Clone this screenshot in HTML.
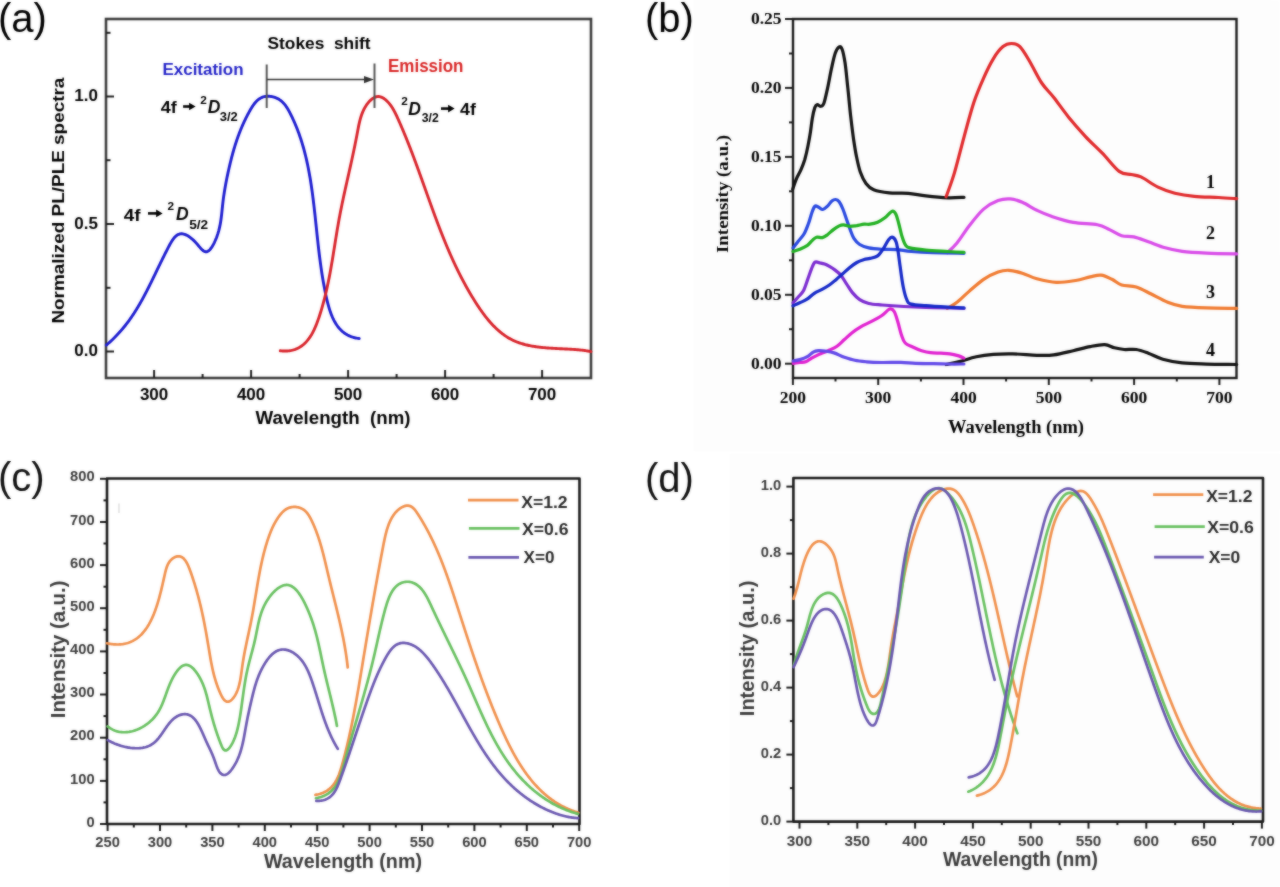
<!DOCTYPE html>
<html><head><meta charset="utf-8"><title>Spectra figure</title>
<style>
html,body{margin:0;padding:0;background:#fff;}
body{width:1280px;height:887px;overflow:hidden;position:relative;font-family:"Liberation Sans",sans-serif;}
svg{display:block;position:absolute;left:0;top:0;will-change:transform;}
#soft{filter:blur(1px);}
#sharp{opacity:0.5;}
</style></head>
<body>
<svg id="soft" width="1280" height="887" viewBox="0 0 1280 887">
<g id="fig">
<rect x="0" y="0" width="1280" height="887" fill="#ffffff"/>
<rect x="694" y="0" width="586" height="451" fill="#fdfdfd"/>
<rect x="730" y="454" width="550" height="433" fill="#fdfdfd"/>
<rect x="106.0" y="19.0" width="485" height="359" fill="none" stroke="#3c3c3c" stroke-width="2.6"/>
<line x1="106.0" y1="351.5" x2="114.0" y2="351.5" stroke="#1e1e1e" stroke-width="2.00"/>
<line x1="106.0" y1="224.0" x2="114.0" y2="224.0" stroke="#1e1e1e" stroke-width="2.00"/>
<line x1="106.0" y1="96.5" x2="114.0" y2="96.5" stroke="#1e1e1e" stroke-width="2.00"/>
<line x1="106.0" y1="287.8" x2="110.5" y2="287.8" stroke="#1e1e1e" stroke-width="2.00"/>
<line x1="106.0" y1="160.2" x2="110.5" y2="160.2" stroke="#1e1e1e" stroke-width="2.00"/>
<line x1="106.0" y1="32.8" x2="110.5" y2="32.8" stroke="#1e1e1e" stroke-width="2.00"/>
<line x1="154.1" y1="378.0" x2="154.1" y2="370.0" stroke="#1e1e1e" stroke-width="2.00"/>
<line x1="251.1" y1="378.0" x2="251.1" y2="370.0" stroke="#1e1e1e" stroke-width="2.00"/>
<line x1="348.1" y1="378.0" x2="348.1" y2="370.0" stroke="#1e1e1e" stroke-width="2.00"/>
<line x1="445.1" y1="378.0" x2="445.1" y2="370.0" stroke="#1e1e1e" stroke-width="2.00"/>
<line x1="542.1" y1="378.0" x2="542.1" y2="370.0" stroke="#1e1e1e" stroke-width="2.00"/>
<line x1="202.6" y1="378.0" x2="202.6" y2="374.0" stroke="#1e1e1e" stroke-width="2.00"/>
<line x1="299.6" y1="378.0" x2="299.6" y2="374.0" stroke="#1e1e1e" stroke-width="2.00"/>
<line x1="396.6" y1="378.0" x2="396.6" y2="374.0" stroke="#1e1e1e" stroke-width="2.00"/>
<line x1="493.6" y1="378.0" x2="493.6" y2="374.0" stroke="#1e1e1e" stroke-width="2.00"/>
<text x="98.0" y="356.1" font-family="'Liberation Sans', sans-serif" font-size="17.00" font-weight="bold" fill="#000" text-anchor="end">0.0</text>
<text x="98.0" y="228.6" font-family="'Liberation Sans', sans-serif" font-size="17.00" font-weight="bold" fill="#000" text-anchor="end">0.5</text>
<text x="98.0" y="101.1" font-family="'Liberation Sans', sans-serif" font-size="17.00" font-weight="bold" fill="#000" text-anchor="end">1.0</text>
<text x="154.1" y="399.8" font-family="'Liberation Sans', sans-serif" font-size="17.00" font-weight="bold" fill="#000" text-anchor="middle">300</text>
<text x="251.1" y="399.8" font-family="'Liberation Sans', sans-serif" font-size="17.00" font-weight="bold" fill="#000" text-anchor="middle">400</text>
<text x="348.1" y="399.8" font-family="'Liberation Sans', sans-serif" font-size="17.00" font-weight="bold" fill="#000" text-anchor="middle">500</text>
<text x="445.1" y="399.8" font-family="'Liberation Sans', sans-serif" font-size="17.00" font-weight="bold" fill="#000" text-anchor="middle">600</text>
<text x="542.1" y="399.8" font-family="'Liberation Sans', sans-serif" font-size="17.00" font-weight="bold" fill="#000" text-anchor="middle">700</text>
<text x="333.0" y="423.5" font-family="'Liberation Sans', sans-serif" font-size="17.50" font-weight="bold" fill="#000" text-anchor="middle" textLength="155" lengthAdjust="spacingAndGlyphs">Wavelength&#160;&#160;(nm)</text>
<text transform="translate(63.5,200.6) rotate(-90)" font-family="'Liberation Sans', sans-serif" font-size="17" font-weight="bold" fill="#000" text-anchor="middle" textLength="246" lengthAdjust="spacingAndGlyphs">Normalized PL/PLE spectra</text>
<path d="M106.34,345.14 L107.16,344.44 L107.96,343.74 L108.76,343.03 L109.55,342.32 L110.33,341.61 L111.10,340.90 L111.86,340.18 L112.62,339.46 L113.36,338.73 L114.10,338.01 L114.83,337.28 L115.55,336.54 L116.26,335.81 L116.97,335.07 L117.66,334.33 L118.35,333.59 L119.04,332.84 L119.71,332.09 L120.38,331.34 L121.04,330.58 L121.70,329.82 L122.34,329.06 L122.98,328.30 L123.62,327.53 L124.24,326.76 L124.86,325.99 L125.48,325.22 L126.09,324.44 L126.69,323.66 L127.28,322.88 L127.87,322.09 L128.46,321.31 L129.04,320.52 L129.61,319.72 L130.18,318.93 L130.74,318.13 L131.29,317.33 L131.85,316.52 L132.39,315.72 L132.94,314.91 L133.47,314.10 L134.01,313.29 L134.53,312.47 L135.06,311.65 L135.58,310.83 L136.09,310.01 L136.60,309.18 L137.11,308.35 L137.61,307.52 L138.11,306.69 L138.61,305.85 L139.10,305.02 L139.59,304.18 L140.08,303.33 L140.56,302.49 L141.04,301.64 L141.52,300.79 L141.99,299.94 L142.46,299.08 L142.93,298.23 L143.40,297.37 L143.86,296.51 L144.32,295.64 L144.78,294.78 L145.24,293.91 L145.70,293.04 L146.15,292.17 L146.60,291.29 L147.05,290.41 L147.50,289.54 L147.95,288.65 L148.40,287.77 L148.84,286.89 L149.29,286.00 L149.73,285.11 L150.17,284.22 L150.62,283.32 L151.06,282.43 L151.50,281.53 L151.94,280.63 L152.38,279.73 L152.82,278.82 L153.26,277.91 L153.70,277.01 L154.14,276.10 L154.59,275.18 L155.03,274.27 L155.47,273.35 L155.91,272.43 L156.36,271.51 L156.80,270.59 L157.25,269.67 L157.70,268.74 L158.14,267.82 L158.59,266.89 L159.05,265.95 L159.50,265.02 L159.95,264.09 L160.41,263.15 L160.87,262.21 L161.33,261.27 L161.79,260.33 L162.26,259.38 L162.73,258.44 L163.20,257.49 L163.67,256.54 L164.14,255.59 L164.62,254.64 L165.10,253.68 L165.59,252.72 L166.08,251.77 L166.57,250.81 L167.06,249.85 L167.56,248.88 L168.06,247.92 L168.57,246.95 L169.08,245.99 L169.59,245.02 L170.11,244.07 L170.64,243.13 L171.18,242.20 L171.73,241.30 L172.29,240.43 L172.86,239.59 L173.44,238.78 L174.04,238.02 L174.65,237.30 L175.28,236.64 L175.93,236.03 L176.60,235.49 L177.29,235.01 L178.00,234.60 L178.74,234.27 L179.50,234.01 L180.28,233.85 L181.09,233.77 L181.92,233.78 L182.78,233.88 L183.66,234.07 L184.55,234.33 L185.46,234.67 L186.37,235.08 L187.30,235.55 L188.22,236.09 L189.15,236.68 L190.07,237.33 L190.98,238.03 L191.89,238.77 L192.78,239.55 L193.66,240.37 L194.51,241.22 L195.35,242.10 L196.16,243.00 L196.95,243.91 L197.73,244.81 L198.48,245.70 L199.22,246.57 L199.94,247.41 L200.65,248.21 L201.35,248.95 L202.04,249.62 L202.71,250.23 L203.38,250.75 L204.04,251.18 L204.70,251.50 L205.35,251.71 L206.00,251.79 L206.65,251.74 L207.29,251.56 L207.93,251.25 L208.57,250.83 L209.20,250.31 L209.82,249.69 L210.44,248.99 L211.04,248.22 L211.63,247.38 L212.21,246.48 L212.77,245.54 L213.31,244.56 L213.84,243.56 L214.35,242.54 L214.83,241.51 L215.29,240.48 L215.74,239.46 L216.16,238.44 L216.56,237.42 L216.93,236.41 L217.29,235.39 L217.63,234.38 L217.96,233.38 L218.26,232.37 L218.55,231.37 L218.83,230.37 L219.08,229.38 L219.33,228.38 L219.56,227.39 L219.77,226.39 L219.98,225.40 L220.17,224.42 L220.35,223.43 L220.52,222.44 L220.69,221.46 L220.84,220.47 L220.98,219.49 L221.12,218.51 L221.25,217.53 L221.37,216.55 L221.49,215.57 L221.61,214.59 L221.72,213.61 L221.82,212.63 L221.93,211.65 L222.03,210.67 L222.13,209.69 L222.23,208.71 L222.33,207.73 L222.43,206.75 L222.53,205.77 L222.63,204.79 L222.74,203.81 L222.85,202.82 L222.97,201.84 L223.09,200.85 L223.21,199.86 L223.34,198.87 L223.47,197.89 L223.61,196.90 L223.75,195.91 L223.90,194.91 L224.05,193.92 L224.20,192.93 L224.35,191.94 L224.51,190.95 L224.68,189.95 L224.85,188.96 L225.02,187.97 L225.19,186.97 L225.37,185.98 L225.55,184.99 L225.73,184.00 L225.92,183.01 L226.11,182.02 L226.30,181.03 L226.49,180.04 L226.69,179.05 L226.89,178.06 L227.09,177.08 L227.30,176.09 L227.51,175.11 L227.72,174.13 L227.93,173.15 L228.14,172.17 L228.36,171.19 L228.58,170.21 L228.79,169.24 L229.02,168.27 L229.24,167.29 L229.46,166.33 L229.69,165.36 L229.92,164.39 L230.15,163.43 L230.38,162.47 L230.62,161.51 L230.86,160.55 L231.10,159.60 L231.34,158.64 L231.58,157.69 L231.83,156.74 L232.08,155.79 L232.34,154.84 L232.60,153.89 L232.86,152.95 L233.12,152.00 L233.39,151.06 L233.66,150.11 L233.93,149.17 L234.21,148.23 L234.49,147.29 L234.78,146.35 L235.07,145.42 L235.37,144.48 L235.67,143.54 L235.97,142.61 L236.28,141.68 L236.59,140.74 L236.91,139.81 L237.23,138.88 L237.56,137.94 L237.89,137.01 L238.23,136.08 L238.57,135.15 L238.92,134.22 L239.27,133.29 L239.63,132.36 L240.00,131.43 L240.37,130.50 L240.75,129.57 L241.13,128.64 L241.52,127.72 L241.92,126.79 L242.32,125.86 L242.73,124.93 L243.14,124.00 L243.56,123.07 L243.99,122.14 L244.43,121.21 L244.87,120.28 L245.32,119.35 L245.78,118.42 L246.24,117.48 L246.72,116.55 L247.19,115.62 L247.68,114.68 L248.18,113.75 L248.68,112.81 L249.19,111.88 L249.71,110.94 L250.24,110.01 L250.78,109.08 L251.33,108.15 L251.89,107.24 L252.46,106.35 L253.05,105.47 L253.66,104.61 L254.28,103.78 L254.92,102.98 L255.58,102.21 L256.26,101.47 L256.95,100.77 L257.68,100.11 L258.42,99.50 L259.19,98.93 L259.98,98.42 L260.81,97.96 L261.65,97.56 L262.53,97.21 L263.42,96.92 L264.33,96.69 L265.26,96.51 L266.21,96.38 L267.16,96.30 L268.13,96.28 L269.10,96.30 L270.07,96.38 L271.04,96.50 L272.01,96.67 L272.97,96.88 L273.92,97.14 L274.87,97.45 L275.80,97.79 L276.71,98.18 L277.60,98.62 L278.48,99.09 L279.32,99.60 L280.14,100.15 L280.93,100.73 L281.69,101.35 L282.41,102.01 L283.11,102.70 L283.78,103.41 L284.42,104.16 L285.04,104.93 L285.64,105.72 L286.22,106.54 L286.78,107.37 L287.32,108.22 L287.84,109.09 L288.35,109.97 L288.85,110.86 L289.34,111.75 L289.81,112.66 L290.28,113.57 L290.75,114.48 L291.20,115.39 L291.65,116.31 L292.09,117.22 L292.53,118.14 L292.96,119.06 L293.39,119.99 L293.81,120.91 L294.22,121.84 L294.63,122.77 L295.03,123.70 L295.43,124.63 L295.82,125.57 L296.21,126.50 L296.59,127.44 L296.96,128.38 L297.33,129.32 L297.69,130.26 L298.05,131.21 L298.40,132.16 L298.75,133.10 L299.09,134.05 L299.43,135.00 L299.76,135.96 L300.09,136.91 L300.41,137.86 L300.73,138.82 L301.04,139.78 L301.35,140.74 L301.65,141.70 L301.95,142.66 L302.24,143.62 L302.53,144.59 L302.82,145.55 L303.10,146.52 L303.37,147.49 L303.65,148.46 L303.91,149.42 L304.18,150.40 L304.44,151.37 L304.69,152.34 L304.94,153.31 L305.19,154.29 L305.43,155.26 L305.67,156.24 L305.91,157.22 L306.14,158.19 L306.37,159.17 L306.59,160.15 L306.81,161.13 L307.03,162.11 L307.24,163.09 L307.45,164.07 L307.66,165.05 L307.86,166.04 L308.06,167.02 L308.26,168.00 L308.45,168.99 L308.64,169.97 L308.83,170.96 L309.01,171.94 L309.20,172.93 L309.37,173.91 L309.55,174.90 L309.72,175.88 L309.89,176.87 L310.06,177.86 L310.23,178.84 L310.39,179.83 L310.55,180.82 L310.71,181.80 L310.86,182.79 L311.01,183.78 L311.17,184.76 L311.31,185.75 L311.46,186.74 L311.60,187.72 L311.75,188.71 L311.89,189.69 L312.03,190.68 L312.16,191.66 L312.30,192.65 L312.43,193.63 L312.56,194.62 L312.69,195.60 L312.82,196.59 L312.94,197.57 L313.07,198.55 L313.19,199.53 L313.31,200.51 L313.43,201.50 L313.55,202.48 L313.67,203.46 L313.79,204.44 L313.90,205.42 L314.02,206.40 L314.13,207.38 L314.24,208.36 L314.35,209.34 L314.46,210.32 L314.57,211.30 L314.68,212.28 L314.79,213.25 L314.90,214.23 L315.01,215.21 L315.11,216.19 L315.22,217.17 L315.32,218.15 L315.43,219.13 L315.53,220.10 L315.63,221.08 L315.74,222.06 L315.84,223.04 L315.94,224.02 L316.05,225.00 L316.15,225.98 L316.25,226.95 L316.35,227.93 L316.46,228.91 L316.56,229.89 L316.66,230.87 L316.77,231.85 L316.87,232.83 L316.97,233.81 L317.08,234.79 L317.18,235.77 L317.29,236.75 L317.39,237.73 L317.50,238.72 L317.60,239.70 L317.71,240.68 L317.82,241.66 L317.93,242.64 L318.03,243.63 L318.14,244.61 L318.26,245.60 L318.37,246.58 L318.48,247.57 L318.59,248.55 L318.71,249.54 L318.82,250.53 L318.94,251.51 L319.06,252.50 L319.18,253.49 L319.30,254.48 L319.42,255.47 L319.55,256.46 L319.67,257.45 L319.80,258.44 L319.93,259.43 L320.06,260.43 L320.19,261.42 L320.32,262.42 L320.46,263.41 L320.59,264.41 L320.73,265.40 L320.87,266.40 L321.01,267.40 L321.16,268.40 L321.31,269.40 L321.45,270.40 L321.60,271.40 L321.76,272.41 L321.91,273.41 L322.07,274.41 L322.23,275.42 L322.39,276.43 L322.56,277.44 L322.73,278.44 L322.90,279.45 L323.07,280.46 L323.24,281.48 L323.42,282.49 L323.60,283.50 L323.79,284.52 L323.97,285.54 L324.16,286.55 L324.36,287.57 L324.55,288.59 L324.75,289.61 L324.95,290.64 L325.16,291.66 L325.36,292.68 L325.57,293.71 L325.79,294.74 L326.01,295.77 L326.23,296.79 L326.46,297.82 L326.69,298.85 L326.93,299.87 L327.17,300.89 L327.42,301.91 L327.68,302.93 L327.94,303.94 L328.21,304.95 L328.49,305.95 L328.77,306.95 L329.07,307.94 L329.37,308.93 L329.68,309.91 L330.00,310.88 L330.34,311.84 L330.68,312.80 L331.03,313.75 L331.39,314.68 L331.77,315.61 L332.15,316.53 L332.55,317.43 L332.96,318.33 L333.39,319.21 L333.82,320.08 L334.27,320.94 L334.74,321.78 L335.21,322.61 L335.71,323.42 L336.22,324.22 L336.74,325.01 L337.28,325.77 L337.83,326.52 L338.41,327.26 L339.00,327.97 L339.60,328.67 L340.23,329.35 L340.87,330.01 L341.53,330.65 L342.21,331.27 L342.91,331.86 L343.62,332.44 L344.36,333.00 L345.12,333.53 L345.90,334.04 L346.70,334.52 L347.52,334.99 L348.36,335.42 L349.23,335.83 L350.11,336.22 L351.02,336.58 L351.96,336.92 L352.91,337.22 L353.89,337.50 L354.90,337.75 L355.93,337.98 L356.99,338.17 L358.07,338.33 L359.17,338.47" fill="none" stroke="#1c1cd0" stroke-width="2.90" stroke-linejoin="round" stroke-linecap="round"/>
<path d="M280.26,350.80 L281.50,350.92 L282.71,351.01 L283.90,351.05 L285.06,351.06 L286.20,351.03 L287.31,350.97 L288.39,350.87 L289.45,350.74 L290.48,350.58 L291.49,350.38 L292.48,350.15 L293.44,349.89 L294.38,349.60 L295.30,349.28 L296.20,348.94 L297.07,348.56 L297.93,348.15 L298.76,347.72 L299.57,347.26 L300.36,346.78 L301.14,346.27 L301.89,345.74 L302.62,345.18 L303.34,344.60 L304.04,343.99 L304.72,343.37 L305.38,342.72 L306.03,342.05 L306.66,341.37 L307.27,340.66 L307.87,339.94 L308.45,339.19 L309.02,338.43 L309.57,337.65 L310.11,336.86 L310.63,336.05 L311.15,335.23 L311.65,334.39 L312.13,333.54 L312.61,332.68 L313.07,331.80 L313.52,330.91 L313.96,330.02 L314.39,329.11 L314.81,328.19 L315.22,327.26 L315.62,326.33 L316.01,325.39 L316.39,324.44 L316.77,323.49 L317.14,322.52 L317.50,321.56 L317.85,320.59 L318.19,319.62 L318.53,318.64 L318.87,317.66 L319.20,316.68 L319.52,315.70 L319.84,314.72 L320.15,313.74 L320.46,312.76 L320.77,311.78 L321.07,310.80 L321.37,309.81 L321.66,308.83 L321.95,307.85 L322.23,306.87 L322.51,305.88 L322.79,304.90 L323.06,303.92 L323.33,302.94 L323.60,301.95 L323.86,300.97 L324.12,299.99 L324.37,299.00 L324.63,298.02 L324.87,297.04 L325.12,296.06 L325.36,295.07 L325.60,294.09 L325.83,293.11 L326.06,292.12 L326.29,291.14 L326.52,290.15 L326.74,289.17 L326.96,288.19 L327.18,287.20 L327.39,286.22 L327.60,285.24 L327.81,284.25 L328.02,283.27 L328.22,282.29 L328.42,281.30 L328.62,280.32 L328.82,279.33 L329.02,278.35 L329.21,277.37 L329.40,276.38 L329.59,275.40 L329.77,274.42 L329.96,273.43 L330.14,272.45 L330.32,271.47 L330.50,270.48 L330.68,269.50 L330.86,268.52 L331.03,267.53 L331.20,266.55 L331.37,265.57 L331.54,264.59 L331.71,263.60 L331.88,262.62 L332.05,261.64 L332.21,260.66 L332.38,259.67 L332.54,258.69 L332.70,257.71 L332.87,256.73 L333.03,255.75 L333.19,254.76 L333.35,253.78 L333.51,252.80 L333.67,251.82 L333.82,250.84 L333.98,249.86 L334.14,248.88 L334.30,247.90 L334.45,246.92 L334.61,245.94 L334.77,244.96 L334.92,243.98 L335.08,243.00 L335.24,242.02 L335.39,241.04 L335.55,240.06 L335.71,239.09 L335.87,238.11 L336.02,237.13 L336.18,236.15 L336.34,235.18 L336.50,234.20 L336.66,233.22 L336.82,232.24 L336.99,231.27 L337.15,230.29 L337.31,229.32 L337.48,228.34 L337.64,227.37 L337.81,226.39 L337.98,225.42 L338.15,224.44 L338.32,223.47 L338.49,222.49 L338.66,221.52 L338.84,220.55 L339.02,219.58 L339.19,218.60 L339.37,217.63 L339.56,216.66 L339.74,215.69 L339.92,214.72 L340.11,213.75 L340.30,212.78 L340.49,211.81 L340.68,210.84 L340.87,209.87 L341.07,208.90 L341.26,207.93 L341.46,206.96 L341.66,205.99 L341.86,205.02 L342.06,204.05 L342.26,203.08 L342.46,202.11 L342.67,201.15 L342.87,200.18 L343.08,199.21 L343.28,198.24 L343.49,197.27 L343.70,196.30 L343.91,195.33 L344.12,194.36 L344.33,193.39 L344.55,192.43 L344.76,191.46 L344.97,190.49 L345.19,189.52 L345.40,188.55 L345.62,187.58 L345.83,186.60 L346.05,185.63 L346.27,184.66 L346.48,183.69 L346.70,182.72 L346.92,181.75 L347.14,180.77 L347.36,179.80 L347.58,178.83 L347.80,177.85 L348.02,176.88 L348.24,175.90 L348.46,174.93 L348.68,173.95 L348.89,172.98 L349.11,172.00 L349.33,171.02 L349.55,170.04 L349.77,169.06 L349.99,168.08 L350.21,167.10 L350.43,166.12 L350.65,165.14 L350.87,164.16 L351.08,163.18 L351.30,162.19 L351.52,161.21 L351.74,160.22 L351.95,159.23 L352.17,158.25 L352.38,157.26 L352.60,156.27 L352.81,155.28 L353.02,154.29 L353.23,153.30 L353.45,152.31 L353.66,151.31 L353.87,150.32 L354.07,149.32 L354.28,148.32 L354.49,147.33 L354.69,146.33 L354.90,145.33 L355.10,144.33 L355.30,143.32 L355.51,142.32 L355.71,141.32 L355.90,140.31 L356.10,139.30 L356.30,138.30 L356.49,137.29 L356.69,136.27 L356.88,135.26 L357.07,134.25 L357.26,133.23 L357.45,132.22 L357.64,131.20 L357.83,130.19 L358.02,129.17 L358.21,128.15 L358.41,127.14 L358.61,126.13 L358.82,125.12 L359.04,124.11 L359.27,123.11 L359.50,122.11 L359.74,121.11 L360.00,120.12 L360.26,119.14 L360.54,118.16 L360.83,117.18 L361.14,116.22 L361.46,115.26 L361.80,114.30 L362.16,113.36 L362.53,112.42 L362.92,111.50 L363.34,110.58 L363.77,109.67 L364.23,108.77 L364.71,107.88 L365.22,107.01 L365.75,106.15 L366.30,105.29 L366.89,104.45 L367.50,103.63 L368.14,102.82 L368.80,102.04 L369.48,101.29 L370.19,100.57 L370.91,99.90 L371.65,99.27 L372.41,98.69 L373.18,98.16 L373.96,97.70 L374.75,97.31 L375.55,96.99 L376.35,96.75 L377.16,96.59 L377.97,96.52 L378.79,96.54 L379.60,96.65 L380.40,96.84 L381.21,97.11 L382.00,97.45 L382.79,97.85 L383.56,98.31 L384.32,98.82 L385.07,99.38 L385.79,99.97 L386.50,100.59 L387.18,101.24 L387.84,101.92 L388.49,102.62 L389.11,103.34 L389.72,104.09 L390.31,104.85 L390.88,105.64 L391.44,106.44 L391.98,107.26 L392.51,108.10 L393.02,108.96 L393.52,109.82 L394.02,110.70 L394.50,111.59 L394.97,112.50 L395.43,113.41 L395.88,114.33 L396.33,115.25 L396.77,116.18 L397.20,117.12 L397.63,118.06 L398.06,119.01 L398.48,119.95 L398.90,120.89 L399.32,121.84 L399.74,122.78 L400.15,123.73 L400.57,124.67 L400.98,125.62 L401.38,126.57 L401.79,127.51 L402.19,128.46 L402.60,129.40 L403.00,130.35 L403.39,131.30 L403.79,132.24 L404.18,133.19 L404.58,134.14 L404.97,135.08 L405.36,136.03 L405.74,136.98 L406.13,137.92 L406.51,138.87 L406.89,139.82 L407.28,140.76 L407.65,141.71 L408.03,142.66 L408.41,143.61 L408.78,144.55 L409.15,145.50 L409.53,146.45 L409.90,147.39 L410.26,148.34 L410.63,149.29 L411.00,150.24 L411.36,151.18 L411.73,152.13 L412.09,153.08 L412.45,154.02 L412.81,154.97 L413.17,155.92 L413.52,156.87 L413.88,157.81 L414.24,158.76 L414.59,159.71 L414.94,160.65 L415.29,161.60 L415.65,162.55 L416.00,163.49 L416.34,164.44 L416.69,165.38 L417.04,166.33 L417.39,167.28 L417.73,168.22 L418.08,169.17 L418.42,170.11 L418.77,171.06 L419.11,172.00 L419.45,172.95 L419.79,173.89 L420.14,174.84 L420.48,175.78 L420.82,176.73 L421.16,177.67 L421.50,178.61 L421.83,179.56 L422.17,180.50 L422.51,181.44 L422.85,182.39 L423.19,183.33 L423.52,184.27 L423.86,185.22 L424.20,186.16 L424.53,187.10 L424.87,188.04 L425.20,188.98 L425.54,189.92 L425.88,190.86 L426.21,191.80 L426.55,192.74 L426.88,193.68 L427.22,194.62 L427.55,195.56 L427.89,196.50 L428.23,197.44 L428.56,198.38 L428.90,199.32 L429.23,200.25 L429.57,201.19 L429.91,202.13 L430.25,203.06 L430.58,204.00 L430.92,204.94 L431.26,205.87 L431.60,206.81 L431.94,207.74 L432.28,208.67 L432.62,209.61 L432.96,210.54 L433.30,211.47 L433.64,212.41 L433.98,213.34 L434.32,214.27 L434.67,215.20 L435.01,216.13 L435.36,217.06 L435.70,217.99 L436.05,218.92 L436.40,219.85 L436.74,220.78 L437.09,221.71 L437.44,222.63 L437.79,223.56 L438.14,224.49 L438.50,225.41 L438.85,226.34 L439.20,227.26 L439.56,228.19 L439.92,229.11 L440.28,230.03 L440.63,230.96 L440.99,231.88 L441.36,232.80 L441.72,233.72 L442.08,234.64 L442.45,235.56 L442.81,236.48 L443.18,237.40 L443.55,238.32 L443.92,239.23 L444.29,240.15 L444.67,241.07 L445.04,241.98 L445.42,242.90 L445.80,243.81 L446.18,244.72 L446.56,245.64 L446.94,246.55 L447.33,247.46 L447.71,248.37 L448.10,249.28 L448.49,250.19 L448.88,251.10 L449.28,252.01 L449.67,252.92 L450.07,253.82 L450.47,254.73 L450.87,255.63 L451.27,256.54 L451.68,257.44 L452.08,258.34 L452.49,259.25 L452.90,260.15 L453.32,261.05 L453.73,261.95 L454.15,262.85 L454.57,263.75 L454.99,264.64 L455.41,265.54 L455.84,266.44 L456.27,267.33 L456.70,268.23 L457.13,269.12 L457.57,270.01 L458.01,270.91 L458.45,271.80 L458.89,272.69 L459.34,273.58 L459.78,274.47 L460.23,275.35 L460.69,276.24 L461.14,277.13 L461.60,278.01 L462.06,278.90 L462.53,279.78 L462.99,280.66 L463.46,281.54 L463.94,282.42 L464.41,283.30 L464.89,284.18 L465.37,285.06 L465.85,285.94 L466.34,286.81 L466.83,287.69 L467.32,288.56 L467.82,289.43 L468.32,290.31 L468.82,291.18 L469.32,292.05 L469.83,292.92 L470.34,293.79 L470.86,294.65 L471.37,295.52 L471.89,296.38 L472.42,297.25 L472.95,298.11 L473.48,298.97 L474.01,299.83 L474.55,300.69 L475.09,301.55 L475.63,302.41 L476.18,303.27 L476.73,304.12 L477.29,304.98 L477.85,305.83 L478.41,306.67 L478.98,307.52 L479.55,308.36 L480.13,309.20 L480.71,310.04 L481.29,310.87 L481.88,311.70 L482.47,312.52 L483.07,313.34 L483.68,314.16 L484.28,314.97 L484.90,315.77 L485.52,316.57 L486.14,317.37 L486.77,318.16 L487.40,318.94 L488.04,319.72 L488.69,320.49 L489.34,321.25 L489.99,322.01 L490.66,322.75 L491.32,323.49 L492.00,324.23 L492.68,324.95 L493.37,325.67 L494.06,326.38 L494.76,327.08 L495.46,327.77 L496.18,328.45 L496.90,329.12 L497.62,329.78 L498.35,330.44 L499.09,331.08 L499.84,331.71 L500.59,332.33 L501.36,332.94 L502.12,333.54 L502.90,334.13 L503.68,334.70 L504.47,335.27 L505.27,335.82 L506.08,336.36 L506.89,336.88 L507.72,337.40 L508.55,337.90 L509.38,338.38 L510.23,338.86 L511.09,339.32 L511.95,339.76 L512.82,340.19 L513.70,340.61 L514.59,341.01 L515.49,341.40 L516.40,341.77 L517.31,342.13 L518.23,342.47 L519.16,342.80 L520.10,343.12 L521.04,343.43 L522.00,343.72 L522.95,344.00 L523.92,344.27 L524.89,344.53 L525.86,344.78 L526.85,345.02 L527.83,345.24 L528.83,345.46 L529.82,345.66 L530.83,345.86 L531.83,346.05 L532.84,346.22 L533.86,346.39 L534.88,346.55 L535.90,346.71 L536.93,346.85 L537.96,346.99 L538.99,347.12 L540.02,347.24 L541.06,347.36 L542.10,347.47 L543.14,347.57 L544.19,347.67 L545.23,347.76 L546.28,347.85 L547.32,347.94 L548.37,348.02 L549.42,348.09 L550.47,348.16 L551.52,348.23 L552.57,348.30 L553.62,348.36 L554.67,348.42 L555.71,348.47 L556.76,348.53 L557.81,348.58 L558.85,348.63 L559.89,348.69 L560.93,348.74 L561.97,348.79 L563.00,348.84 L564.04,348.89 L565.07,348.94 L566.09,348.99 L567.12,349.04 L568.14,349.10 L569.15,349.15 L570.17,349.21 L571.17,349.27 L572.18,349.33 L573.18,349.40 L574.17,349.47 L575.16,349.54 L576.14,349.62 L577.12,349.70 L578.09,349.78 L579.05,349.87 L580.01,349.97 L580.97,350.07 L581.91,350.18 L582.85,350.29 L583.78,350.41 L584.70,350.53 L585.62,350.67 L586.53,350.81 L587.43,350.95 L588.32,351.11 L589.20,351.27 L590.07,351.44 L590.94,351.63" fill="none" stroke="#d8232a" stroke-width="2.90" stroke-linejoin="round" stroke-linecap="round"/>
<line x1="266.7" y1="64.5" x2="266.7" y2="108.0" stroke="#555" stroke-width="2.00"/>
<line x1="374.5" y1="63.5" x2="374.5" y2="108.0" stroke="#555" stroke-width="2.00"/>
<line x1="266.7" y1="79.6" x2="370.0" y2="79.6" stroke="#333" stroke-width="1.50"/>
<path d="M374,79.6 L364,76 L364,83.2 Z" fill="#333"/>
<text x="267.5" y="48.8" font-family="'Liberation Sans', sans-serif" font-size="16.20" font-weight="bold" fill="#000" text-anchor="start" textLength="103" lengthAdjust="spacingAndGlyphs">Stokes&#160;&#160;shift</text>
<text x="162.5" y="75.2" font-family="'Liberation Sans', sans-serif" font-size="16.50" font-weight="bold" fill="#2424c8" text-anchor="start" textLength="81" lengthAdjust="spacingAndGlyphs">Excitation</text>
<text x="388.0" y="72.2" font-family="'Liberation Sans', sans-serif" font-size="17.50" font-weight="bold" fill="#d92626" text-anchor="start" textLength="75.5" lengthAdjust="spacingAndGlyphs">Emission</text>
<text x="160.8" y="112.5" font-family="'Liberation Sans', sans-serif" font-size="16.50" font-weight="bold" fill="#000" text-anchor="start" textLength="16.0" lengthAdjust="spacingAndGlyphs">4f</text>
<path d="M183.1,106.5 L190.6,106.5" stroke="#000" stroke-width="2.6" fill="none"/>
<path d="M195.6,106.5 L189.1,102.7 L189.1,110.3 Z" fill="#000"/>
<text x="200.3" y="103.8" font-family="'Liberation Sans', sans-serif" font-size="11.80" font-weight="bold" fill="#000" text-anchor="start">2</text>
<text x="207.8" y="113.2" font-family="'Liberation Sans', sans-serif" font-size="17.50" font-weight="bold" fill="#000" text-anchor="start" font-style="italic">D</text>
<text x="219.8" y="120.6" font-family="'Liberation Sans', sans-serif" font-size="13.00" font-weight="bold" fill="#000" text-anchor="start" textLength="18.0" lengthAdjust="spacingAndGlyphs">3/2</text>
<text x="123.8" y="220.5" font-family="'Liberation Sans', sans-serif" font-size="16.50" font-weight="bold" fill="#000" text-anchor="start" textLength="16.8" lengthAdjust="spacingAndGlyphs">4f</text>
<path d="M148.0,213.4 L157.6,213.4" stroke="#000" stroke-width="2.6" fill="none"/>
<path d="M162.6,213.4 L156.1,209.6 L156.1,217.2 Z" fill="#000"/>
<text x="167.6" y="209.8" font-family="'Liberation Sans', sans-serif" font-size="11.80" font-weight="bold" fill="#000" text-anchor="start">2</text>
<text x="176.0" y="220.4" font-family="'Liberation Sans', sans-serif" font-size="17.50" font-weight="bold" fill="#000" text-anchor="start" font-style="italic">D</text>
<text x="189.2" y="228.6" font-family="'Liberation Sans', sans-serif" font-size="13.00" font-weight="bold" fill="#000" text-anchor="start" textLength="19.0" lengthAdjust="spacingAndGlyphs">5/2</text>
<text x="401.3" y="105.1" font-family="'Liberation Sans', sans-serif" font-size="11.80" font-weight="bold" fill="#000" text-anchor="start">2</text>
<text x="408.2" y="115.0" font-family="'Liberation Sans', sans-serif" font-size="17.50" font-weight="bold" fill="#000" text-anchor="start" font-style="italic">D</text>
<text x="421.8" y="122.3" font-family="'Liberation Sans', sans-serif" font-size="13.00" font-weight="bold" fill="#000" text-anchor="start" textLength="17.0" lengthAdjust="spacingAndGlyphs">3/2</text>
<path d="M441.0,108.6 L449.6,108.6" stroke="#000" stroke-width="2.6" fill="none"/>
<path d="M454.6,108.6 L448.1,104.8 L448.1,112.4 Z" fill="#000"/>
<text x="460.0" y="115.0" font-family="'Liberation Sans', sans-serif" font-size="16.50" font-weight="bold" fill="#000" text-anchor="start" textLength="15.8" lengthAdjust="spacingAndGlyphs">4f</text>
<text x="-2.0" y="31.5" font-family="'Liberation Sans', sans-serif" font-size="40.00" font-weight="normal" fill="#000" text-anchor="start">(a)</text>
<rect x="793.0" y="19.0" width="443.5" height="359.0" fill="none" stroke="#1a1a1a" stroke-width="2.4"/>
<line x1="793.0" y1="363.7" x2="785.0" y2="363.7" stroke="#1a1a1a" stroke-width="2.00"/>
<line x1="793.0" y1="294.8" x2="785.0" y2="294.8" stroke="#1a1a1a" stroke-width="2.00"/>
<line x1="793.0" y1="225.8" x2="785.0" y2="225.8" stroke="#1a1a1a" stroke-width="2.00"/>
<line x1="793.0" y1="156.9" x2="785.0" y2="156.9" stroke="#1a1a1a" stroke-width="2.00"/>
<line x1="793.0" y1="87.9" x2="785.0" y2="87.9" stroke="#1a1a1a" stroke-width="2.00"/>
<line x1="793.0" y1="19.0" x2="785.0" y2="19.0" stroke="#1a1a1a" stroke-width="2.00"/>
<line x1="793.0" y1="329.2" x2="789.0" y2="329.2" stroke="#1a1a1a" stroke-width="2.00"/>
<line x1="793.0" y1="260.3" x2="789.0" y2="260.3" stroke="#1a1a1a" stroke-width="2.00"/>
<line x1="793.0" y1="191.3" x2="789.0" y2="191.3" stroke="#1a1a1a" stroke-width="2.00"/>
<line x1="793.0" y1="122.4" x2="789.0" y2="122.4" stroke="#1a1a1a" stroke-width="2.00"/>
<line x1="793.0" y1="53.5" x2="789.0" y2="53.5" stroke="#1a1a1a" stroke-width="2.00"/>
<line x1="792.9" y1="378.0" x2="792.9" y2="385.0" stroke="#1a1a1a" stroke-width="2.00"/>
<line x1="878.2" y1="378.0" x2="878.2" y2="385.0" stroke="#1a1a1a" stroke-width="2.00"/>
<line x1="963.5" y1="378.0" x2="963.5" y2="385.0" stroke="#1a1a1a" stroke-width="2.00"/>
<line x1="1048.8" y1="378.0" x2="1048.8" y2="385.0" stroke="#1a1a1a" stroke-width="2.00"/>
<line x1="1134.1" y1="378.0" x2="1134.1" y2="385.0" stroke="#1a1a1a" stroke-width="2.00"/>
<line x1="1219.4" y1="378.0" x2="1219.4" y2="385.0" stroke="#1a1a1a" stroke-width="2.00"/>
<line x1="835.5" y1="378.0" x2="835.5" y2="381.5" stroke="#1a1a1a" stroke-width="2.00"/>
<line x1="920.9" y1="378.0" x2="920.9" y2="381.5" stroke="#1a1a1a" stroke-width="2.00"/>
<line x1="1006.1" y1="378.0" x2="1006.1" y2="381.5" stroke="#1a1a1a" stroke-width="2.00"/>
<line x1="1091.5" y1="378.0" x2="1091.5" y2="381.5" stroke="#1a1a1a" stroke-width="2.00"/>
<line x1="1176.8" y1="378.0" x2="1176.8" y2="381.5" stroke="#1a1a1a" stroke-width="2.00"/>
<text x="781.5" y="368.5" font-family="'Liberation Serif', serif" font-size="17.50" font-weight="bold" fill="#000" text-anchor="end">0.00</text>
<text x="781.5" y="299.6" font-family="'Liberation Serif', serif" font-size="17.50" font-weight="bold" fill="#000" text-anchor="end">0.05</text>
<text x="781.5" y="230.6" font-family="'Liberation Serif', serif" font-size="17.50" font-weight="bold" fill="#000" text-anchor="end">0.10</text>
<text x="781.5" y="161.7" font-family="'Liberation Serif', serif" font-size="17.50" font-weight="bold" fill="#000" text-anchor="end">0.15</text>
<text x="781.5" y="92.7" font-family="'Liberation Serif', serif" font-size="17.50" font-weight="bold" fill="#000" text-anchor="end">0.20</text>
<text x="781.5" y="23.8" font-family="'Liberation Serif', serif" font-size="17.50" font-weight="bold" fill="#000" text-anchor="end">0.25</text>
<text x="792.9" y="403.2" font-family="'Liberation Serif', serif" font-size="17.50" font-weight="bold" fill="#000" text-anchor="middle">200</text>
<text x="878.2" y="403.2" font-family="'Liberation Serif', serif" font-size="17.50" font-weight="bold" fill="#000" text-anchor="middle">300</text>
<text x="963.5" y="403.2" font-family="'Liberation Serif', serif" font-size="17.50" font-weight="bold" fill="#000" text-anchor="middle">400</text>
<text x="1048.8" y="403.2" font-family="'Liberation Serif', serif" font-size="17.50" font-weight="bold" fill="#000" text-anchor="middle">500</text>
<text x="1134.1" y="403.2" font-family="'Liberation Serif', serif" font-size="17.50" font-weight="bold" fill="#000" text-anchor="middle">600</text>
<text x="1219.4" y="403.2" font-family="'Liberation Serif', serif" font-size="17.50" font-weight="bold" fill="#000" text-anchor="middle">700</text>
<text x="1016.0" y="433.2" font-family="'Liberation Serif', serif" font-size="18.00" font-weight="bold" fill="#000" text-anchor="middle" textLength="136" lengthAdjust="spacingAndGlyphs">Wavelength (nm)</text>
<text transform="translate(727.5,194) rotate(-90)" font-family="'Liberation Serif', serif" font-size="17" font-weight="bold" fill="#000" text-anchor="middle" textLength="118" lengthAdjust="spacingAndGlyphs">Intensity (a.u.)</text>
<text x="1210.5" y="188.3" font-family="'Liberation Serif', serif" font-size="18.00" font-weight="bold" fill="#000" text-anchor="middle">1</text>
<text x="1210.5" y="239.3" font-family="'Liberation Serif', serif" font-size="18.00" font-weight="bold" fill="#000" text-anchor="middle">2</text>
<text x="1210.5" y="297.5" font-family="'Liberation Serif', serif" font-size="18.00" font-weight="bold" fill="#000" text-anchor="middle">3</text>
<text x="1210.5" y="355.6" font-family="'Liberation Serif', serif" font-size="18.00" font-weight="bold" fill="#000" text-anchor="middle">4</text>
<path d="M792.7,189.2 C793.3,187.5 794.8,182.6 796.2,179.3 C797.6,176.0 799.7,172.7 801.1,169.4 C802.5,166.1 803.6,163.4 804.8,159.5 C805.9,155.6 807.1,150.4 808.0,145.8 C808.9,141.2 809.7,136.8 810.4,132.2 C811.1,127.6 811.6,122.6 812.3,118.5 C813.0,114.4 814.0,109.9 814.8,107.6 C815.6,105.3 816.3,104.8 817.3,104.6 C818.2,104.4 819.4,106.5 820.5,106.3 C821.6,106.1 822.6,106.6 823.8,103.5 C825.0,100.4 826.4,93.4 827.7,87.6 C829.0,81.8 830.2,74.2 831.5,68.4 C832.8,62.6 834.0,56.6 835.3,53.0 C836.6,49.4 838.1,47.5 839.2,46.9 C840.3,46.3 841.1,46.6 842.1,49.2 C843.1,51.8 844.0,56.2 845.0,62.6 C846.0,69.0 846.8,78.6 847.8,87.6 C848.8,96.6 849.7,107.8 850.7,116.4 C851.7,125.0 852.6,132.7 853.6,139.4 C854.6,146.1 855.4,151.2 856.5,156.6 C857.6,162.0 858.7,167.5 860.3,172.0 C861.9,176.5 863.8,180.5 866.0,183.5 C868.2,186.5 869.8,188.2 873.7,189.8 C877.6,191.4 883.5,192.3 889.3,192.9 C895.1,193.5 902.2,192.8 908.3,193.3 C914.4,193.8 919.3,195.2 925.9,195.9 C932.5,196.7 941.5,197.6 947.9,197.8 C954.2,198.0 961.3,197.4 964.0,197.3" fill="none" stroke="#111111" stroke-width="3.20" stroke-linejoin="round" stroke-linecap="round"/>
<path d="M946.1,196.8 C947.5,192.8 951.5,182.7 954.5,172.6 C957.5,162.5 961.0,148.0 964.2,136.3 C967.4,124.6 970.7,112.0 973.9,102.3 C977.1,92.6 980.4,85.3 983.6,78.1 C986.8,70.8 990.1,64.0 993.3,58.8 C996.5,53.5 1000.0,49.1 1003.0,46.6 C1006.0,44.1 1008.6,43.5 1011.4,43.5 C1014.2,43.5 1016.9,43.6 1019.9,46.6 C1022.9,49.6 1026.0,55.1 1029.6,61.2 C1033.2,67.3 1037.7,77.0 1041.7,83.0 C1045.7,89.0 1049.3,91.8 1053.8,97.5 C1058.2,103.2 1063.2,110.4 1068.4,116.9 C1073.7,123.4 1079.7,130.2 1085.3,136.3 C1090.9,142.4 1096.6,147.3 1102.3,153.2 C1108.0,159.0 1114.4,167.8 1119.2,171.4 C1124.0,175.0 1127.7,173.6 1131.3,174.5 C1134.9,175.4 1136.5,174.8 1141.0,176.9 C1145.5,179.0 1152.3,184.4 1158.0,187.1 C1163.7,189.8 1168.9,191.7 1174.9,193.2 C1181.0,194.7 1187.0,195.6 1194.3,196.3 C1201.6,197.0 1211.4,197.1 1218.5,197.5 C1225.6,197.9 1233.7,198.5 1236.7,198.7" fill="none" stroke="#e0282a" stroke-width="3.20" stroke-linejoin="round" stroke-linecap="round"/>
<path d="M947.3,252.7 C948.9,251.1 953.4,247.4 957.0,243.0 C960.6,238.6 964.7,231.7 969.1,226.0 C973.5,220.3 978.8,213.3 983.6,209.1 C988.4,204.9 993.7,202.3 998.1,200.6 C1002.5,198.9 1006.2,198.6 1010.2,198.9 C1014.2,199.2 1017.8,200.4 1022.3,202.3 C1026.8,204.2 1032.1,208.0 1036.9,210.3 C1041.8,212.6 1045.4,214.3 1051.4,216.3 C1057.5,218.3 1065.5,221.0 1073.2,222.4 C1080.9,223.8 1091.4,223.6 1097.4,224.8 C1103.5,226.0 1105.5,227.8 1109.5,229.6 C1113.5,231.4 1117.5,234.5 1121.6,235.7 C1125.6,236.9 1129.3,235.9 1133.8,236.9 C1138.2,237.9 1143.1,240.0 1148.3,241.8 C1153.5,243.6 1159.5,246.2 1165.2,247.8 C1170.9,249.4 1175.3,250.5 1182.2,251.4 C1189.1,252.3 1197.3,252.7 1206.4,253.1 C1215.5,253.5 1231.7,253.8 1236.7,253.9" fill="none" stroke="#d84ae8" stroke-width="3.20" stroke-linejoin="round" stroke-linecap="round"/>
<path d="M947.3,308.4 C948.9,307.4 953.4,305.1 957.0,302.3 C960.6,299.5 964.7,295.2 969.1,291.4 C973.5,287.6 978.8,282.5 983.6,279.3 C988.4,276.1 993.9,273.5 998.1,272.0 C1002.3,270.5 1005.0,270.1 1009.0,270.3 C1013.0,270.5 1017.6,271.8 1022.3,273.2 C1027.0,274.6 1031.2,277.3 1036.9,278.8 C1042.6,280.3 1049.8,282.1 1056.3,282.4 C1062.8,282.7 1069.9,281.4 1075.6,280.5 C1081.2,279.6 1086.0,277.8 1090.2,276.9 C1094.5,276.0 1097.5,274.8 1101.1,275.2 C1104.7,275.6 1108.6,277.7 1112.0,279.3 C1115.4,280.9 1117.6,283.6 1121.6,284.9 C1125.6,286.2 1131.3,285.5 1136.2,287.0 C1141.1,288.5 1145.5,291.2 1150.7,293.8 C1156.0,296.4 1162.5,300.2 1167.7,302.3 C1173.0,304.4 1175.8,305.5 1182.2,306.4 C1188.7,307.3 1197.3,307.6 1206.4,307.9 C1215.5,308.2 1231.7,308.3 1236.7,308.4" fill="none" stroke="#f07a30" stroke-width="3.20" stroke-linejoin="round" stroke-linecap="round"/>
<path d="M946.1,364.5 C948.3,364.0 954.4,362.9 959.4,361.6 C964.4,360.3 970.6,358.0 976.3,356.8 C981.9,355.6 987.2,354.9 993.3,354.4 C999.4,353.9 1005.4,353.8 1012.7,353.9 C1020.0,354.0 1030.1,355.1 1036.9,355.3 C1043.8,355.5 1047.8,355.7 1053.8,354.9 C1059.8,354.1 1067.1,352.1 1073.2,350.7 C1079.3,349.3 1085.0,347.6 1090.2,346.6 C1095.5,345.6 1100.7,344.5 1104.7,344.7 C1108.7,344.9 1111.2,347.0 1114.4,347.8 C1117.6,348.6 1120.5,349.2 1124.1,349.5 C1127.7,349.8 1132.2,348.9 1136.2,349.5 C1140.2,350.1 1143.9,351.6 1148.3,353.2 C1152.7,354.8 1157.1,357.6 1162.8,359.2 C1168.5,360.8 1174.9,362.1 1182.2,362.9 C1189.5,363.7 1197.3,363.8 1206.4,364.1 C1215.5,364.4 1231.7,364.4 1236.7,364.5" fill="none" stroke="#111111" stroke-width="3.20" stroke-linejoin="round" stroke-linecap="round"/>
<path d="M793.0,247.9 C793.9,246.8 796.4,243.6 798.2,241.3 C800.0,239.0 802.3,236.9 804.0,234.0 C805.7,231.1 807.0,227.4 808.4,223.7 C809.8,220.0 811.0,214.9 812.1,212.0 C813.2,209.1 813.9,206.9 815.0,206.1 C816.1,205.3 817.4,206.7 818.7,207.3 C820.0,207.9 821.3,209.7 822.8,209.5 C824.3,209.3 826.0,207.5 827.5,206.1 C829.0,204.7 830.5,202.1 831.9,201.0 C833.2,199.9 834.4,199.4 835.6,199.5 C836.8,199.6 838.0,200.1 839.2,201.7 C840.4,203.3 841.7,206.1 842.9,209.0 C844.1,211.9 845.3,215.9 846.5,219.3 C847.7,222.7 849.0,226.4 850.2,229.6 C851.4,232.8 852.3,235.9 853.9,238.4 C855.5,240.9 857.2,242.9 859.7,244.5 C862.2,246.1 865.1,247.1 868.8,247.9 C872.5,248.7 877.4,249.0 882.0,249.3 C886.6,249.6 891.7,249.2 896.6,249.6 C901.5,250.0 905.2,251.0 911.3,251.5 C917.4,252.0 924.4,252.4 933.2,252.7 C942.0,253.0 958.9,253.2 964.0,253.3" fill="none" stroke="#2848e0" stroke-width="3.20" stroke-linejoin="round" stroke-linecap="round"/>
<path d="M793.0,251.5 C794.1,251.1 797.4,250.3 799.7,249.3 C802.0,248.3 804.9,247.1 807.0,245.7 C809.1,244.2 810.5,242.0 812.1,240.6 C813.7,239.2 814.8,237.7 816.5,237.2 C818.2,236.7 820.6,238.0 822.4,237.6 C824.2,237.2 825.7,236.0 827.5,234.7 C829.3,233.4 831.4,231.1 833.4,229.6 C835.4,228.1 837.5,226.7 839.2,225.9 C840.9,225.1 841.9,224.8 843.6,224.9 C845.3,225.0 847.3,226.2 849.5,226.3 C851.7,226.4 854.4,225.9 856.8,225.6 C859.2,225.2 861.9,224.4 864.1,224.2 C866.3,224.0 867.8,224.5 870.0,224.2 C872.2,223.9 875.1,223.3 877.6,222.2 C880.1,221.1 882.5,219.6 884.9,217.8 C887.3,216.0 890.4,211.8 892.2,211.2 C894.0,210.6 894.8,212.1 895.9,214.2 C897.0,216.3 897.8,220.2 898.8,223.7 C899.8,227.2 900.6,231.9 901.7,235.4 C902.8,238.9 904.0,242.8 905.4,244.9 C906.8,247.0 906.4,247.0 909.8,247.9 C913.2,248.8 919.5,249.5 925.9,250.1 C932.2,250.7 941.5,251.1 947.9,251.5 C954.2,251.9 961.3,252.2 964.0,252.3" fill="none" stroke="#20b020" stroke-width="3.20" stroke-linejoin="round" stroke-linecap="round"/>
<path d="M793.0,302.8 C793.9,301.8 796.5,298.9 798.2,297.0 C799.9,295.1 801.7,294.0 803.3,291.1 C804.9,288.2 806.4,283.1 807.7,279.4 C809.1,275.7 810.2,272.0 811.4,269.1 C812.6,266.2 813.5,263.1 815.0,262.1 C816.5,261.1 818.6,262.7 820.2,263.0 C821.8,263.3 823.1,263.5 824.6,264.0 C826.1,264.5 827.3,265.2 829.0,266.2 C830.7,267.2 832.8,268.4 834.8,269.9 C836.8,271.4 838.8,272.7 840.7,275.0 C842.7,277.3 844.5,280.9 846.5,283.8 C848.5,286.7 850.2,290.0 852.4,292.6 C854.6,295.2 857.0,297.8 859.7,299.6 C862.4,301.4 865.1,302.6 868.8,303.5 C872.5,304.4 876.1,304.5 882.0,305.0 C887.9,305.5 896.6,306.1 903.9,306.5 C911.2,306.9 918.6,307.2 925.9,307.4 C933.2,307.6 941.5,307.7 947.9,307.9 C954.2,308.1 961.3,308.3 964.0,308.4" fill="none" stroke="#7a2ad0" stroke-width="3.20" stroke-linejoin="round" stroke-linecap="round"/>
<path d="M793.0,305.8 C794.1,305.3 797.4,303.9 799.7,302.8 C802.0,301.7 804.6,300.8 807.0,299.2 C809.4,297.6 811.9,294.9 814.3,293.3 C816.7,291.7 819.1,290.9 821.6,289.6 C824.1,288.3 826.5,287.0 829.0,285.3 C831.5,283.6 834.1,281.2 836.3,279.4 C838.5,277.6 840.0,276.2 842.2,274.3 C844.4,272.4 847.1,269.7 849.5,267.7 C851.9,265.7 854.4,263.9 856.8,262.5 C859.2,261.1 861.9,260.3 864.1,259.6 C866.3,258.9 867.8,259.0 870.0,258.4 C872.2,257.8 875.4,257.5 877.6,255.9 C879.8,254.3 881.6,251.3 883.4,248.6 C885.2,245.9 887.1,241.7 888.6,239.8 C890.1,237.9 891.0,236.9 892.2,237.2 C893.4,237.4 894.9,238.9 895.9,241.3 C896.9,243.7 897.4,247.1 898.1,251.5 C898.8,255.9 899.4,261.7 900.3,267.6 C901.1,273.5 902.1,281.3 903.2,286.7 C904.3,292.1 905.5,297.0 906.9,299.9 C908.2,302.8 908.1,303.1 911.3,304.1 C914.5,305.1 919.8,305.2 925.9,305.7 C932.0,306.2 941.5,306.8 947.9,307.2 C954.2,307.6 961.3,307.8 964.0,307.9" fill="none" stroke="#1428c8" stroke-width="3.20" stroke-linejoin="round" stroke-linecap="round"/>
<path d="M793.2,363.3 C794.3,363.2 797.7,362.8 799.8,362.5 C801.9,362.2 803.8,362.5 805.8,361.8 C807.8,361.1 809.5,359.3 811.7,358.1 C813.9,356.9 816.4,355.6 819.1,354.4 C821.8,353.2 825.0,352.1 828.0,350.7 C831.0,349.3 834.3,348.1 837.0,346.2 C839.7,344.3 841.9,341.7 844.4,339.5 C846.9,337.3 849.1,335.0 851.8,332.9 C854.5,330.8 857.5,328.8 860.7,326.9 C863.9,325.0 867.6,323.5 871.1,321.7 C874.6,319.9 878.4,317.9 881.5,315.8 C884.6,313.7 887.5,309.9 889.6,309.1 C891.7,308.4 892.7,309.2 894.1,311.3 C895.5,313.4 896.6,317.7 897.8,321.7 C899.0,325.7 900.3,331.6 901.5,335.1 C902.7,338.7 903.3,341.0 905.2,343.0 C907.1,345.0 910.0,345.7 912.7,347.0 C915.4,348.3 918.6,349.8 921.6,350.7 C924.6,351.6 927.3,352.3 930.5,352.7 C933.7,353.1 937.7,353.0 940.9,353.2 C944.1,353.4 946.8,353.4 949.8,353.8 C952.8,354.2 956.4,355.2 958.7,355.9 C961.1,356.6 963.0,357.7 963.9,358.1" fill="none" stroke="#e020d0" stroke-width="3.20" stroke-linejoin="round" stroke-linecap="round"/>
<path d="M793.2,361.0 C794.3,360.8 797.4,360.3 799.8,359.6 C802.1,358.9 805.1,357.9 807.3,356.6 C809.5,355.4 811.4,353.1 813.2,352.1 C815.1,351.1 816.4,350.9 818.4,350.7 C820.4,350.5 822.5,350.7 825.1,351.1 C827.7,351.5 830.8,351.9 834.0,352.9 C837.2,353.9 840.9,356.1 844.4,357.3 C847.9,358.5 851.1,359.6 854.8,360.3 C858.5,361.1 862.1,361.4 866.6,361.8 C871.1,362.2 875.8,362.4 881.5,362.5 C887.2,362.6 895.1,362.2 900.8,362.3 C906.5,362.4 910.2,363.2 915.6,363.4 C921.0,363.6 928.0,363.5 933.4,363.6 C938.8,363.7 943.2,363.9 948.3,364.0 C953.4,364.1 961.3,364.0 963.9,364.0" fill="none" stroke="#6048e8" stroke-width="3.20" stroke-linejoin="round" stroke-linecap="round"/>
<text x="645.0" y="31.5" font-family="'Liberation Sans', sans-serif" font-size="40.00" font-weight="normal" fill="#000" text-anchor="start">(b)</text>
<rect x="107.0" y="478.5" width="472.5" height="345.5" fill="none" stroke="#1a1a1a" stroke-width="2.6" stroke-linejoin="round"/>
<line x1="107.0" y1="824.0" x2="100.0" y2="824.0" stroke="#1a1a1a" stroke-width="2.00"/>
<line x1="107.0" y1="780.9" x2="100.0" y2="780.9" stroke="#1a1a1a" stroke-width="2.00"/>
<line x1="107.0" y1="737.7" x2="100.0" y2="737.7" stroke="#1a1a1a" stroke-width="2.00"/>
<line x1="107.0" y1="694.5" x2="100.0" y2="694.5" stroke="#1a1a1a" stroke-width="2.00"/>
<line x1="107.0" y1="651.4" x2="100.0" y2="651.4" stroke="#1a1a1a" stroke-width="2.00"/>
<line x1="107.0" y1="608.2" x2="100.0" y2="608.2" stroke="#1a1a1a" stroke-width="2.00"/>
<line x1="107.0" y1="565.1" x2="100.0" y2="565.1" stroke="#1a1a1a" stroke-width="2.00"/>
<line x1="107.0" y1="522.0" x2="100.0" y2="522.0" stroke="#1a1a1a" stroke-width="2.00"/>
<line x1="107.0" y1="478.8" x2="100.0" y2="478.8" stroke="#1a1a1a" stroke-width="2.00"/>
<line x1="107.0" y1="802.4" x2="103.5" y2="802.4" stroke="#1a1a1a" stroke-width="2.00"/>
<line x1="107.0" y1="759.3" x2="103.5" y2="759.3" stroke="#1a1a1a" stroke-width="2.00"/>
<line x1="107.0" y1="716.1" x2="103.5" y2="716.1" stroke="#1a1a1a" stroke-width="2.00"/>
<line x1="107.0" y1="673.0" x2="103.5" y2="673.0" stroke="#1a1a1a" stroke-width="2.00"/>
<line x1="107.0" y1="629.8" x2="103.5" y2="629.8" stroke="#1a1a1a" stroke-width="2.00"/>
<line x1="107.0" y1="586.7" x2="103.5" y2="586.7" stroke="#1a1a1a" stroke-width="2.00"/>
<line x1="107.0" y1="543.5" x2="103.5" y2="543.5" stroke="#1a1a1a" stroke-width="2.00"/>
<line x1="107.0" y1="500.4" x2="103.5" y2="500.4" stroke="#1a1a1a" stroke-width="2.00"/>
<line x1="107.6" y1="824.0" x2="107.6" y2="831.0" stroke="#1a1a1a" stroke-width="2.00"/>
<line x1="160.0" y1="824.0" x2="160.0" y2="831.0" stroke="#1a1a1a" stroke-width="2.00"/>
<line x1="212.4" y1="824.0" x2="212.4" y2="831.0" stroke="#1a1a1a" stroke-width="2.00"/>
<line x1="264.8" y1="824.0" x2="264.8" y2="831.0" stroke="#1a1a1a" stroke-width="2.00"/>
<line x1="317.2" y1="824.0" x2="317.2" y2="831.0" stroke="#1a1a1a" stroke-width="2.00"/>
<line x1="369.6" y1="824.0" x2="369.6" y2="831.0" stroke="#1a1a1a" stroke-width="2.00"/>
<line x1="422.0" y1="824.0" x2="422.0" y2="831.0" stroke="#1a1a1a" stroke-width="2.00"/>
<line x1="474.4" y1="824.0" x2="474.4" y2="831.0" stroke="#1a1a1a" stroke-width="2.00"/>
<line x1="526.8" y1="824.0" x2="526.8" y2="831.0" stroke="#1a1a1a" stroke-width="2.00"/>
<line x1="579.2" y1="824.0" x2="579.2" y2="831.0" stroke="#1a1a1a" stroke-width="2.00"/>
<line x1="133.8" y1="824.0" x2="133.8" y2="827.5" stroke="#1a1a1a" stroke-width="2.00"/>
<line x1="186.2" y1="824.0" x2="186.2" y2="827.5" stroke="#1a1a1a" stroke-width="2.00"/>
<line x1="238.6" y1="824.0" x2="238.6" y2="827.5" stroke="#1a1a1a" stroke-width="2.00"/>
<line x1="291.0" y1="824.0" x2="291.0" y2="827.5" stroke="#1a1a1a" stroke-width="2.00"/>
<line x1="343.4" y1="824.0" x2="343.4" y2="827.5" stroke="#1a1a1a" stroke-width="2.00"/>
<line x1="395.8" y1="824.0" x2="395.8" y2="827.5" stroke="#1a1a1a" stroke-width="2.00"/>
<line x1="448.2" y1="824.0" x2="448.2" y2="827.5" stroke="#1a1a1a" stroke-width="2.00"/>
<line x1="500.6" y1="824.0" x2="500.6" y2="827.5" stroke="#1a1a1a" stroke-width="2.00"/>
<line x1="553.0" y1="824.0" x2="553.0" y2="827.5" stroke="#1a1a1a" stroke-width="2.00"/>
<text x="94.6" y="826.6" font-family="'Liberation Sans', sans-serif" font-size="14.70" font-weight="bold" fill="#3a3a3a" text-anchor="end">0</text>
<text x="94.6" y="783.5" font-family="'Liberation Sans', sans-serif" font-size="14.70" font-weight="bold" fill="#3a3a3a" text-anchor="end">100</text>
<text x="94.6" y="740.3" font-family="'Liberation Sans', sans-serif" font-size="14.70" font-weight="bold" fill="#3a3a3a" text-anchor="end">200</text>
<text x="94.6" y="697.1" font-family="'Liberation Sans', sans-serif" font-size="14.70" font-weight="bold" fill="#3a3a3a" text-anchor="end">300</text>
<text x="94.6" y="654.0" font-family="'Liberation Sans', sans-serif" font-size="14.70" font-weight="bold" fill="#3a3a3a" text-anchor="end">400</text>
<text x="94.6" y="610.9" font-family="'Liberation Sans', sans-serif" font-size="14.70" font-weight="bold" fill="#3a3a3a" text-anchor="end">500</text>
<text x="94.6" y="567.7" font-family="'Liberation Sans', sans-serif" font-size="14.70" font-weight="bold" fill="#3a3a3a" text-anchor="end">600</text>
<text x="94.6" y="524.6" font-family="'Liberation Sans', sans-serif" font-size="14.70" font-weight="bold" fill="#3a3a3a" text-anchor="end">700</text>
<text x="94.6" y="481.4" font-family="'Liberation Sans', sans-serif" font-size="14.70" font-weight="bold" fill="#3a3a3a" text-anchor="end">800</text>
<text x="107.6" y="846.9" font-family="'Liberation Sans', sans-serif" font-size="14.70" font-weight="bold" fill="#3a3a3a" text-anchor="middle">250</text>
<text x="160.0" y="846.9" font-family="'Liberation Sans', sans-serif" font-size="14.70" font-weight="bold" fill="#3a3a3a" text-anchor="middle">300</text>
<text x="212.4" y="846.9" font-family="'Liberation Sans', sans-serif" font-size="14.70" font-weight="bold" fill="#3a3a3a" text-anchor="middle">350</text>
<text x="264.8" y="846.9" font-family="'Liberation Sans', sans-serif" font-size="14.70" font-weight="bold" fill="#3a3a3a" text-anchor="middle">400</text>
<text x="317.2" y="846.9" font-family="'Liberation Sans', sans-serif" font-size="14.70" font-weight="bold" fill="#3a3a3a" text-anchor="middle">450</text>
<text x="369.6" y="846.9" font-family="'Liberation Sans', sans-serif" font-size="14.70" font-weight="bold" fill="#3a3a3a" text-anchor="middle">500</text>
<text x="422.0" y="846.9" font-family="'Liberation Sans', sans-serif" font-size="14.70" font-weight="bold" fill="#3a3a3a" text-anchor="middle">550</text>
<text x="474.4" y="846.9" font-family="'Liberation Sans', sans-serif" font-size="14.70" font-weight="bold" fill="#3a3a3a" text-anchor="middle">600</text>
<text x="526.8" y="846.9" font-family="'Liberation Sans', sans-serif" font-size="14.70" font-weight="bold" fill="#3a3a3a" text-anchor="middle">650</text>
<text x="579.2" y="846.9" font-family="'Liberation Sans', sans-serif" font-size="14.70" font-weight="bold" fill="#3a3a3a" text-anchor="middle">700</text>
<text x="343.0" y="868.0" font-family="'Liberation Sans', sans-serif" font-size="19.50" font-weight="bold" fill="#3a3a3a" text-anchor="middle" textLength="158" lengthAdjust="spacingAndGlyphs">Wavelength (nm)</text>
<text transform="translate(65,649.4) rotate(-90)" font-family="'Liberation Sans', sans-serif" font-size="20" font-weight="bold" fill="#3a3a3a" text-anchor="middle" textLength="137.6" lengthAdjust="spacingAndGlyphs">Intensity (a.u.)</text>
<path d="M106.94,643.28 L107.92,643.47 L108.90,643.65 L109.89,643.82 L110.88,643.98 L111.86,644.11 L112.86,644.23 L113.85,644.33 L114.85,644.40 L115.85,644.45 L116.84,644.48 L117.84,644.48 L118.84,644.46 L119.84,644.41 L120.83,644.33 L121.83,644.23 L122.82,644.10 L123.80,643.94 L124.78,643.75 L125.75,643.52 L126.72,643.27 L127.68,642.99 L128.63,642.68 L129.56,642.34 L130.49,641.97 L131.40,641.57 L132.30,641.14 L133.19,640.68 L134.06,640.19 L134.91,639.67 L135.75,639.13 L136.57,638.57 L137.38,637.97 L138.16,637.36 L138.93,636.72 L139.68,636.06 L140.42,635.38 L141.13,634.69 L141.83,633.97 L142.50,633.24 L143.17,632.49 L143.81,631.72 L144.44,630.95 L145.05,630.16 L145.64,629.35 L146.22,628.54 L146.78,627.71 L147.33,626.88 L147.86,626.03 L148.38,625.18 L148.89,624.32 L149.38,623.45 L149.86,622.57 L150.33,621.69 L150.78,620.80 L151.23,619.90 L151.66,619.00 L152.08,618.09 L152.50,617.18 L152.90,616.27 L153.29,615.35 L153.67,614.42 L154.05,613.50 L154.41,612.57 L154.77,611.63 L155.12,610.69 L155.46,609.75 L155.79,608.81 L156.12,607.87 L156.44,606.92 L156.76,605.97 L157.06,605.02 L157.36,604.07 L157.66,603.11 L157.95,602.15 L158.24,601.20 L158.51,600.24 L158.79,599.27 L159.06,598.31 L159.33,597.35 L159.59,596.38 L159.84,595.42 L160.10,594.45 L160.35,593.48 L160.59,592.51 L160.84,591.54 L161.08,590.57 L161.32,589.60 L161.55,588.63 L161.78,587.65 L162.01,586.68 L162.24,585.71 L162.47,584.73 L162.69,583.76 L162.91,582.78 L163.14,581.81 L163.36,580.83 L163.58,579.86 L163.80,578.88 L164.01,577.91 L164.23,576.93 L164.45,575.95 L164.67,574.98 L164.89,574.00 L165.12,573.03 L165.35,572.06 L165.59,571.09 L165.85,570.12 L166.12,569.16 L166.41,568.20 L166.73,567.26 L167.07,566.32 L167.44,565.40 L167.85,564.49 L168.31,563.60 L168.80,562.74 L169.34,561.91 L169.93,561.11 L170.57,560.36 L171.26,559.64 L172.00,558.98 L172.78,558.37 L173.60,557.82 L174.46,557.33 L175.35,556.92 L176.27,556.59 L177.22,556.37 L178.18,556.26 L179.14,556.28 L180.08,556.44 L180.99,556.74 L181.86,557.16 L182.67,557.69 L183.42,558.31 L184.12,559.01 L184.76,559.76 L185.36,560.55 L185.91,561.38 L186.43,562.23 L186.91,563.10 L187.37,563.99 L187.81,564.89 L188.22,565.80 L188.62,566.71 L189.00,567.64 L189.37,568.57 L189.73,569.50 L190.08,570.44 L190.42,571.38 L190.76,572.32 L191.09,573.26 L191.42,574.21 L191.74,575.15 L192.06,576.10 L192.38,577.05 L192.69,578.00 L193.01,578.95 L193.32,579.90 L193.62,580.85 L193.93,581.80 L194.23,582.76 L194.52,583.71 L194.82,584.67 L195.11,585.62 L195.40,586.58 L195.69,587.54 L195.97,588.50 L196.25,589.46 L196.53,590.42 L196.80,591.38 L197.07,592.34 L197.34,593.30 L197.61,594.27 L197.87,595.23 L198.13,596.20 L198.39,597.16 L198.64,598.13 L198.90,599.10 L199.15,600.07 L199.39,601.04 L199.64,602.01 L199.88,602.98 L200.12,603.95 L200.35,604.92 L200.58,605.89 L200.82,606.87 L201.04,607.84 L201.27,608.81 L201.49,609.79 L201.71,610.76 L201.93,611.74 L202.15,612.72 L202.36,613.69 L202.57,614.67 L202.78,615.65 L202.99,616.63 L203.19,617.61 L203.39,618.59 L203.59,619.56 L203.79,620.55 L203.99,621.53 L204.18,622.51 L204.37,623.49 L204.56,624.47 L204.75,625.45 L204.94,626.43 L205.12,627.42 L205.31,628.40 L205.49,629.38 L205.67,630.37 L205.85,631.35 L206.03,632.33 L206.20,633.32 L206.38,634.30 L206.55,635.29 L206.72,636.27 L206.90,637.26 L207.07,638.24 L207.24,639.23 L207.41,640.21 L207.57,641.20 L207.74,642.19 L207.91,643.17 L208.07,644.16 L208.24,645.15 L208.40,646.13 L208.57,647.12 L208.73,648.10 L208.89,649.09 L209.06,650.08 L209.22,651.06 L209.38,652.05 L209.55,653.04 L209.71,654.02 L209.88,655.01 L210.05,656.00 L210.21,656.98 L210.39,657.97 L210.56,658.95 L210.74,659.94 L210.92,660.92 L211.10,661.90 L211.28,662.88 L211.47,663.87 L211.67,664.85 L211.87,665.83 L212.07,666.81 L212.27,667.79 L212.49,668.76 L212.70,669.74 L212.93,670.71 L213.15,671.69 L213.39,672.66 L213.63,673.63 L213.88,674.60 L214.13,675.57 L214.39,676.53 L214.66,677.50 L214.93,678.46 L215.21,679.42 L215.50,680.37 L215.80,681.33 L216.10,682.28 L216.41,683.23 L216.73,684.18 L217.06,685.12 L217.40,686.06 L217.74,687.00 L218.10,687.94 L218.46,688.87 L218.83,689.80 L219.21,690.72 L219.60,691.64 L220.00,692.56 L220.41,693.47 L220.83,694.38 L221.27,695.28 L221.72,696.16 L222.20,697.04 L222.71,697.89 L223.26,698.72 L223.86,699.51 L224.51,700.23 L225.23,700.85 L226.02,701.34 L226.87,701.65 L227.75,701.75 L228.64,701.64 L229.50,701.33 L230.32,700.87 L231.10,700.29 L231.82,699.62 L232.50,698.90 L233.14,698.14 L233.75,697.35 L234.32,696.54 L234.86,695.70 L235.37,694.84 L235.85,693.97 L236.30,693.08 L236.72,692.17 L237.12,691.26 L237.49,690.33 L237.84,689.39 L238.16,688.45 L238.47,687.50 L238.75,686.54 L239.02,685.58 L239.27,684.61 L239.50,683.64 L239.72,682.66 L239.93,681.68 L240.13,680.70 L240.31,679.72 L240.49,678.74 L240.65,677.75 L240.81,676.76 L240.97,675.78 L241.11,674.79 L241.26,673.80 L241.40,672.81 L241.53,671.82 L241.67,670.83 L241.80,669.83 L241.94,668.84 L242.07,667.85 L242.21,666.86 L242.35,665.87 L242.49,664.88 L242.64,663.89 L242.79,662.90 L242.94,661.92 L243.10,660.93 L243.26,659.94 L243.42,658.95 L243.59,657.97 L243.76,656.98 L243.94,656.00 L244.12,655.02 L244.30,654.03 L244.48,653.05 L244.67,652.07 L244.86,651.09 L245.05,650.10 L245.25,649.12 L245.44,648.14 L245.64,647.16 L245.84,646.18 L246.05,645.20 L246.25,644.22 L246.46,643.25 L246.66,642.27 L246.87,641.29 L247.08,640.31 L247.29,639.33 L247.50,638.36 L247.71,637.38 L247.92,636.40 L248.14,635.42 L248.35,634.45 L248.56,633.47 L248.77,632.49 L248.98,631.52 L249.19,630.54 L249.40,629.56 L249.61,628.58 L249.82,627.60 L250.02,626.63 L250.23,625.65 L250.43,624.67 L250.63,623.69 L250.83,622.71 L251.03,621.73 L251.23,620.75 L251.42,619.77 L251.61,618.78 L251.80,617.80 L251.98,616.82 L252.17,615.84 L252.35,614.85 L252.53,613.87 L252.71,612.89 L252.88,611.90 L253.06,610.92 L253.23,609.93 L253.40,608.95 L253.57,607.96 L253.74,606.98 L253.91,605.99 L254.07,605.00 L254.24,604.02 L254.40,603.03 L254.57,602.04 L254.73,601.06 L254.89,600.07 L255.06,599.08 L255.22,598.10 L255.38,597.11 L255.54,596.12 L255.70,595.14 L255.87,594.15 L256.03,593.16 L256.19,592.18 L256.35,591.19 L256.51,590.20 L256.68,589.22 L256.84,588.23 L257.00,587.24 L257.17,586.26 L257.33,585.27 L257.50,584.28 L257.67,583.30 L257.84,582.31 L258.01,581.33 L258.18,580.34 L258.35,579.36 L258.53,578.37 L258.70,577.39 L258.88,576.40 L259.06,575.42 L259.24,574.44 L259.43,573.45 L259.61,572.47 L259.80,571.49 L259.99,570.51 L260.18,569.53 L260.38,568.55 L260.57,567.57 L260.77,566.59 L260.98,565.61 L261.18,564.63 L261.39,563.65 L261.60,562.67 L261.82,561.70 L262.04,560.72 L262.26,559.75 L262.48,558.77 L262.71,557.80 L262.94,556.82 L263.18,555.85 L263.42,554.88 L263.66,553.91 L263.91,552.94 L264.16,551.98 L264.42,551.01 L264.68,550.04 L264.94,549.08 L265.21,548.12 L265.48,547.15 L265.76,546.19 L266.05,545.23 L266.33,544.28 L266.63,543.32 L266.92,542.37 L267.23,541.41 L267.53,540.46 L267.85,539.51 L268.17,538.56 L268.49,537.62 L268.82,536.68 L269.16,535.73 L269.51,534.80 L269.86,533.86 L270.22,532.93 L270.59,532.00 L270.97,531.07 L271.36,530.15 L271.75,529.23 L272.16,528.32 L272.58,527.41 L273.00,526.51 L273.44,525.61 L273.89,524.72 L274.36,523.83 L274.83,522.95 L275.32,522.08 L275.82,521.21 L276.33,520.36 L276.86,519.51 L277.40,518.67 L277.95,517.83 L278.52,517.01 L279.10,516.20 L279.70,515.40 L280.31,514.61 L280.95,513.84 L281.60,513.09 L282.28,512.36 L282.99,511.66 L283.72,510.98 L284.49,510.35 L285.29,509.75 L286.11,509.21 L286.97,508.71 L287.86,508.28 L288.78,507.90 L289.72,507.59 L290.68,507.33 L291.65,507.14 L292.64,507.01 L293.63,506.94 L294.62,506.92 L295.61,506.96 L296.60,507.06 L297.58,507.21 L298.55,507.42 L299.51,507.69 L300.45,508.01 L301.36,508.40 L302.25,508.84 L303.10,509.34 L303.92,509.90 L304.70,510.51 L305.44,511.17 L306.14,511.88 L306.80,512.62 L307.42,513.39 L308.01,514.19 L308.57,515.02 L309.11,515.86 L309.61,516.72 L310.10,517.60 L310.57,518.48 L311.03,519.37 L311.47,520.26 L311.91,521.16 L312.34,522.07 L312.75,522.97 L313.17,523.88 L313.57,524.80 L313.97,525.72 L314.36,526.64 L314.74,527.56 L315.12,528.49 L315.49,529.42 L315.85,530.35 L316.21,531.28 L316.56,532.22 L316.91,533.15 L317.25,534.09 L317.58,535.04 L317.91,535.98 L318.24,536.93 L318.55,537.88 L318.87,538.83 L319.17,539.78 L319.48,540.73 L319.77,541.69 L320.07,542.64 L320.36,543.60 L320.64,544.56 L320.92,545.52 L321.20,546.48 L321.47,547.44 L321.74,548.40 L322.00,549.37 L322.26,550.33 L322.52,551.30 L322.78,552.27 L323.03,553.23 L323.28,554.20 L323.53,555.17 L323.77,556.14 L324.02,557.11 L324.26,558.08 L324.50,559.05 L324.73,560.02 L324.97,560.99 L325.20,561.97 L325.44,562.94 L325.67,563.91 L325.90,564.88 L326.13,565.86 L326.36,566.83 L326.59,567.80 L326.82,568.78 L327.05,569.75 L327.27,570.73 L327.50,571.70 L327.73,572.67 L327.96,573.65 L328.19,574.62 L328.42,575.59 L328.65,576.56 L328.89,577.54 L329.12,578.51 L329.35,579.48 L329.59,580.45 L329.83,581.42 L330.06,582.40 L330.30,583.37 L330.54,584.34 L330.78,585.31 L331.02,586.28 L331.26,587.25 L331.50,588.22 L331.74,589.19 L331.98,590.16 L332.22,591.13 L332.46,592.10 L332.71,593.07 L332.95,594.04 L333.19,595.01 L333.43,595.98 L333.68,596.96 L333.92,597.93 L334.16,598.90 L334.40,599.87 L334.64,600.84 L334.88,601.81 L335.13,602.78 L335.37,603.75 L335.61,604.72 L335.85,605.69 L336.09,606.66 L336.33,607.63 L336.56,608.60 L336.80,609.57 L337.04,610.55 L337.27,611.52 L337.51,612.49 L337.74,613.46 L337.98,614.43 L338.21,615.41 L338.44,616.38 L338.67,617.35 L338.90,618.33 L339.13,619.30 L339.35,620.27 L339.58,621.25 L339.80,622.22 L340.03,623.20 L340.25,624.17 L340.47,625.15 L340.69,626.12 L340.90,627.10 L341.12,628.08 L341.33,629.05 L341.54,630.03 L341.75,631.01 L341.96,631.99 L342.16,632.97 L342.37,633.94 L342.57,634.92 L342.77,635.90 L342.97,636.88 L343.16,637.87 L343.35,638.85 L343.54,639.83 L343.73,640.81 L343.92,641.79 L344.10,642.78 L344.28,643.76 L344.46,644.74 L344.64,645.73 L344.81,646.71 L344.98,647.70 L345.15,648.68 L345.31,649.67 L345.47,650.66 L345.63,651.64 L345.79,652.63 L345.94,653.62 L346.09,654.61 L346.24,655.60 L346.38,656.59 L346.52,657.58 L346.66,658.57 L346.79,659.56 L346.92,660.55 L347.05,661.54 L347.17,662.54 L347.29,663.53 L347.40,664.52 L347.52,665.51 L347.63,666.51 L347.74,667.50" fill="none" stroke="#f0904c" stroke-width="2.70" stroke-linejoin="round" stroke-linecap="round"/>
<path d="M107.66,726.35 L108.45,726.96 L109.26,727.54 L110.08,728.11 L110.92,728.64 L111.78,729.15 L112.66,729.61 L113.56,730.04 L114.48,730.44 L115.41,730.79 L116.36,731.10 L117.31,731.38 L118.28,731.62 L119.26,731.81 L120.24,731.97 L121.23,732.10 L122.23,732.18 L123.22,732.23 L124.22,732.25 L125.22,732.23 L126.21,732.17 L127.21,732.09 L128.20,731.97 L129.19,731.83 L130.17,731.65 L131.14,731.45 L132.12,731.22 L133.08,730.96 L134.04,730.67 L134.99,730.37 L135.93,730.03 L136.86,729.68 L137.79,729.30 L138.70,728.90 L139.61,728.48 L140.51,728.04 L141.39,727.58 L142.27,727.10 L143.13,726.60 L143.99,726.08 L144.83,725.54 L145.66,724.99 L146.48,724.41 L147.28,723.82 L148.08,723.21 L148.85,722.59 L149.62,721.95 L150.37,721.29 L151.11,720.62 L151.83,719.92 L152.54,719.22 L153.23,718.49 L153.90,717.76 L154.55,717.00 L155.19,716.23 L155.81,715.45 L156.41,714.65 L156.98,713.83 L157.54,713.01 L158.08,712.17 L158.61,711.31 L159.11,710.45 L159.59,709.58 L160.06,708.70 L160.52,707.80 L160.96,706.91 L161.38,706.00 L161.79,705.09 L162.19,704.17 L162.58,703.25 L162.96,702.33 L163.33,701.40 L163.69,700.47 L164.04,699.53 L164.39,698.59 L164.74,697.66 L165.08,696.72 L165.42,695.78 L165.76,694.83 L166.09,693.89 L166.43,692.95 L166.77,692.01 L167.11,691.07 L167.46,690.13 L167.81,689.20 L168.16,688.26 L168.52,687.33 L168.89,686.40 L169.26,685.47 L169.65,684.55 L170.04,683.63 L170.44,682.71 L170.85,681.80 L171.28,680.90 L171.71,680.00 L172.16,679.10 L172.62,678.21 L173.09,677.33 L173.58,676.46 L174.08,675.60 L174.59,674.74 L175.12,673.89 L175.67,673.06 L176.23,672.23 L176.82,671.42 L177.42,670.63 L178.05,669.85 L178.70,669.10 L179.38,668.37 L180.10,667.68 L180.85,667.03 L181.64,666.44 L182.47,665.92 L183.34,665.48 L184.25,665.16 L185.19,664.95 L186.14,664.89 L187.10,664.96 L188.04,665.17 L188.95,665.50 L189.83,665.93 L190.67,666.44 L191.47,667.02 L192.24,667.65 L192.97,668.32 L193.67,669.03 L194.34,669.77 L194.99,670.53 L195.61,671.31 L196.21,672.10 L196.80,672.92 L197.36,673.74 L197.91,674.58 L198.44,675.42 L198.96,676.28 L199.46,677.14 L199.94,678.02 L200.42,678.90 L200.88,679.78 L201.32,680.68 L201.75,681.58 L202.17,682.49 L202.57,683.40 L202.96,684.32 L203.34,685.25 L203.70,686.18 L204.05,687.12 L204.39,688.06 L204.72,689.00 L205.03,689.95 L205.34,690.90 L205.63,691.86 L205.92,692.82 L206.19,693.78 L206.46,694.74 L206.72,695.71 L206.97,696.67 L207.22,697.64 L207.46,698.61 L207.70,699.58 L207.94,700.56 L208.17,701.53 L208.40,702.50 L208.63,703.48 L208.86,704.45 L209.09,705.42 L209.32,706.40 L209.55,707.37 L209.78,708.34 L210.02,709.31 L210.26,710.28 L210.50,711.25 L210.74,712.22 L210.98,713.19 L211.23,714.16 L211.48,715.13 L211.74,716.10 L211.99,717.07 L212.25,718.03 L212.52,719.00 L212.78,719.96 L213.05,720.92 L213.33,721.88 L213.60,722.84 L213.88,723.80 L214.17,724.76 L214.46,725.72 L214.75,726.68 L215.05,727.63 L215.35,728.59 L215.65,729.54 L215.96,730.49 L216.27,731.44 L216.59,732.39 L216.91,733.33 L217.24,734.28 L217.56,735.22 L217.90,736.17 L218.23,737.11 L218.58,738.05 L218.92,738.99 L219.27,739.92 L219.62,740.86 L219.98,741.79 L220.34,742.73 L220.71,743.66 L221.08,744.59 L221.46,745.51 L221.86,746.42 L222.28,747.32 L222.74,748.19 L223.25,749.00 L223.84,749.69 L224.52,750.20 L225.26,750.47 L226.04,750.47 L226.83,750.20 L227.58,749.72 L228.29,749.09 L228.95,748.37 L229.58,747.60 L230.17,746.80 L230.73,745.97 L231.26,745.13 L231.77,744.27 L232.25,743.40 L232.72,742.51 L233.16,741.62 L233.58,740.71 L233.98,739.80 L234.37,738.87 L234.73,737.95 L235.09,737.01 L235.42,736.07 L235.74,735.12 L236.05,734.17 L236.35,733.22 L236.63,732.26 L236.90,731.30 L237.17,730.33 L237.42,729.36 L237.66,728.39 L237.89,727.42 L238.12,726.45 L238.33,725.47 L238.54,724.49 L238.75,723.51 L238.94,722.53 L239.13,721.55 L239.31,720.57 L239.49,719.58 L239.67,718.60 L239.83,717.61 L240.00,716.63 L240.16,715.64 L240.31,714.65 L240.47,713.67 L240.62,712.68 L240.77,711.69 L240.91,710.70 L241.06,709.71 L241.20,708.72 L241.34,707.73 L241.48,706.74 L241.62,705.75 L241.76,704.76 L241.89,703.77 L242.03,702.78 L242.16,701.79 L242.30,700.79 L242.43,699.80 L242.57,698.81 L242.70,697.82 L242.84,696.83 L242.98,695.84 L243.11,694.85 L243.25,693.86 L243.39,692.87 L243.53,691.88 L243.67,690.89 L243.81,689.90 L243.96,688.91 L244.11,687.92 L244.25,686.93 L244.41,685.94 L244.56,684.96 L244.72,683.97 L244.88,682.98 L245.04,681.99 L245.21,681.01 L245.37,680.02 L245.55,679.04 L245.72,678.05 L245.90,677.07 L246.09,676.09 L246.28,675.11 L246.47,674.12 L246.67,673.14 L246.87,672.17 L247.08,671.19 L247.29,670.21 L247.51,669.23 L247.73,668.26 L247.96,667.29 L248.19,666.31 L248.43,665.34 L248.67,664.37 L248.91,663.40 L249.16,662.43 L249.41,661.46 L249.67,660.50 L249.92,659.53 L250.18,658.56 L250.44,657.60 L250.70,656.63 L250.96,655.67 L251.22,654.70 L251.48,653.74 L251.74,652.77 L252.00,651.80 L252.26,650.84 L252.52,649.87 L252.77,648.91 L253.02,647.94 L253.27,646.97 L253.52,646.00 L253.77,645.03 L254.01,644.06 L254.24,643.09 L254.47,642.12 L254.70,641.14 L254.92,640.17 L255.14,639.19 L255.35,638.21 L255.56,637.24 L255.76,636.26 L255.96,635.28 L256.16,634.30 L256.36,633.32 L256.55,632.34 L256.74,631.35 L256.94,630.37 L257.13,629.39 L257.33,628.41 L257.53,627.43 L257.73,626.45 L257.93,625.47 L258.14,624.50 L258.36,623.52 L258.58,622.54 L258.81,621.57 L259.04,620.60 L259.28,619.63 L259.53,618.66 L259.79,617.70 L260.07,616.73 L260.35,615.77 L260.64,614.82 L260.95,613.87 L261.26,612.92 L261.59,611.97 L261.94,611.04 L262.29,610.10 L262.67,609.18 L263.05,608.25 L263.46,607.34 L263.87,606.43 L264.31,605.53 L264.76,604.64 L265.22,603.75 L265.70,602.88 L266.20,602.01 L266.71,601.15 L267.24,600.30 L267.78,599.46 L268.34,598.64 L268.91,597.82 L269.50,597.01 L270.11,596.21 L270.73,595.43 L271.36,594.66 L272.01,593.90 L272.68,593.15 L273.36,592.42 L274.06,591.71 L274.77,591.01 L275.51,590.34 L276.26,589.68 L277.03,589.05 L277.82,588.44 L278.63,587.86 L279.47,587.31 L280.32,586.81 L281.20,586.35 L282.10,585.93 L283.03,585.58 L283.98,585.30 L284.94,585.09 L285.91,584.97 L286.89,584.95 L287.87,585.02 L288.83,585.19 L289.78,585.46 L290.69,585.81 L291.58,586.25 L292.43,586.75 L293.25,587.31 L294.04,587.92 L294.79,588.57 L295.51,589.25 L296.20,589.97 L296.87,590.71 L297.51,591.47 L298.13,592.26 L298.73,593.05 L299.31,593.87 L299.88,594.69 L300.43,595.53 L300.96,596.37 L301.48,597.23 L301.99,598.09 L302.48,598.95 L302.97,599.83 L303.44,600.71 L303.91,601.59 L304.36,602.48 L304.81,603.38 L305.25,604.28 L305.68,605.18 L306.11,606.08 L306.53,606.99 L306.94,607.90 L307.35,608.81 L307.75,609.73 L308.15,610.65 L308.54,611.57 L308.92,612.49 L309.30,613.41 L309.68,614.34 L310.04,615.27 L310.40,616.21 L310.76,617.14 L311.11,618.08 L311.45,619.02 L311.78,619.96 L312.12,620.90 L312.44,621.85 L312.76,622.80 L313.07,623.74 L313.38,624.70 L313.69,625.65 L313.98,626.60 L314.28,627.56 L314.56,628.52 L314.84,629.48 L315.12,630.44 L315.39,631.40 L315.66,632.36 L315.92,633.33 L316.18,634.29 L316.43,635.26 L316.68,636.23 L316.93,637.20 L317.17,638.17 L317.41,639.14 L317.64,640.11 L317.87,641.09 L318.10,642.06 L318.33,643.03 L318.55,644.01 L318.77,644.99 L318.98,645.96 L319.20,646.94 L319.41,647.92 L319.62,648.89 L319.83,649.87 L320.04,650.85 L320.25,651.83 L320.45,652.81 L320.66,653.78 L320.86,654.76 L321.06,655.74 L321.27,656.72 L321.47,657.70 L321.67,658.68 L321.88,659.66 L322.08,660.64 L322.28,661.62 L322.49,662.60 L322.70,663.57 L322.91,664.55 L323.11,665.53 L323.33,666.51 L323.54,667.48 L323.75,668.46 L323.97,669.44 L324.19,670.41 L324.41,671.39 L324.63,672.36 L324.85,673.34 L325.08,674.31 L325.31,675.29 L325.53,676.26 L325.76,677.23 L325.99,678.21 L326.23,679.18 L326.46,680.15 L326.69,681.12 L326.93,682.10 L327.16,683.07 L327.40,684.04 L327.64,685.01 L327.87,685.98 L328.11,686.95 L328.35,687.93 L328.59,688.90 L328.83,689.87 L329.07,690.84 L329.30,691.81 L329.54,692.78 L329.78,693.75 L330.02,694.72 L330.26,695.69 L330.50,696.67 L330.73,697.64 L330.97,698.61 L331.21,699.58 L331.44,700.55 L331.67,701.52 L331.91,702.50 L332.14,703.47 L332.37,704.44 L332.60,705.42 L332.83,706.39 L333.06,707.36 L333.28,708.34 L333.51,709.31 L333.73,710.29 L333.95,711.26 L334.17,712.24 L334.39,713.21 L334.60,714.19 L334.81,715.17 L335.02,716.15 L335.23,717.12 L335.43,718.10 L335.64,719.08 L335.83,720.06 L336.03,721.04 L336.22,722.02 L336.41,723.01 L336.60,723.99 L336.78,724.97 L336.96,725.96" fill="none" stroke="#68c060" stroke-width="2.70" stroke-linejoin="round" stroke-linecap="round"/>
<path d="M107.78,740.12 L108.66,740.60 L109.53,741.08 L110.42,741.55 L111.31,742.00 L112.21,742.43 L113.12,742.85 L114.03,743.26 L114.95,743.65 L115.88,744.02 L116.81,744.38 L117.75,744.73 L118.69,745.06 L119.64,745.38 L120.59,745.68 L121.55,745.97 L122.51,746.24 L123.48,746.50 L124.45,746.74 L125.42,746.97 L126.40,747.18 L127.38,747.37 L128.36,747.55 L129.35,747.70 L130.34,747.85 L131.33,747.97 L132.32,748.07 L133.32,748.15 L134.31,748.21 L135.31,748.25 L136.31,748.27 L137.31,748.26 L138.31,748.23 L139.31,748.17 L140.30,748.08 L141.29,747.97 L142.28,747.83 L143.26,747.65 L144.24,747.44 L145.21,747.20 L146.16,746.93 L147.11,746.62 L148.04,746.27 L148.96,745.88 L149.86,745.45 L150.74,744.99 L151.60,744.48 L152.44,743.94 L153.25,743.36 L154.03,742.75 L154.79,742.10 L155.53,741.43 L156.24,740.73 L156.93,740.01 L157.60,739.27 L158.25,738.51 L158.89,737.74 L159.51,736.96 L160.11,736.16 L160.71,735.36 L161.29,734.55 L161.87,733.73 L162.44,732.91 L163.00,732.09 L163.57,731.26 L164.13,730.43 L164.69,729.60 L165.25,728.78 L165.82,727.95 L166.39,727.13 L166.97,726.32 L167.56,725.51 L168.16,724.71 L168.77,723.92 L169.39,723.14 L170.03,722.37 L170.69,721.62 L171.36,720.89 L172.06,720.17 L172.78,719.48 L173.53,718.82 L174.30,718.19 L175.10,717.59 L175.92,717.03 L176.77,716.51 L177.64,716.03 L178.53,715.60 L179.45,715.22 L180.39,714.89 L181.34,714.61 L182.31,714.40 L183.29,714.26 L184.28,714.18 L185.26,714.18 L186.24,714.26 L187.22,714.42 L188.17,714.67 L189.09,715.00 L189.99,715.41 L190.85,715.90 L191.67,716.45 L192.45,717.06 L193.19,717.72 L193.90,718.42 L194.57,719.15 L195.22,719.91 L195.83,720.70 L196.41,721.51 L196.98,722.33 L197.52,723.17 L198.04,724.02 L198.54,724.88 L199.03,725.76 L199.51,726.64 L199.97,727.52 L200.42,728.42 L200.86,729.31 L201.29,730.21 L201.71,731.12 L202.13,732.03 L202.54,732.94 L202.95,733.85 L203.35,734.77 L203.75,735.69 L204.15,736.60 L204.55,737.52 L204.95,738.44 L205.35,739.35 L205.75,740.27 L206.16,741.18 L206.58,742.09 L207.00,743.00 L207.42,743.90 L207.85,744.81 L208.28,745.71 L208.71,746.61 L209.15,747.51 L209.58,748.41 L210.01,749.32 L210.44,750.22 L210.86,751.13 L211.27,752.04 L211.68,752.95 L212.08,753.87 L212.47,754.79 L212.85,755.71 L213.22,756.64 L213.58,757.57 L213.93,758.51 L214.28,759.45 L214.61,760.39 L214.94,761.33 L215.27,762.28 L215.59,763.22 L215.92,764.17 L216.26,765.11 L216.60,766.05 L216.96,766.98 L217.34,767.91 L217.73,768.82 L218.16,769.72 L218.62,770.60 L219.13,771.46 L219.69,772.27 L220.31,773.02 L221.00,773.70 L221.77,774.26 L222.60,774.68 L223.49,774.92 L224.40,774.99 L225.31,774.86 L226.20,774.56 L227.05,774.12 L227.86,773.57 L228.61,772.95 L229.33,772.26 L230.01,771.54 L230.66,770.78 L231.28,770.00 L231.88,769.20 L232.47,768.39 L233.03,767.57 L233.58,766.73 L234.11,765.89 L234.63,765.03 L235.13,764.17 L235.62,763.29 L236.09,762.41 L236.54,761.52 L236.98,760.63 L237.40,759.72 L237.81,758.81 L238.21,757.89 L238.59,756.97 L238.96,756.04 L239.31,755.10 L239.65,754.16 L239.98,753.22 L240.30,752.27 L240.60,751.32 L240.89,750.36 L241.17,749.40 L241.44,748.44 L241.71,747.47 L241.96,746.51 L242.20,745.54 L242.43,744.56 L242.66,743.59 L242.88,742.62 L243.09,741.64 L243.30,740.66 L243.50,739.68 L243.70,738.70 L243.89,737.72 L244.08,736.74 L244.26,735.75 L244.44,734.77 L244.62,733.79 L244.80,732.80 L244.97,731.82 L245.15,730.83 L245.32,729.85 L245.49,728.86 L245.67,727.88 L245.84,726.89 L246.02,725.91 L246.20,724.93 L246.38,723.94 L246.57,722.96 L246.75,721.98 L246.94,721.00 L247.14,720.01 L247.33,719.03 L247.53,718.05 L247.72,717.07 L247.93,716.09 L248.13,715.11 L248.34,714.14 L248.54,713.16 L248.75,712.18 L248.96,711.20 L249.18,710.23 L249.39,709.25 L249.61,708.27 L249.83,707.30 L250.05,706.32 L250.27,705.35 L250.50,704.37 L250.72,703.40 L250.95,702.42 L251.18,701.45 L251.41,700.48 L251.64,699.50 L251.87,698.53 L252.10,697.56 L252.34,696.59 L252.57,695.62 L252.81,694.64 L253.05,693.67 L253.30,692.70 L253.55,691.74 L253.80,690.77 L254.05,689.80 L254.31,688.84 L254.58,687.87 L254.85,686.91 L255.13,685.95 L255.42,684.99 L255.71,684.04 L256.01,683.08 L256.32,682.13 L256.64,681.18 L256.96,680.24 L257.30,679.30 L257.64,678.36 L258.00,677.42 L258.36,676.49 L258.74,675.56 L259.12,674.64 L259.52,673.72 L259.92,672.81 L260.34,671.90 L260.76,671.00 L261.20,670.10 L261.65,669.20 L262.10,668.31 L262.57,667.43 L263.05,666.55 L263.54,665.68 L264.04,664.82 L264.56,663.96 L265.08,663.11 L265.62,662.27 L266.17,661.43 L266.74,660.61 L267.32,659.80 L267.92,659.00 L268.54,658.21 L269.17,657.44 L269.82,656.68 L270.49,655.95 L271.19,655.23 L271.90,654.53 L272.64,653.86 L273.40,653.22 L274.19,652.61 L275.01,652.04 L275.85,651.52 L276.72,651.04 L277.62,650.62 L278.54,650.26 L279.49,649.96 L280.45,649.74 L281.42,649.58 L282.41,649.50 L283.40,649.49 L284.39,649.55 L285.37,649.67 L286.35,649.85 L287.32,650.08 L288.27,650.37 L289.21,650.70 L290.13,651.08 L291.03,651.50 L291.92,651.95 L292.79,652.44 L293.64,652.96 L294.47,653.52 L295.28,654.09 L296.07,654.70 L296.85,655.33 L297.60,655.99 L298.33,656.67 L299.04,657.37 L299.73,658.09 L300.40,658.83 L301.05,659.59 L301.68,660.36 L302.29,661.16 L302.87,661.96 L303.44,662.78 L303.99,663.62 L304.53,664.46 L305.04,665.32 L305.54,666.19 L306.02,667.06 L306.49,667.94 L306.94,668.83 L307.38,669.73 L307.81,670.64 L308.22,671.55 L308.62,672.46 L309.01,673.38 L309.40,674.31 L309.77,675.23 L310.13,676.17 L310.49,677.10 L310.83,678.04 L311.18,678.98 L311.51,679.92 L311.84,680.86 L312.17,681.81 L312.49,682.75 L312.81,683.70 L313.13,684.65 L313.44,685.60 L313.75,686.55 L314.06,687.50 L314.37,688.45 L314.67,689.41 L314.98,690.36 L315.28,691.31 L315.58,692.27 L315.88,693.22 L316.18,694.17 L316.48,695.13 L316.77,696.08 L317.07,697.04 L317.36,697.99 L317.66,698.95 L317.95,699.91 L318.25,700.86 L318.54,701.82 L318.84,702.77 L319.13,703.73 L319.43,704.68 L319.73,705.64 L320.03,706.59 L320.33,707.55 L320.63,708.50 L320.93,709.45 L321.24,710.40 L321.54,711.36 L321.85,712.31 L322.16,713.26 L322.47,714.21 L322.79,715.16 L323.11,716.10 L323.43,717.05 L323.76,718.00 L324.08,718.94 L324.42,719.88 L324.75,720.83 L325.09,721.77 L325.43,722.71 L325.78,723.64 L326.13,724.58 L326.49,725.51 L326.85,726.45 L327.22,727.38 L327.59,728.31 L327.97,729.23 L328.35,730.16 L328.73,731.08 L329.13,732.00 L329.53,732.91 L329.93,733.83 L330.34,734.74 L330.76,735.65 L331.18,736.56 L331.61,737.46 L332.04,738.36 L332.49,739.26 L332.93,740.15 L333.39,741.04 L333.85,741.93 L334.32,742.81 L334.80,743.69 L335.28,744.56 L335.77,745.43 L336.27,746.30 L336.77,747.17 L337.28,748.03 L337.80,748.88" fill="none" stroke="#6a58b0" stroke-width="2.70" stroke-linejoin="round" stroke-linecap="round"/>
<path d="M315.44,794.88 L316.42,794.68 L317.39,794.46 L318.37,794.23 L319.33,793.98 L320.29,793.70 L321.24,793.38 L322.17,793.04 L323.10,792.66 L324.00,792.25 L324.90,791.81 L325.77,791.33 L326.63,790.82 L327.47,790.28 L328.28,789.70 L329.07,789.10 L329.84,788.46 L330.58,787.79 L331.29,787.09 L331.98,786.37 L332.64,785.62 L333.27,784.85 L333.88,784.06 L334.46,783.25 L335.01,782.42 L335.54,781.58 L336.05,780.71 L336.53,779.84 L336.99,778.96 L337.43,778.06 L337.86,777.15 L338.26,776.24 L338.65,775.32 L339.02,774.39 L339.37,773.45 L339.71,772.51 L340.04,771.57 L340.36,770.62 L340.67,769.67 L340.97,768.72 L341.26,767.76 L341.55,766.80 L341.82,765.84 L342.10,764.88 L342.37,763.92 L342.64,762.96 L342.90,761.99 L343.16,761.03 L343.42,760.06 L343.68,759.09 L343.94,758.13 L344.19,757.16 L344.45,756.19 L344.70,755.23 L344.94,754.26 L345.19,753.29 L345.44,752.32 L345.68,751.35 L345.92,750.38 L346.16,749.41 L346.40,748.44 L346.63,747.46 L346.87,746.49 L347.10,745.52 L347.33,744.55 L347.56,743.57 L347.79,742.60 L348.02,741.63 L348.24,740.65 L348.46,739.68 L348.69,738.70 L348.91,737.73 L349.12,736.75 L349.34,735.77 L349.56,734.80 L349.77,733.82 L349.98,732.84 L350.20,731.87 L350.41,730.89 L350.61,729.91 L350.82,728.93 L351.03,727.95 L351.23,726.97 L351.43,726.00 L351.64,725.02 L351.84,724.04 L352.04,723.06 L352.24,722.08 L352.43,721.10 L352.63,720.12 L352.82,719.13 L353.02,718.15 L353.21,717.17 L353.40,716.19 L353.59,715.21 L353.78,714.23 L353.97,713.24 L354.16,712.26 L354.34,711.28 L354.53,710.30 L354.71,709.31 L354.90,708.33 L355.08,707.35 L355.26,706.36 L355.44,705.38 L355.62,704.40 L355.80,703.41 L355.98,702.43 L356.16,701.45 L356.33,700.46 L356.51,699.48 L356.68,698.49 L356.86,697.51 L357.03,696.52 L357.21,695.54 L357.38,694.55 L357.55,693.57 L357.72,692.58 L357.89,691.60 L358.06,690.61 L358.23,689.63 L358.40,688.64 L358.57,687.66 L358.74,686.67 L358.91,685.68 L359.07,684.70 L359.24,683.71 L359.41,682.73 L359.57,681.74 L359.74,680.75 L359.90,679.77 L360.07,678.78 L360.23,677.79 L360.40,676.81 L360.56,675.82 L360.72,674.84 L360.89,673.85 L361.05,672.86 L361.22,671.88 L361.38,670.89 L361.54,669.90 L361.70,668.92 L361.87,667.93 L362.03,666.94 L362.19,665.96 L362.36,664.97 L362.52,663.98 L362.68,663.00 L362.84,662.01 L363.01,661.02 L363.17,660.04 L363.33,659.05 L363.49,658.06 L363.66,657.08 L363.82,656.09 L363.98,655.10 L364.15,654.12 L364.31,653.13 L364.47,652.14 L364.64,651.16 L364.80,650.17 L364.96,649.18 L365.13,648.20 L365.29,647.21 L365.46,646.22 L365.62,645.24 L365.78,644.25 L365.95,643.26 L366.11,642.28 L366.28,641.29 L366.44,640.31 L366.61,639.32 L366.77,638.33 L366.94,637.35 L367.10,636.36 L367.27,635.37 L367.43,634.39 L367.60,633.40 L367.76,632.42 L367.93,631.43 L368.10,630.44 L368.26,629.46 L368.43,628.47 L368.60,627.49 L368.76,626.50 L368.93,625.51 L369.10,624.53 L369.26,623.54 L369.43,622.56 L369.60,621.57 L369.77,620.58 L369.93,619.60 L370.10,618.61 L370.27,617.63 L370.44,616.64 L370.61,615.65 L370.78,614.67 L370.95,613.68 L371.12,612.70 L371.28,611.71 L371.45,610.73 L371.62,609.74 L371.79,608.76 L371.96,607.77 L372.14,606.79 L372.31,605.80 L372.48,604.82 L372.65,603.83 L372.82,602.84 L372.99,601.86 L373.16,600.87 L373.34,599.89 L373.51,598.90 L373.68,597.92 L373.85,596.93 L374.03,595.95 L374.20,594.96 L374.38,593.98 L374.55,593.00 L374.72,592.01 L374.90,591.03 L375.07,590.04 L375.25,589.06 L375.42,588.07 L375.60,587.09 L375.77,586.10 L375.95,585.12 L376.13,584.13 L376.30,583.15 L376.48,582.17 L376.66,581.18 L376.84,580.20 L377.01,579.21 L377.19,578.23 L377.37,577.25 L377.55,576.26 L377.73,575.28 L377.91,574.29 L378.09,573.31 L378.27,572.33 L378.45,571.34 L378.63,570.36 L378.81,569.38 L378.99,568.39 L379.17,567.41 L379.35,566.43 L379.54,565.44 L379.72,564.46 L379.90,563.48 L380.08,562.49 L380.27,561.51 L380.45,560.53 L380.63,559.54 L380.82,558.56 L381.00,557.58 L381.19,556.60 L381.37,555.61 L381.56,554.63 L381.74,553.65 L381.93,552.67 L382.12,551.68 L382.30,550.70 L382.49,549.72 L382.68,548.74 L382.87,547.75 L383.06,546.77 L383.24,545.79 L383.44,544.81 L383.63,543.83 L383.82,542.85 L384.02,541.87 L384.22,540.89 L384.42,539.91 L384.63,538.93 L384.84,537.95 L385.06,536.98 L385.28,536.00 L385.51,535.03 L385.75,534.06 L386.00,533.09 L386.25,532.12 L386.52,531.16 L386.79,530.19 L387.07,529.24 L387.37,528.28 L387.68,527.33 L388.00,526.38 L388.33,525.44 L388.68,524.51 L389.05,523.58 L389.43,522.65 L389.83,521.74 L390.25,520.83 L390.68,519.93 L391.14,519.04 L391.62,518.16 L392.12,517.30 L392.64,516.45 L393.18,515.61 L393.76,514.79 L394.35,513.99 L394.97,513.21 L395.62,512.45 L396.29,511.71 L396.98,511.00 L397.71,510.31 L398.46,509.65 L399.23,509.03 L400.03,508.43 L400.85,507.88 L401.71,507.36 L402.58,506.90 L403.48,506.49 L404.41,506.14 L405.36,505.88 L406.32,505.70 L407.29,505.62 L408.26,505.66 L409.22,505.81 L410.14,506.09 L411.03,506.48 L411.86,506.97 L412.65,507.56 L413.38,508.22 L414.08,508.93 L414.73,509.68 L415.35,510.46 L415.95,511.26 L416.52,512.07 L417.09,512.90 L417.64,513.73 L418.19,514.57 L418.73,515.41 L419.27,516.25 L419.80,517.10 L420.33,517.95 L420.85,518.80 L421.37,519.65 L421.88,520.51 L422.40,521.37 L422.90,522.23 L423.41,523.09 L423.91,523.96 L424.41,524.83 L424.90,525.70 L425.39,526.57 L425.87,527.44 L426.35,528.32 L426.83,529.20 L427.31,530.08 L427.78,530.96 L428.24,531.85 L428.71,532.73 L429.17,533.62 L429.62,534.51 L430.08,535.40 L430.52,536.30 L430.97,537.19 L431.41,538.09 L431.85,538.99 L432.29,539.89 L432.72,540.79 L433.15,541.69 L433.58,542.59 L434.00,543.50 L434.42,544.41 L434.84,545.32 L435.25,546.23 L435.66,547.14 L436.07,548.05 L436.47,548.97 L436.87,549.88 L437.27,550.80 L437.67,551.72 L438.06,552.64 L438.45,553.56 L438.84,554.48 L439.22,555.40 L439.61,556.33 L439.99,557.25 L440.36,558.18 L440.74,559.11 L441.11,560.03 L441.48,560.96 L441.85,561.89 L442.21,562.82 L442.58,563.76 L442.94,564.69 L443.30,565.62 L443.65,566.56 L444.01,567.49 L444.36,568.43 L444.71,569.36 L445.06,570.30 L445.40,571.24 L445.75,572.18 L446.09,573.12 L446.43,574.06 L446.77,575.00 L447.10,575.94 L447.44,576.88 L447.77,577.83 L448.10,578.77 L448.44,579.71 L448.76,580.66 L449.09,581.60 L449.42,582.55 L449.74,583.49 L450.07,584.44 L450.39,585.39 L450.71,586.33 L451.03,587.28 L451.35,588.23 L451.67,589.18 L451.98,590.13 L452.30,591.07 L452.61,592.02 L452.93,592.97 L453.24,593.92 L453.55,594.87 L453.86,595.82 L454.17,596.77 L454.48,597.72 L454.79,598.67 L455.10,599.63 L455.41,600.58 L455.72,601.53 L456.03,602.48 L456.33,603.43 L456.64,604.38 L456.95,605.34 L457.25,606.29 L457.56,607.24 L457.87,608.19 L458.17,609.14 L458.48,610.10 L458.78,611.05 L459.09,612.00 L459.40,612.95 L459.70,613.90 L460.01,614.86 L460.32,615.81 L460.62,616.76 L460.93,617.71 L461.24,618.66 L461.54,619.61 L461.85,620.57 L462.16,621.52 L462.46,622.47 L462.77,623.42 L463.08,624.37 L463.39,625.32 L463.70,626.27 L464.01,627.23 L464.31,628.18 L464.62,629.13 L464.93,630.08 L465.24,631.03 L465.55,631.98 L465.86,632.93 L466.17,633.88 L466.49,634.83 L466.80,635.78 L467.11,636.73 L467.42,637.68 L467.73,638.63 L468.05,639.58 L468.36,640.53 L468.67,641.48 L468.99,642.43 L469.30,643.38 L469.62,644.33 L469.94,645.28 L470.25,646.23 L470.57,647.17 L470.89,648.12 L471.20,649.07 L471.52,650.02 L471.84,650.97 L472.16,651.91 L472.48,652.86 L472.80,653.81 L473.12,654.75 L473.45,655.70 L473.77,656.65 L474.09,657.59 L474.42,658.54 L474.74,659.49 L475.07,660.43 L475.39,661.38 L475.72,662.32 L476.05,663.27 L476.37,664.21 L476.70,665.16 L477.03,666.10 L477.36,667.04 L477.69,667.99 L478.03,668.93 L478.36,669.87 L478.69,670.82 L479.03,671.76 L479.36,672.70 L479.70,673.64 L480.04,674.58 L480.37,675.52 L480.71,676.47 L481.05,677.41 L481.39,678.35 L481.73,679.29 L482.08,680.23 L482.42,681.17 L482.76,682.10 L483.11,683.04 L483.46,683.98 L483.80,684.92 L484.15,685.86 L484.50,686.79 L484.85,687.73 L485.20,688.67 L485.55,689.60 L485.91,690.54 L486.26,691.47 L486.62,692.41 L486.97,693.34 L487.33,694.28 L487.69,695.21 L488.05,696.14 L488.41,697.08 L488.77,698.01 L489.13,698.94 L489.50,699.87 L489.86,700.80 L490.23,701.73 L490.59,702.66 L490.96,703.59 L491.33,704.52 L491.70,705.45 L492.07,706.38 L492.45,707.31 L492.82,708.23 L493.20,709.16 L493.57,710.09 L493.95,711.01 L494.33,711.94 L494.71,712.86 L495.09,713.79 L495.48,714.71 L495.86,715.63 L496.25,716.56 L496.63,717.48 L497.02,718.40 L497.41,719.32 L497.80,720.24 L498.19,721.16 L498.58,722.08 L498.98,723.00 L499.38,723.92 L499.77,724.84 L500.17,725.75 L500.57,726.67 L500.97,727.59 L501.38,728.50 L501.78,729.41 L502.19,730.33 L502.60,731.24 L503.01,732.15 L503.43,733.06 L503.84,733.97 L504.26,734.88 L504.68,735.79 L505.11,736.69 L505.53,737.60 L505.96,738.50 L506.39,739.40 L506.82,740.31 L507.26,741.21 L507.70,742.10 L508.14,743.00 L508.58,743.90 L509.03,744.79 L509.48,745.69 L509.93,746.58 L510.39,747.47 L510.85,748.36 L511.31,749.24 L511.77,750.13 L512.24,751.01 L512.72,751.89 L513.19,752.77 L513.67,753.65 L514.16,754.52 L514.64,755.40 L515.14,756.27 L515.63,757.14 L516.13,758.00 L516.63,758.87 L517.14,759.73 L517.65,760.59 L518.17,761.44 L518.69,762.30 L519.21,763.15 L519.74,764.00 L520.27,764.84 L520.81,765.69 L521.35,766.53 L521.90,767.36 L522.45,768.20 L523.01,769.03 L523.57,769.85 L524.14,770.68 L524.71,771.50 L525.29,772.31 L525.87,773.13 L526.46,773.94 L527.05,774.74 L527.65,775.54 L528.26,776.34 L528.87,777.13 L529.48,777.92 L530.10,778.70 L530.73,779.48 L531.36,780.26 L532.00,781.03 L532.64,781.79 L533.29,782.55 L533.95,783.30 L534.61,784.05 L535.28,784.80 L535.96,785.53 L536.64,786.27 L537.32,786.99 L538.02,787.71 L538.72,788.43 L539.42,789.14 L540.13,789.84 L540.85,790.53 L541.58,791.22 L542.31,791.90 L543.05,792.58 L543.79,793.25 L544.54,793.91 L545.30,794.56 L546.06,795.20 L546.83,795.84 L547.61,796.47 L548.39,797.09 L549.18,797.71 L549.98,798.31 L550.78,798.91 L551.59,799.50 L552.40,800.08 L553.22,800.65 L554.05,801.21 L554.88,801.77 L555.72,802.31 L556.56,802.84 L557.41,803.37 L558.27,803.89 L559.13,804.39 L560.00,804.89 L560.87,805.38 L561.75,805.85 L562.64,806.32 L563.53,806.78 L564.42,807.22 L565.32,807.66 L566.22,808.09 L567.13,808.50 L568.05,808.91 L568.96,809.30 L569.89,809.69 L570.81,810.06 L571.75,810.43 L572.68,810.78 L573.62,811.12 L574.56,811.45 L575.51,811.78 L576.46,812.09 L577.41,812.40 L578.36,812.70" fill="none" stroke="#f0904c" stroke-width="2.70" stroke-linejoin="round" stroke-linecap="round"/>
<path d="M315.94,798.20 L316.92,797.99 L317.89,797.78 L318.86,797.54 L319.83,797.29 L320.78,797.01 L321.73,796.69 L322.67,796.35 L323.59,795.97 L324.50,795.57 L325.40,795.13 L326.28,794.66 L327.14,794.15 L327.98,793.61 L328.80,793.04 L329.59,792.44 L330.36,791.81 L331.11,791.15 L331.83,790.46 L332.53,789.75 L333.19,789.01 L333.84,788.25 L334.45,787.46 L335.04,786.66 L335.61,785.83 L336.15,784.99 L336.66,784.14 L337.15,783.27 L337.62,782.39 L338.07,781.50 L338.50,780.59 L338.92,779.68 L339.31,778.77 L339.69,777.84 L340.05,776.91 L340.40,775.97 L340.74,775.03 L341.06,774.09 L341.37,773.14 L341.68,772.18 L341.97,771.23 L342.26,770.27 L342.54,769.31 L342.82,768.35 L343.09,767.39 L343.36,766.43 L343.62,765.46 L343.89,764.50 L344.15,763.53 L344.41,762.57 L344.67,761.60 L344.93,760.64 L345.20,759.67 L345.46,758.71 L345.73,757.74 L345.99,756.78 L346.26,755.81 L346.52,754.85 L346.79,753.89 L347.06,752.92 L347.33,751.96 L347.60,751.00 L347.87,750.03 L348.14,749.07 L348.41,748.11 L348.69,747.15 L348.96,746.19 L349.23,745.22 L349.51,744.26 L349.78,743.30 L350.06,742.34 L350.34,741.38 L350.61,740.42 L350.89,739.46 L351.17,738.50 L351.45,737.54 L351.72,736.58 L352.00,735.62 L352.28,734.65 L352.56,733.69 L352.84,732.73 L353.12,731.77 L353.40,730.81 L353.68,729.85 L353.96,728.90 L354.24,727.94 L354.53,726.98 L354.81,726.02 L355.09,725.06 L355.37,724.10 L355.65,723.14 L355.93,722.18 L356.22,721.22 L356.50,720.26 L356.78,719.30 L357.06,718.34 L357.34,717.38 L357.62,716.42 L357.91,715.46 L358.19,714.50 L358.47,713.54 L358.75,712.58 L359.03,711.62 L359.31,710.66 L359.59,709.70 L359.87,708.74 L360.15,707.78 L360.43,706.82 L360.71,705.86 L360.99,704.90 L361.27,703.94 L361.55,702.98 L361.83,702.02 L362.10,701.06 L362.38,700.10 L362.66,699.14 L362.93,698.18 L363.21,697.22 L363.48,696.26 L363.76,695.29 L364.03,694.33 L364.30,693.37 L364.58,692.41 L364.85,691.45 L365.12,690.48 L365.39,689.52 L365.66,688.56 L365.93,687.59 L366.20,686.63 L366.46,685.67 L366.73,684.70 L366.99,683.74 L367.26,682.77 L367.52,681.81 L367.78,680.84 L368.04,679.88 L368.30,678.91 L368.56,677.95 L368.82,676.98 L369.08,676.01 L369.33,675.05 L369.59,674.08 L369.84,673.11 L370.09,672.15 L370.34,671.18 L370.59,670.21 L370.84,669.24 L371.09,668.27 L371.33,667.30 L371.58,666.33 L371.82,665.36 L372.06,664.39 L372.30,663.42 L372.54,662.45 L372.78,661.48 L373.01,660.51 L373.25,659.53 L373.48,658.56 L373.71,657.59 L373.94,656.62 L374.17,655.64 L374.39,654.67 L374.62,653.69 L374.84,652.72 L375.06,651.74 L375.29,650.77 L375.51,649.79 L375.73,648.82 L375.95,647.84 L376.17,646.87 L376.39,645.89 L376.60,644.92 L376.82,643.94 L377.04,642.96 L377.26,641.99 L377.48,641.01 L377.70,640.04 L377.91,639.06 L378.13,638.08 L378.35,637.11 L378.57,636.13 L378.79,635.16 L379.01,634.18 L379.24,633.21 L379.46,632.23 L379.68,631.26 L379.91,630.28 L380.13,629.31 L380.36,628.34 L380.59,627.36 L380.82,626.39 L381.05,625.42 L381.28,624.44 L381.52,623.47 L381.75,622.50 L381.99,621.53 L382.23,620.56 L382.47,619.59 L382.72,618.62 L382.96,617.65 L383.21,616.68 L383.46,615.71 L383.71,614.74 L383.96,613.77 L384.22,612.81 L384.47,611.84 L384.73,610.88 L385.00,609.91 L385.26,608.95 L385.54,607.99 L385.81,607.02 L386.10,606.07 L386.39,605.11 L386.68,604.15 L386.99,603.20 L387.30,602.25 L387.63,601.31 L387.96,600.37 L388.31,599.43 L388.67,598.50 L389.05,597.57 L389.44,596.65 L389.85,595.74 L390.27,594.83 L390.72,593.94 L391.18,593.06 L391.67,592.19 L392.18,591.33 L392.72,590.49 L393.29,589.67 L393.89,588.87 L394.51,588.10 L395.17,587.35 L395.87,586.64 L396.59,585.96 L397.36,585.32 L398.15,584.73 L398.98,584.18 L399.84,583.68 L400.73,583.24 L401.64,582.85 L402.58,582.51 L403.53,582.24 L404.50,582.02 L405.48,581.87 L406.46,581.77 L407.45,581.74 L408.44,581.77 L409.43,581.87 L410.41,582.03 L411.38,582.26 L412.33,582.54 L413.26,582.89 L414.17,583.28 L415.05,583.73 L415.92,584.23 L416.75,584.76 L417.56,585.34 L418.35,585.96 L419.10,586.61 L419.83,587.29 L420.53,587.99 L421.21,588.73 L421.86,589.48 L422.49,590.26 L423.09,591.05 L423.68,591.86 L424.24,592.69 L424.79,593.53 L425.31,594.37 L425.83,595.23 L426.33,596.10 L426.81,596.97 L427.29,597.85 L427.75,598.74 L428.21,599.63 L428.66,600.52 L429.10,601.42 L429.53,602.32 L429.96,603.22 L430.39,604.13 L430.81,605.03 L431.23,605.94 L431.65,606.84 L432.07,607.75 L432.50,608.66 L432.92,609.56 L433.34,610.47 L433.76,611.38 L434.19,612.28 L434.61,613.19 L435.04,614.09 L435.47,615.00 L435.89,615.90 L436.32,616.80 L436.75,617.71 L437.18,618.61 L437.61,619.51 L438.04,620.42 L438.47,621.32 L438.91,622.22 L439.34,623.12 L439.77,624.02 L440.20,624.92 L440.64,625.83 L441.07,626.73 L441.51,627.63 L441.94,628.53 L442.38,629.43 L442.81,630.33 L443.25,631.23 L443.69,632.13 L444.13,633.03 L444.56,633.92 L445.00,634.82 L445.44,635.72 L445.88,636.62 L446.31,637.52 L446.75,638.42 L447.19,639.32 L447.63,640.22 L448.07,641.12 L448.51,642.01 L448.94,642.91 L449.38,643.81 L449.82,644.71 L450.26,645.61 L450.70,646.51 L451.14,647.41 L451.58,648.31 L452.01,649.21 L452.45,650.10 L452.89,651.00 L453.33,651.90 L453.76,652.80 L454.20,653.70 L454.63,654.60 L455.07,655.50 L455.51,656.40 L455.94,657.30 L456.37,658.20 L456.81,659.10 L457.24,660.01 L457.67,660.91 L458.11,661.81 L458.54,662.71 L458.97,663.61 L459.40,664.52 L459.83,665.42 L460.26,666.32 L460.68,667.23 L461.11,668.13 L461.54,669.04 L461.96,669.94 L462.39,670.85 L462.81,671.75 L463.23,672.66 L463.66,673.57 L464.08,674.47 L464.50,675.38 L464.92,676.29 L465.33,677.20 L465.75,678.11 L466.16,679.02 L466.58,679.93 L466.99,680.84 L467.40,681.75 L467.81,682.66 L468.22,683.57 L468.63,684.48 L469.04,685.40 L469.45,686.31 L469.85,687.23 L470.26,688.14 L470.66,689.05 L471.06,689.97 L471.47,690.89 L471.87,691.80 L472.27,692.72 L472.67,693.63 L473.07,694.55 L473.47,695.46 L473.87,696.38 L474.27,697.30 L474.68,698.21 L475.08,699.13 L475.48,700.05 L475.88,700.96 L476.28,701.88 L476.68,702.79 L477.08,703.71 L477.48,704.63 L477.89,705.54 L478.29,706.46 L478.69,707.37 L479.10,708.29 L479.50,709.20 L479.91,710.11 L480.32,711.03 L480.73,711.94 L481.13,712.85 L481.55,713.76 L481.96,714.67 L482.37,715.59 L482.78,716.50 L483.20,717.40 L483.62,718.31 L484.04,719.22 L484.46,720.13 L484.88,721.04 L485.30,721.94 L485.73,722.85 L486.16,723.75 L486.59,724.65 L487.02,725.56 L487.45,726.46 L487.89,727.36 L488.32,728.26 L488.76,729.15 L489.21,730.05 L489.65,730.95 L490.10,731.84 L490.55,732.73 L491.00,733.62 L491.46,734.51 L491.92,735.40 L492.38,736.29 L492.84,737.18 L493.31,738.06 L493.78,738.94 L494.25,739.82 L494.73,740.70 L495.21,741.58 L495.69,742.46 L496.18,743.33 L496.67,744.20 L497.16,745.07 L497.66,745.94 L498.16,746.80 L498.66,747.67 L499.17,748.53 L499.68,749.39 L500.20,750.25 L500.72,751.10 L501.24,751.95 L501.77,752.80 L502.30,753.65 L502.84,754.49 L503.38,755.33 L503.92,756.17 L504.47,757.01 L505.02,757.84 L505.58,758.67 L506.14,759.50 L506.71,760.32 L507.28,761.14 L507.86,761.96 L508.44,762.78 L509.02,763.59 L509.61,764.39 L510.21,765.20 L510.81,766.00 L511.41,766.79 L512.02,767.59 L512.63,768.38 L513.25,769.16 L513.88,769.94 L514.51,770.72 L515.14,771.49 L515.78,772.26 L516.42,773.03 L517.07,773.79 L517.72,774.55 L518.38,775.30 L519.04,776.05 L519.71,776.79 L520.38,777.53 L521.06,778.27 L521.74,779.00 L522.43,779.73 L523.12,780.45 L523.82,781.16 L524.52,781.88 L525.23,782.58 L525.94,783.29 L526.66,783.98 L527.38,784.67 L528.10,785.36 L528.84,786.04 L529.57,786.72 L530.31,787.39 L531.06,788.06 L531.81,788.72 L532.57,789.37 L533.33,790.02 L534.09,790.66 L534.86,791.30 L535.64,791.93 L536.42,792.56 L537.20,793.18 L537.99,793.79 L538.79,794.40 L539.58,795.00 L540.39,795.60 L541.20,796.19 L542.01,796.77 L542.83,797.34 L543.65,797.91 L544.48,798.47 L545.31,799.03 L546.14,799.58 L546.98,800.12 L547.83,800.65 L548.68,801.18 L549.53,801.70 L550.39,802.21 L551.25,802.72 L552.12,803.22 L552.99,803.71 L553.87,804.19 L554.75,804.67 L555.63,805.14 L556.52,805.60 L557.41,806.05 L558.30,806.49 L559.20,806.93 L560.11,807.36 L561.01,807.78 L561.92,808.19 L562.84,808.60 L563.76,808.99 L564.68,809.38 L565.60,809.76 L566.53,810.13 L567.46,810.49 L568.40,810.84 L569.34,811.19 L570.28,811.53 L571.22,811.85 L572.17,812.17 L573.12,812.48 L574.08,812.78 L575.03,813.08 L575.99,813.36 L576.95,813.64 L577.91,813.91" fill="none" stroke="#68c060" stroke-width="2.70" stroke-linejoin="round" stroke-linecap="round"/>
<path d="M316.32,800.93 L317.32,800.92 L318.32,800.89 L319.31,800.84 L320.31,800.75 L321.29,800.63 L322.28,800.46 L323.25,800.25 L324.21,799.98 L325.15,799.67 L326.07,799.31 L326.98,798.89 L327.85,798.43 L328.70,797.91 L329.52,797.35 L330.30,796.74 L331.05,796.09 L331.77,795.40 L332.45,794.67 L333.09,793.91 L333.70,793.12 L334.28,792.31 L334.83,791.48 L335.35,790.63 L335.84,789.76 L336.31,788.88 L336.76,787.98 L337.19,787.08 L337.60,786.17 L337.99,785.25 L338.38,784.33 L338.75,783.40 L339.11,782.47 L339.47,781.53 L339.82,780.60 L340.17,779.66 L340.51,778.72 L340.85,777.78 L341.20,776.84 L341.53,775.90 L341.87,774.96 L342.21,774.02 L342.55,773.08 L342.88,772.14 L343.22,771.19 L343.55,770.25 L343.89,769.31 L344.22,768.37 L344.55,767.42 L344.88,766.48 L345.21,765.53 L345.54,764.59 L345.87,763.65 L346.20,762.70 L346.52,761.76 L346.85,760.81 L347.18,759.87 L347.50,758.92 L347.83,757.97 L348.15,757.03 L348.47,756.08 L348.80,755.13 L349.12,754.19 L349.44,753.24 L349.76,752.29 L350.08,751.35 L350.40,750.40 L350.72,749.45 L351.04,748.50 L351.36,747.56 L351.68,746.61 L352.00,745.66 L352.32,744.71 L352.64,743.77 L352.95,742.82 L353.27,741.87 L353.59,740.92 L353.91,739.97 L354.22,739.02 L354.54,738.08 L354.86,737.13 L355.17,736.18 L355.49,735.23 L355.81,734.28 L356.13,733.33 L356.44,732.39 L356.76,731.44 L357.08,730.49 L357.39,729.54 L357.71,728.59 L358.03,727.64 L358.35,726.70 L358.66,725.75 L358.98,724.80 L359.30,723.85 L359.62,722.90 L359.94,721.96 L360.26,721.01 L360.58,720.06 L360.90,719.11 L361.22,718.17 L361.54,717.22 L361.86,716.27 L362.19,715.33 L362.51,714.38 L362.83,713.43 L363.16,712.49 L363.48,711.54 L363.80,710.60 L364.13,709.65 L364.46,708.71 L364.78,707.76 L365.11,706.82 L365.44,705.87 L365.77,704.93 L366.10,703.98 L366.43,703.04 L366.76,702.10 L367.10,701.15 L367.43,700.21 L367.76,699.27 L368.10,698.33 L368.44,697.38 L368.77,696.44 L369.11,695.50 L369.46,694.56 L369.80,693.62 L370.14,692.68 L370.49,691.75 L370.84,690.81 L371.19,689.87 L371.54,688.94 L371.90,688.00 L372.26,687.07 L372.62,686.14 L372.98,685.20 L373.35,684.27 L373.71,683.34 L374.09,682.42 L374.46,681.49 L374.84,680.56 L375.22,679.64 L375.60,678.72 L375.99,677.79 L376.38,676.87 L376.78,675.96 L377.18,675.04 L377.58,674.12 L377.99,673.21 L378.40,672.30 L378.82,671.39 L379.23,670.48 L379.66,669.58 L380.09,668.67 L380.52,667.77 L380.95,666.87 L381.39,665.97 L381.84,665.08 L382.29,664.18 L382.75,663.29 L383.20,662.41 L383.67,661.52 L384.14,660.64 L384.61,659.76 L385.09,658.88 L385.58,658.01 L386.07,657.13 L386.57,656.27 L387.08,655.41 L387.60,654.55 L388.13,653.71 L388.67,652.87 L389.23,652.04 L389.80,651.22 L390.40,650.42 L391.02,649.64 L391.66,648.87 L392.32,648.13 L393.02,647.41 L393.74,646.73 L394.50,646.09 L395.29,645.49 L396.12,644.94 L396.98,644.46 L397.87,644.03 L398.79,643.67 L399.74,643.39 L400.70,643.17 L401.68,643.03 L402.67,642.94 L403.66,642.93 L404.65,642.97 L405.64,643.07 L406.63,643.22 L407.60,643.42 L408.57,643.66 L409.52,643.94 L410.46,644.27 L411.39,644.63 L412.31,645.03 L413.21,645.46 L414.09,645.93 L414.96,646.42 L415.81,646.94 L416.64,647.49 L417.46,648.06 L418.26,648.66 L419.05,649.27 L419.81,649.91 L420.57,650.56 L421.31,651.24 L422.03,651.92 L422.75,652.63 L423.44,653.34 L424.13,654.07 L424.80,654.81 L425.47,655.55 L426.12,656.31 L426.76,657.08 L427.39,657.85 L428.02,658.63 L428.63,659.42 L429.24,660.21 L429.85,661.01 L430.44,661.81 L431.03,662.62 L431.62,663.43 L432.20,664.24 L432.78,665.06 L433.35,665.88 L433.92,666.70 L434.49,667.53 L435.05,668.35 L435.61,669.18 L436.17,670.01 L436.72,670.84 L437.27,671.68 L437.82,672.51 L438.37,673.35 L438.92,674.19 L439.46,675.03 L440.00,675.87 L440.53,676.71 L441.07,677.56 L441.60,678.41 L442.13,679.26 L442.65,680.11 L443.18,680.96 L443.70,681.81 L444.22,682.66 L444.74,683.52 L445.25,684.38 L445.77,685.23 L446.28,686.09 L446.79,686.95 L447.30,687.81 L447.80,688.68 L448.31,689.54 L448.81,690.40 L449.31,691.27 L449.81,692.14 L450.31,693.00 L450.81,693.87 L451.30,694.74 L451.80,695.61 L452.29,696.48 L452.78,697.35 L453.27,698.22 L453.76,699.09 L454.25,699.97 L454.74,700.84 L455.22,701.71 L455.71,702.59 L456.19,703.46 L456.68,704.34 L457.16,705.21 L457.65,706.09 L458.13,706.96 L458.61,707.84 L459.09,708.71 L459.57,709.59 L460.06,710.47 L460.54,711.34 L461.02,712.22 L461.50,713.10 L461.98,713.97 L462.46,714.85 L462.94,715.73 L463.42,716.60 L463.90,717.48 L464.38,718.36 L464.87,719.23 L465.35,720.11 L465.83,720.99 L466.32,721.86 L466.80,722.74 L467.29,723.61 L467.77,724.48 L468.26,725.36 L468.75,726.23 L469.23,727.10 L469.72,727.98 L470.21,728.85 L470.71,729.72 L471.20,730.59 L471.69,731.46 L472.19,732.32 L472.69,733.19 L473.19,734.06 L473.69,734.92 L474.19,735.79 L474.69,736.65 L475.20,737.52 L475.71,738.38 L476.22,739.24 L476.73,740.10 L477.24,740.96 L477.76,741.81 L478.27,742.67 L478.79,743.52 L479.32,744.37 L479.84,745.22 L480.37,746.07 L480.90,746.92 L481.43,747.77 L481.97,748.61 L482.50,749.46 L483.05,750.30 L483.59,751.14 L484.14,751.97 L484.69,752.81 L485.24,753.64 L485.79,754.47 L486.35,755.30 L486.92,756.13 L487.48,756.96 L488.05,757.78 L488.62,758.60 L489.20,759.42 L489.78,760.23 L490.36,761.04 L490.95,761.85 L491.54,762.66 L492.13,763.46 L492.73,764.27 L493.33,765.06 L493.94,765.86 L494.55,766.65 L495.16,767.44 L495.78,768.23 L496.40,769.01 L497.03,769.79 L497.66,770.57 L498.29,771.34 L498.93,772.11 L499.57,772.87 L500.22,773.64 L500.87,774.39 L501.53,775.15 L502.19,775.90 L502.86,776.65 L503.53,777.39 L504.20,778.13 L504.88,778.86 L505.56,779.59 L506.25,780.31 L506.94,781.04 L507.64,781.75 L508.34,782.46 L509.05,783.17 L509.76,783.87 L510.48,784.57 L511.20,785.26 L511.92,785.95 L512.65,786.64 L513.39,787.31 L514.13,787.99 L514.87,788.65 L515.62,789.32 L516.38,789.97 L517.14,790.62 L517.90,791.27 L518.67,791.91 L519.44,792.55 L520.22,793.18 L521.00,793.80 L521.78,794.42 L522.57,795.03 L523.37,795.64 L524.17,796.24 L524.97,796.83 L525.78,797.42 L526.59,798.00 L527.41,798.58 L528.23,799.15 L529.05,799.72 L529.88,800.28 L530.72,800.83 L531.55,801.38 L532.39,801.92 L533.24,802.45 L534.09,802.98 L534.94,803.50 L535.80,804.01 L536.66,804.52 L537.53,805.02 L538.40,805.51 L539.27,806.00 L540.15,806.47 L541.03,806.95 L541.92,807.41 L542.81,807.87 L543.70,808.32 L544.60,808.76 L545.50,809.19 L546.40,809.62 L547.31,810.04 L548.22,810.45 L549.14,810.85 L550.06,811.24 L550.98,811.62 L551.91,812.00 L552.84,812.37 L553.77,812.72 L554.71,813.07 L555.65,813.41 L556.59,813.74 L557.54,814.06 L558.49,814.37 L559.45,814.67 L560.40,814.96 L561.36,815.24 L562.33,815.50 L563.29,815.76 L564.26,816.01 L565.23,816.24 L566.21,816.46 L567.18,816.68 L568.16,816.87 L569.15,817.06 L570.13,817.24 L571.12,817.40 L572.11,817.55 L573.10,817.68 L574.09,817.81 L575.08,817.92 L576.08,818.02 L577.07,818.10 L578.07,818.19" fill="none" stroke="#6a58b0" stroke-width="2.70" stroke-linejoin="round" stroke-linecap="round"/>
<line x1="468.0" y1="500.2" x2="518.5" y2="500.2" stroke="#f0904c" stroke-width="2.80"/>
<text x="521.2" y="508.0" font-family="'Liberation Sans', sans-serif" font-size="16.30" font-weight="bold" fill="#2a2a2a" text-anchor="start" textLength="46.4" lengthAdjust="spacingAndGlyphs">X=1.2</text>
<line x1="468.9" y1="528.3" x2="519.5" y2="528.3" stroke="#68c060" stroke-width="2.80"/>
<text x="522.1" y="535.2" font-family="'Liberation Sans', sans-serif" font-size="16.30" font-weight="bold" fill="#2a2a2a" text-anchor="start" textLength="46.4" lengthAdjust="spacingAndGlyphs">X=0.6</text>
<line x1="468.4" y1="557.4" x2="519.0" y2="557.4" stroke="#6a58b0" stroke-width="2.80"/>
<text x="523.5" y="562.8" font-family="'Liberation Sans', sans-serif" font-size="16.30" font-weight="bold" fill="#2a2a2a" text-anchor="start" textLength="31.0" lengthAdjust="spacingAndGlyphs">X=0</text>
<line x1="119.0" y1="503.5" x2="119.0" y2="513.0" stroke="#e2e2e2" stroke-width="1.60"/>
<text x="-2.0" y="491.0" font-family="'Liberation Sans', sans-serif" font-size="40.00" font-weight="normal" fill="#111" text-anchor="start">(c)</text>
<rect x="793.4" y="478.0" width="469.6" height="343.6" fill="none" stroke="#1a1a1a" stroke-width="2.6" stroke-linejoin="round"/>
<line x1="793.4" y1="821.6" x2="786.4" y2="821.6" stroke="#1a1a1a" stroke-width="2.00"/>
<line x1="793.4" y1="754.6" x2="786.4" y2="754.6" stroke="#1a1a1a" stroke-width="2.00"/>
<line x1="793.4" y1="687.6" x2="786.4" y2="687.6" stroke="#1a1a1a" stroke-width="2.00"/>
<line x1="793.4" y1="620.6" x2="786.4" y2="620.6" stroke="#1a1a1a" stroke-width="2.00"/>
<line x1="793.4" y1="553.6" x2="786.4" y2="553.6" stroke="#1a1a1a" stroke-width="2.00"/>
<line x1="793.4" y1="486.6" x2="786.4" y2="486.6" stroke="#1a1a1a" stroke-width="2.00"/>
<line x1="793.4" y1="788.1" x2="789.9" y2="788.1" stroke="#1a1a1a" stroke-width="2.00"/>
<line x1="793.4" y1="721.1" x2="789.9" y2="721.1" stroke="#1a1a1a" stroke-width="2.00"/>
<line x1="793.4" y1="654.1" x2="789.9" y2="654.1" stroke="#1a1a1a" stroke-width="2.00"/>
<line x1="793.4" y1="587.1" x2="789.9" y2="587.1" stroke="#1a1a1a" stroke-width="2.00"/>
<line x1="793.4" y1="520.1" x2="789.9" y2="520.1" stroke="#1a1a1a" stroke-width="2.00"/>
<line x1="799.5" y1="821.6" x2="799.5" y2="828.6" stroke="#1a1a1a" stroke-width="2.00"/>
<line x1="857.3" y1="821.6" x2="857.3" y2="828.6" stroke="#1a1a1a" stroke-width="2.00"/>
<line x1="915.1" y1="821.6" x2="915.1" y2="828.6" stroke="#1a1a1a" stroke-width="2.00"/>
<line x1="972.9" y1="821.6" x2="972.9" y2="828.6" stroke="#1a1a1a" stroke-width="2.00"/>
<line x1="1030.7" y1="821.6" x2="1030.7" y2="828.6" stroke="#1a1a1a" stroke-width="2.00"/>
<line x1="1088.5" y1="821.6" x2="1088.5" y2="828.6" stroke="#1a1a1a" stroke-width="2.00"/>
<line x1="1146.3" y1="821.6" x2="1146.3" y2="828.6" stroke="#1a1a1a" stroke-width="2.00"/>
<line x1="1204.1" y1="821.6" x2="1204.1" y2="828.6" stroke="#1a1a1a" stroke-width="2.00"/>
<line x1="1261.9" y1="821.6" x2="1261.9" y2="828.6" stroke="#1a1a1a" stroke-width="2.00"/>
<line x1="828.4" y1="821.6" x2="828.4" y2="825.1" stroke="#1a1a1a" stroke-width="2.00"/>
<line x1="886.2" y1="821.6" x2="886.2" y2="825.1" stroke="#1a1a1a" stroke-width="2.00"/>
<line x1="944.0" y1="821.6" x2="944.0" y2="825.1" stroke="#1a1a1a" stroke-width="2.00"/>
<line x1="1001.8" y1="821.6" x2="1001.8" y2="825.1" stroke="#1a1a1a" stroke-width="2.00"/>
<line x1="1059.6" y1="821.6" x2="1059.6" y2="825.1" stroke="#1a1a1a" stroke-width="2.00"/>
<line x1="1117.4" y1="821.6" x2="1117.4" y2="825.1" stroke="#1a1a1a" stroke-width="2.00"/>
<line x1="1175.2" y1="821.6" x2="1175.2" y2="825.1" stroke="#1a1a1a" stroke-width="2.00"/>
<line x1="1233.0" y1="821.6" x2="1233.0" y2="825.1" stroke="#1a1a1a" stroke-width="2.00"/>
<text x="781.2" y="825.2" font-family="'Liberation Sans', sans-serif" font-size="14.70" font-weight="bold" fill="#3a3a3a" text-anchor="end">0.0</text>
<text x="781.2" y="758.2" font-family="'Liberation Sans', sans-serif" font-size="14.70" font-weight="bold" fill="#3a3a3a" text-anchor="end">0.2</text>
<text x="781.2" y="691.2" font-family="'Liberation Sans', sans-serif" font-size="14.70" font-weight="bold" fill="#3a3a3a" text-anchor="end">0.4</text>
<text x="781.2" y="624.2" font-family="'Liberation Sans', sans-serif" font-size="14.70" font-weight="bold" fill="#3a3a3a" text-anchor="end">0.6</text>
<text x="781.2" y="557.2" font-family="'Liberation Sans', sans-serif" font-size="14.70" font-weight="bold" fill="#3a3a3a" text-anchor="end">0.8</text>
<text x="781.2" y="490.2" font-family="'Liberation Sans', sans-serif" font-size="14.70" font-weight="bold" fill="#3a3a3a" text-anchor="end">1.0</text>
<text x="799.5" y="845.6" font-family="'Liberation Sans', sans-serif" font-size="15.30" font-weight="bold" fill="#3a3a3a" text-anchor="middle">300</text>
<text x="857.3" y="845.6" font-family="'Liberation Sans', sans-serif" font-size="15.30" font-weight="bold" fill="#3a3a3a" text-anchor="middle">350</text>
<text x="915.1" y="845.6" font-family="'Liberation Sans', sans-serif" font-size="15.30" font-weight="bold" fill="#3a3a3a" text-anchor="middle">400</text>
<text x="972.9" y="845.6" font-family="'Liberation Sans', sans-serif" font-size="15.30" font-weight="bold" fill="#3a3a3a" text-anchor="middle">450</text>
<text x="1030.7" y="845.6" font-family="'Liberation Sans', sans-serif" font-size="15.30" font-weight="bold" fill="#3a3a3a" text-anchor="middle">500</text>
<text x="1088.5" y="845.6" font-family="'Liberation Sans', sans-serif" font-size="15.30" font-weight="bold" fill="#3a3a3a" text-anchor="middle">550</text>
<text x="1146.3" y="845.6" font-family="'Liberation Sans', sans-serif" font-size="15.30" font-weight="bold" fill="#3a3a3a" text-anchor="middle">600</text>
<text x="1204.1" y="845.6" font-family="'Liberation Sans', sans-serif" font-size="15.30" font-weight="bold" fill="#3a3a3a" text-anchor="middle">650</text>
<text x="1261.9" y="845.6" font-family="'Liberation Sans', sans-serif" font-size="15.30" font-weight="bold" fill="#3a3a3a" text-anchor="middle">700</text>
<text x="1020.5" y="865.5" font-family="'Liberation Sans', sans-serif" font-size="19.50" font-weight="bold" fill="#3a3a3a" text-anchor="middle" textLength="155" lengthAdjust="spacingAndGlyphs">Wavelength (nm)</text>
<text transform="translate(753.6,648.4) rotate(-90)" font-family="'Liberation Sans', sans-serif" font-size="20" font-weight="bold" fill="#3a3a3a" text-anchor="middle" textLength="135.5" lengthAdjust="spacingAndGlyphs">Intensity (a.u.)</text>
<path d="M793.58,598.72 L793.91,597.77 L794.24,596.83 L794.57,595.88 L794.89,594.94 L795.20,593.99 L795.51,593.04 L795.82,592.08 L796.11,591.13 L796.40,590.17 L796.68,589.21 L796.96,588.25 L797.23,587.29 L797.49,586.32 L797.75,585.36 L798.00,584.39 L798.25,583.42 L798.49,582.45 L798.73,581.48 L798.97,580.51 L799.21,579.54 L799.44,578.57 L799.68,577.59 L799.91,576.62 L800.15,575.65 L800.39,574.68 L800.63,573.71 L800.87,572.74 L801.12,571.77 L801.38,570.80 L801.64,569.84 L801.90,568.88 L802.17,567.91 L802.45,566.95 L802.74,565.99 L803.03,565.04 L803.32,564.08 L803.63,563.13 L803.94,562.18 L804.26,561.23 L804.58,560.29 L804.92,559.34 L805.26,558.41 L805.62,557.47 L805.98,556.54 L806.36,555.61 L806.74,554.69 L807.15,553.78 L807.56,552.87 L807.99,551.96 L808.44,551.07 L808.90,550.19 L809.39,549.31 L809.89,548.45 L810.43,547.61 L810.98,546.78 L811.57,545.98 L812.20,545.20 L812.86,544.46 L813.56,543.77 L814.31,543.12 L815.11,542.55 L815.95,542.06 L816.84,541.68 L817.77,541.41 L818.72,541.27 L819.68,541.26 L820.64,541.38 L821.58,541.62 L822.50,541.96 L823.38,542.39 L824.24,542.89 L825.06,543.44 L825.85,544.05 L826.61,544.69 L827.33,545.37 L828.03,546.08 L828.71,546.82 L829.35,547.58 L829.97,548.36 L830.56,549.16 L831.12,549.99 L831.66,550.83 L832.16,551.69 L832.64,552.57 L833.09,553.46 L833.50,554.36 L833.89,555.28 L834.26,556.21 L834.59,557.15 L834.90,558.10 L835.19,559.06 L835.47,560.02 L835.72,560.99 L835.96,561.96 L836.19,562.93 L836.41,563.91 L836.62,564.88 L836.82,565.86 L837.03,566.84 L837.24,567.82 L837.44,568.80 L837.65,569.77 L837.86,570.75 L838.08,571.73 L838.30,572.71 L838.51,573.68 L838.74,574.66 L838.96,575.63 L839.19,576.60 L839.42,577.58 L839.65,578.55 L839.88,579.52 L840.11,580.50 L840.35,581.47 L840.59,582.44 L840.83,583.41 L841.07,584.38 L841.31,585.35 L841.56,586.32 L841.81,587.29 L842.05,588.26 L842.30,589.23 L842.55,590.19 L842.80,591.16 L843.05,592.13 L843.31,593.10 L843.56,594.06 L843.82,595.03 L844.07,596.00 L844.33,596.96 L844.58,597.93 L844.84,598.90 L845.10,599.86 L845.35,600.83 L845.61,601.80 L845.87,602.76 L846.13,603.73 L846.38,604.70 L846.64,605.66 L846.90,606.63 L847.16,607.59 L847.41,608.56 L847.67,609.53 L847.93,610.49 L848.18,611.46 L848.44,612.43 L848.69,613.39 L848.95,614.36 L849.20,615.33 L849.45,616.30 L849.70,617.27 L849.95,618.23 L850.20,619.20 L850.44,620.17 L850.69,621.14 L850.93,622.11 L851.18,623.08 L851.42,624.05 L851.66,625.02 L851.89,625.99 L852.13,626.97 L852.36,627.94 L852.59,628.91 L852.82,629.88 L853.05,630.86 L853.28,631.83 L853.50,632.81 L853.72,633.78 L853.94,634.76 L854.16,635.73 L854.37,636.71 L854.59,637.69 L854.80,638.66 L855.01,639.64 L855.22,640.62 L855.43,641.60 L855.64,642.58 L855.85,643.55 L856.06,644.53 L856.27,645.51 L856.48,646.49 L856.68,647.47 L856.89,648.44 L857.10,649.42 L857.31,650.40 L857.52,651.38 L857.73,652.35 L857.94,653.33 L858.16,654.31 L858.37,655.29 L858.59,656.26 L858.80,657.24 L859.02,658.21 L859.24,659.19 L859.47,660.16 L859.69,661.14 L859.92,662.11 L860.14,663.09 L860.37,664.06 L860.61,665.03 L860.84,666.00 L861.08,666.97 L861.32,667.95 L861.57,668.91 L861.81,669.88 L862.06,670.85 L862.32,671.82 L862.57,672.79 L862.83,673.75 L863.09,674.72 L863.36,675.68 L863.63,676.64 L863.90,677.61 L864.17,678.57 L864.45,679.53 L864.74,680.49 L865.02,681.45 L865.31,682.40 L865.61,683.36 L865.90,684.31 L866.21,685.27 L866.51,686.22 L866.83,687.17 L867.15,688.11 L867.48,689.06 L867.82,690.00 L868.19,690.93 L868.57,691.85 L868.99,692.75 L869.45,693.63 L869.97,694.46 L870.55,695.22 L871.21,695.87 L871.96,696.36 L872.77,696.63 L873.61,696.67 L874.46,696.47 L875.29,696.07 L876.07,695.53 L876.80,694.88 L877.49,694.18 L878.15,693.43 L878.77,692.65 L879.37,691.85 L879.94,691.03 L880.48,690.20 L881.00,689.34 L881.49,688.47 L881.96,687.59 L882.40,686.70 L882.83,685.79 L883.23,684.88 L883.61,683.96 L883.98,683.03 L884.32,682.09 L884.65,681.14 L884.96,680.20 L885.26,679.24 L885.55,678.28 L885.82,677.32 L886.08,676.36 L886.32,675.39 L886.56,674.42 L886.78,673.44 L887.00,672.46 L887.21,671.49 L887.40,670.51 L887.59,669.53 L887.78,668.54 L887.95,667.56 L888.13,666.57 L888.29,665.59 L888.45,664.60 L888.61,663.61 L888.76,662.62 L888.91,661.63 L889.05,660.65 L889.20,659.66 L889.34,658.67 L889.48,657.68 L889.62,656.68 L889.75,655.69 L889.89,654.70 L890.03,653.71 L890.17,652.72 L890.31,651.73 L890.45,650.74 L890.59,649.75 L890.73,648.76 L890.88,647.77 L891.03,646.79 L891.18,645.80 L891.34,644.81 L891.49,643.82 L891.65,642.83 L891.81,641.85 L891.98,640.86 L892.14,639.87 L892.31,638.89 L892.48,637.90 L892.65,636.92 L892.82,635.93 L892.99,634.95 L893.17,633.96 L893.35,632.98 L893.52,632.00 L893.70,631.01 L893.89,630.03 L894.07,629.04 L894.25,628.06 L894.44,627.08 L894.62,626.10 L894.81,625.11 L894.99,624.13 L895.18,623.15 L895.37,622.17 L895.56,621.19 L895.75,620.20 L895.94,619.22 L896.13,618.24 L896.32,617.26 L896.51,616.28 L896.70,615.29 L896.89,614.31 L897.08,613.33 L897.27,612.35 L897.46,611.37 L897.64,610.38 L897.83,609.40 L898.02,608.42 L898.20,607.44 L898.39,606.45 L898.57,605.47 L898.76,604.49 L898.94,603.51 L899.13,602.52 L899.31,601.54 L899.49,600.56 L899.67,599.57 L899.86,598.59 L900.04,597.61 L900.22,596.62 L900.40,595.64 L900.59,594.66 L900.77,593.67 L900.95,592.69 L901.13,591.71 L901.32,590.72 L901.50,589.74 L901.68,588.76 L901.87,587.78 L902.05,586.79 L902.24,585.81 L902.43,584.83 L902.61,583.85 L902.80,582.86 L902.99,581.88 L903.18,580.90 L903.37,579.92 L903.56,578.94 L903.76,577.96 L903.95,576.97 L904.15,575.99 L904.34,575.01 L904.54,574.03 L904.74,573.05 L904.94,572.07 L905.15,571.10 L905.35,570.12 L905.56,569.14 L905.77,568.16 L905.98,567.18 L906.19,566.20 L906.40,565.23 L906.62,564.25 L906.84,563.28 L907.05,562.30 L907.28,561.32 L907.50,560.35 L907.73,559.38 L907.96,558.40 L908.19,557.43 L908.42,556.46 L908.66,555.49 L908.89,554.51 L909.13,553.54 L909.38,552.57 L909.62,551.60 L909.87,550.64 L910.12,549.67 L910.38,548.70 L910.63,547.73 L910.89,546.77 L911.16,545.80 L911.42,544.84 L911.69,543.88 L911.96,542.91 L912.24,541.95 L912.51,540.99 L912.80,540.03 L913.08,539.07 L913.37,538.12 L913.66,537.16 L913.95,536.20 L914.25,535.25 L914.55,534.29 L914.85,533.34 L915.16,532.39 L915.47,531.44 L915.79,530.49 L916.10,529.54 L916.42,528.60 L916.75,527.65 L917.08,526.71 L917.41,525.76 L917.75,524.82 L918.08,523.88 L918.43,522.94 L918.78,522.00 L919.13,521.07 L919.48,520.13 L919.84,519.20 L920.21,518.27 L920.58,517.34 L920.96,516.42 L921.35,515.49 L921.74,514.57 L922.14,513.66 L922.55,512.74 L922.97,511.84 L923.39,510.93 L923.83,510.03 L924.27,509.14 L924.73,508.25 L925.20,507.37 L925.68,506.49 L926.17,505.62 L926.68,504.76 L927.20,503.91 L927.74,503.06 L928.29,502.23 L928.85,501.40 L929.44,500.59 L930.04,499.79 L930.66,499.01 L931.29,498.24 L931.95,497.49 L932.62,496.75 L933.32,496.04 L934.04,495.34 L934.78,494.67 L935.53,494.02 L936.31,493.40 L937.12,492.81 L937.94,492.24 L938.78,491.71 L939.64,491.21 L940.52,490.74 L941.42,490.31 L942.34,489.92 L943.27,489.57 L944.22,489.27 L945.18,489.02 L946.15,488.82 L947.13,488.69 L948.12,488.62 L949.11,488.62 L950.09,488.70 L951.06,488.86 L952.01,489.11 L952.94,489.44 L953.83,489.85 L954.69,490.34 L955.50,490.90 L956.27,491.53 L957.00,492.20 L957.69,492.91 L958.35,493.66 L958.98,494.43 L959.59,495.22 L960.17,496.03 L960.73,496.86 L961.28,497.69 L961.82,498.54 L962.34,499.39 L962.85,500.25 L963.35,501.11 L963.85,501.98 L964.33,502.86 L964.80,503.74 L965.26,504.63 L965.71,505.52 L966.16,506.41 L966.59,507.31 L967.02,508.22 L967.43,509.13 L967.84,510.04 L968.24,510.96 L968.63,511.88 L969.02,512.80 L969.40,513.73 L969.77,514.65 L970.13,515.58 L970.49,516.52 L970.85,517.45 L971.20,518.39 L971.55,519.33 L971.89,520.27 L972.23,521.21 L972.57,522.15 L972.90,523.09 L973.24,524.03 L973.57,524.97 L973.90,525.92 L974.23,526.86 L974.55,527.81 L974.87,528.76 L975.20,529.70 L975.52,530.65 L975.83,531.60 L976.15,532.55 L976.46,533.50 L976.77,534.45 L977.08,535.40 L977.39,536.35 L977.70,537.30 L978.00,538.25 L978.30,539.21 L978.60,540.16 L978.90,541.12 L979.20,542.07 L979.50,543.03 L979.79,543.98 L980.08,544.94 L980.37,545.90 L980.66,546.85 L980.95,547.81 L981.23,548.77 L981.52,549.73 L981.80,550.69 L982.08,551.65 L982.36,552.61 L982.64,553.57 L982.91,554.53 L983.19,555.49 L983.46,556.45 L983.73,557.41 L984.00,558.38 L984.27,559.34 L984.54,560.30 L984.80,561.27 L985.07,562.23 L985.33,563.20 L985.59,564.16 L985.86,565.13 L986.12,566.09 L986.37,567.06 L986.63,568.03 L986.89,568.99 L987.14,569.96 L987.40,570.93 L987.65,571.89 L987.90,572.86 L988.15,573.83 L988.40,574.80 L988.65,575.77 L988.89,576.74 L989.14,577.71 L989.39,578.67 L989.63,579.64 L989.87,580.61 L990.11,581.58 L990.36,582.56 L990.60,583.53 L990.84,584.50 L991.07,585.47 L991.31,586.44 L991.55,587.41 L991.78,588.38 L992.02,589.35 L992.25,590.33 L992.49,591.30 L992.72,592.27 L992.95,593.24 L993.18,594.22 L993.42,595.19 L993.65,596.16 L993.87,597.14 L994.10,598.11 L994.33,599.08 L994.56,600.06 L994.79,601.03 L995.01,602.01 L995.24,602.98 L995.46,603.95 L995.69,604.93 L995.91,605.90 L996.14,606.88 L996.36,607.85 L996.58,608.83 L996.81,609.80 L997.03,610.78 L997.25,611.75 L997.47,612.73 L997.69,613.70 L997.91,614.68 L998.13,615.65 L998.35,616.63 L998.57,617.60 L998.79,618.58 L999.01,619.56 L999.23,620.53 L999.45,621.51 L999.67,622.48 L999.89,623.46 L1000.11,624.43 L1000.33,625.41 L1000.55,626.39 L1000.76,627.36 L1000.98,628.34 L1001.20,629.31 L1001.42,630.29 L1001.64,631.27 L1001.85,632.24 L1002.07,633.22 L1002.29,634.19 L1002.51,635.17 L1002.73,636.14 L1002.95,637.12 L1003.16,638.10 L1003.38,639.07 L1003.60,640.05 L1003.82,641.02 L1004.04,642.00 L1004.26,642.97 L1004.48,643.95 L1004.70,644.93 L1004.92,645.90 L1005.14,646.88 L1005.36,647.85 L1005.58,648.83 L1005.80,649.80 L1006.03,650.78 L1006.25,651.75 L1006.47,652.73 L1006.69,653.70 L1006.92,654.68 L1007.14,655.65 L1007.36,656.63 L1007.59,657.60 L1007.82,658.57 L1008.04,659.55 L1008.27,660.52 L1008.49,661.50 L1008.72,662.47 L1008.95,663.44 L1009.18,664.42 L1009.41,665.39 L1009.64,666.36 L1009.87,667.34 L1010.10,668.31 L1010.33,669.28 L1010.57,670.26 L1010.80,671.23 L1011.03,672.20 L1011.27,673.17 L1011.51,674.14 L1011.74,675.11 L1011.98,676.09 L1012.22,677.06 L1012.46,678.03 L1012.70,679.00 L1012.94,679.97 L1013.18,680.94 L1013.43,681.91 L1013.67,682.88 L1013.92,683.85 L1014.16,684.82 L1014.41,685.79 L1014.66,686.75 L1014.91,687.72 L1015.16,688.69 L1015.41,689.66 L1015.66,690.63 L1015.92,691.59 L1016.17,692.56 L1016.43,693.53 L1016.69,694.49 L1016.95,695.46 L1017.21,696.43" fill="none" stroke="#f0904c" stroke-width="2.70" stroke-linejoin="round" stroke-linecap="round"/>
<path d="M793.80,665.65 L794.06,664.68 L794.32,663.71 L794.58,662.75 L794.85,661.79 L795.12,660.82 L795.40,659.86 L795.69,658.91 L795.98,657.95 L796.28,657.00 L796.59,656.04 L796.90,655.09 L797.22,654.15 L797.54,653.20 L797.86,652.25 L798.19,651.31 L798.53,650.37 L798.87,649.43 L799.21,648.49 L799.55,647.55 L799.89,646.61 L800.24,645.67 L800.59,644.73 L800.94,643.80 L801.29,642.86 L801.64,641.92 L801.98,640.98 L802.33,640.05 L802.68,639.11 L803.02,638.17 L803.36,637.23 L803.70,636.29 L804.03,635.34 L804.36,634.40 L804.68,633.45 L805.00,632.51 L805.32,631.56 L805.63,630.60 L805.93,629.65 L806.22,628.70 L806.51,627.74 L806.80,626.78 L807.07,625.82 L807.34,624.86 L807.61,623.89 L807.87,622.93 L808.13,621.96 L808.38,620.99 L808.63,620.03 L808.89,619.06 L809.14,618.09 L809.40,617.13 L809.67,616.16 L809.94,615.20 L810.21,614.24 L810.50,613.28 L810.79,612.32 L811.10,611.37 L811.42,610.43 L811.75,609.48 L812.10,608.55 L812.46,607.62 L812.84,606.69 L813.25,605.78 L813.67,604.88 L814.13,603.99 L814.60,603.11 L815.11,602.25 L815.64,601.40 L816.20,600.58 L816.80,599.78 L817.42,599.01 L818.08,598.26 L818.78,597.55 L819.51,596.87 L820.27,596.23 L821.06,595.63 L821.88,595.08 L822.74,594.57 L823.62,594.11 L824.52,593.71 L825.45,593.38 L826.40,593.12 L827.37,592.95 L828.34,592.89 L829.31,592.93 L830.27,593.09 L831.20,593.37 L832.10,593.75 L832.95,594.23 L833.75,594.79 L834.51,595.42 L835.22,596.11 L835.89,596.84 L836.52,597.62 L837.11,598.42 L837.67,599.24 L838.20,600.09 L838.71,600.95 L839.19,601.82 L839.66,602.70 L840.11,603.60 L840.54,604.50 L840.96,605.40 L841.38,606.31 L841.78,607.23 L842.17,608.15 L842.55,609.07 L842.93,610.00 L843.30,610.93 L843.65,611.86 L844.00,612.80 L844.35,613.74 L844.68,614.68 L845.01,615.63 L845.32,616.57 L845.63,617.52 L845.94,618.48 L846.23,619.43 L846.52,620.39 L846.80,621.35 L847.08,622.31 L847.34,623.28 L847.60,624.24 L847.85,625.21 L848.10,626.18 L848.34,627.15 L848.58,628.12 L848.80,629.09 L849.03,630.07 L849.24,631.04 L849.46,632.02 L849.66,633.00 L849.87,633.98 L850.06,634.96 L850.26,635.94 L850.45,636.92 L850.63,637.90 L850.81,638.89 L850.99,639.87 L851.17,640.86 L851.34,641.84 L851.51,642.83 L851.68,643.81 L851.84,644.80 L852.01,645.79 L852.17,646.77 L852.33,647.76 L852.49,648.75 L852.65,649.73 L852.80,650.72 L852.96,651.71 L853.12,652.70 L853.28,653.68 L853.43,654.67 L853.59,655.66 L853.75,656.65 L853.91,657.63 L854.08,658.62 L854.24,659.61 L854.40,660.59 L854.57,661.58 L854.74,662.56 L854.92,663.55 L855.09,664.53 L855.27,665.52 L855.45,666.50 L855.64,667.48 L855.83,668.46 L856.02,669.44 L856.22,670.42 L856.42,671.40 L856.63,672.38 L856.84,673.36 L857.06,674.34 L857.28,675.31 L857.51,676.29 L857.74,677.26 L857.97,678.23 L858.21,679.20 L858.46,680.17 L858.71,681.14 L858.96,682.11 L859.22,683.07 L859.49,684.04 L859.76,685.00 L860.03,685.96 L860.31,686.92 L860.59,687.88 L860.88,688.84 L861.17,689.79 L861.47,690.75 L861.77,691.70 L862.08,692.65 L862.39,693.60 L862.71,694.55 L863.03,695.50 L863.36,696.44 L863.69,697.39 L864.03,698.33 L864.37,699.27 L864.71,700.21 L865.06,701.14 L865.42,702.08 L865.77,703.01 L866.14,703.94 L866.51,704.87 L866.89,705.80 L867.27,706.72 L867.67,707.64 L868.09,708.54 L868.53,709.44 L869.01,710.31 L869.53,711.15 L870.11,711.94 L870.76,712.64 L871.49,713.23 L872.29,713.67 L873.15,713.91 L874.04,713.94 L874.91,713.76 L875.75,713.39 L876.51,712.85 L877.18,712.18 L877.77,711.41 L878.28,710.57 L878.72,709.69 L879.10,708.78 L879.45,707.84 L879.75,706.89 L880.03,705.93 L880.29,704.97 L880.53,704.00 L880.77,703.03 L880.99,702.05 L881.21,701.08 L881.43,700.10 L881.65,699.13 L881.86,698.15 L882.08,697.17 L882.29,696.20 L882.51,695.22 L882.72,694.24 L882.93,693.27 L883.15,692.29 L883.36,691.31 L883.57,690.33 L883.78,689.36 L883.99,688.38 L884.20,687.40 L884.41,686.42 L884.62,685.44 L884.82,684.47 L885.03,683.49 L885.24,682.51 L885.44,681.53 L885.65,680.55 L885.85,679.57 L886.06,678.59 L886.26,677.62 L886.47,676.64 L886.67,675.66 L886.87,674.68 L887.07,673.70 L887.27,672.72 L887.47,671.74 L887.67,670.76 L887.87,669.78 L888.07,668.80 L888.27,667.82 L888.47,666.84 L888.66,665.86 L888.86,664.88 L889.05,663.90 L889.25,662.92 L889.44,661.93 L889.63,660.95 L889.83,659.97 L890.02,658.99 L890.21,658.01 L890.40,657.03 L890.59,656.05 L890.78,655.06 L890.97,654.08 L891.16,653.10 L891.35,652.12 L891.53,651.14 L891.72,650.15 L891.90,649.17 L892.09,648.19 L892.27,647.20 L892.46,646.22 L892.64,645.24 L892.82,644.26 L893.00,643.27 L893.18,642.29 L893.36,641.30 L893.54,640.32 L893.72,639.34 L893.90,638.35 L894.08,637.37 L894.25,636.38 L894.43,635.40 L894.60,634.42 L894.78,633.43 L894.95,632.45 L895.12,631.46 L895.30,630.48 L895.47,629.49 L895.64,628.51 L895.81,627.52 L895.98,626.53 L896.15,625.55 L896.32,624.56 L896.48,623.58 L896.65,622.59 L896.82,621.60 L896.98,620.62 L897.15,619.63 L897.31,618.65 L897.47,617.66 L897.63,616.67 L897.80,615.69 L897.96,614.70 L898.12,613.71 L898.28,612.72 L898.43,611.74 L898.59,610.75 L898.75,609.76 L898.91,608.77 L899.06,607.79 L899.22,606.80 L899.37,605.81 L899.53,604.82 L899.68,603.83 L899.83,602.85 L899.98,601.86 L900.13,600.87 L900.28,599.88 L900.43,598.89 L900.58,597.90 L900.73,596.91 L900.87,595.92 L901.02,594.93 L901.17,593.95 L901.31,592.96 L901.46,591.97 L901.60,590.98 L901.74,589.99 L901.88,589.00 L902.03,588.01 L902.17,587.02 L902.31,586.03 L902.44,585.04 L902.58,584.05 L902.72,583.06 L902.86,582.07 L902.99,581.07 L903.13,580.08 L903.26,579.09 L903.40,578.10 L903.53,577.11 L903.67,576.12 L903.80,575.13 L903.93,574.14 L904.06,573.15 L904.19,572.15 L904.32,571.16 L904.45,570.17 L904.58,569.18 L904.70,568.19 L904.83,567.20 L904.96,566.20 L905.08,565.21 L905.21,564.22 L905.33,563.23 L905.45,562.23 L905.58,561.24 L905.70,560.25 L905.82,559.26 L905.94,558.26 L906.07,557.27 L906.19,556.28 L906.32,555.29 L906.44,554.30 L906.57,553.30 L906.70,552.31 L906.83,551.32 L906.96,550.33 L907.10,549.34 L907.24,548.35 L907.38,547.36 L907.52,546.37 L907.67,545.38 L907.82,544.39 L907.98,543.40 L908.14,542.42 L908.30,541.43 L908.47,540.45 L908.65,539.46 L908.83,538.48 L909.01,537.49 L909.20,536.51 L909.40,535.53 L909.60,534.55 L909.81,533.58 L910.02,532.60 L910.25,531.62 L910.48,530.65 L910.71,529.68 L910.96,528.71 L911.21,527.74 L911.47,526.78 L911.74,525.81 L912.02,524.85 L912.31,523.90 L912.60,522.94 L912.91,521.99 L913.22,521.04 L913.55,520.09 L913.88,519.15 L914.22,518.21 L914.58,517.28 L914.94,516.35 L915.32,515.42 L915.70,514.50 L916.10,513.58 L916.51,512.67 L916.92,511.76 L917.35,510.86 L917.79,509.96 L918.25,509.07 L918.71,508.18 L919.19,507.30 L919.67,506.43 L920.17,505.56 L920.68,504.70 L921.20,503.85 L921.73,503.00 L922.28,502.16 L922.83,501.33 L923.40,500.51 L923.98,499.69 L924.56,498.89 L925.17,498.09 L925.78,497.30 L926.40,496.52 L927.04,495.75 L927.70,494.99 L928.36,494.25 L929.05,493.53 L929.76,492.82 L930.49,492.14 L931.24,491.48 L932.01,490.86 L932.82,490.28 L933.65,489.74 L934.52,489.26 L935.41,488.85 L936.34,488.52 L937.28,488.29 L938.25,488.16 L939.21,488.16 L940.17,488.27 L941.12,488.51 L942.03,488.85 L942.91,489.29 L943.75,489.80 L944.56,490.37 L945.35,490.98 L946.11,491.63 L946.85,492.30 L947.57,492.99 L948.28,493.69 L948.97,494.41 L949.65,495.14 L950.32,495.88 L950.98,496.64 L951.62,497.40 L952.25,498.18 L952.87,498.96 L953.48,499.76 L954.07,500.56 L954.65,501.38 L955.21,502.20 L955.77,503.03 L956.31,503.87 L956.84,504.72 L957.36,505.58 L957.86,506.44 L958.36,507.31 L958.84,508.18 L959.31,509.07 L959.77,509.95 L960.22,510.85 L960.66,511.75 L961.08,512.65 L961.50,513.56 L961.91,514.47 L962.30,515.39 L962.69,516.31 L963.07,517.23 L963.44,518.16 L963.80,519.10 L964.16,520.03 L964.50,520.97 L964.84,521.91 L965.17,522.85 L965.49,523.80 L965.81,524.75 L966.12,525.70 L966.42,526.65 L966.72,527.61 L967.01,528.56 L967.29,529.52 L967.57,530.48 L967.85,531.44 L968.12,532.41 L968.39,533.37 L968.65,534.33 L968.91,535.30 L969.17,536.27 L969.42,537.24 L969.67,538.20 L969.91,539.17 L970.16,540.14 L970.40,541.11 L970.64,542.08 L970.88,543.05 L971.11,544.03 L971.35,545.00 L971.58,545.97 L971.82,546.94 L972.05,547.92 L972.28,548.89 L972.51,549.86 L972.74,550.84 L972.97,551.81 L973.19,552.78 L973.42,553.76 L973.64,554.73 L973.87,555.71 L974.09,556.68 L974.31,557.66 L974.53,558.63 L974.76,559.61 L974.98,560.58 L975.19,561.56 L975.41,562.53 L975.63,563.51 L975.85,564.49 L976.06,565.46 L976.28,566.44 L976.49,567.42 L976.71,568.39 L976.92,569.37 L977.13,570.35 L977.34,571.32 L977.55,572.30 L977.76,573.28 L977.97,574.26 L978.18,575.23 L978.39,576.21 L978.60,577.19 L978.81,578.17 L979.02,579.15 L979.22,580.13 L979.43,581.10 L979.63,582.08 L979.84,583.06 L980.04,584.04 L980.25,585.02 L980.45,586.00 L980.66,586.98 L980.86,587.96 L981.06,588.94 L981.26,589.91 L981.47,590.89 L981.67,591.87 L981.87,592.85 L982.07,593.83 L982.27,594.81 L982.47,595.79 L982.67,596.77 L982.88,597.75 L983.08,598.73 L983.28,599.71 L983.48,600.69 L983.68,601.67 L983.88,602.65 L984.08,603.63 L984.28,604.61 L984.48,605.59 L984.68,606.57 L984.88,607.55 L985.07,608.53 L985.27,609.51 L985.47,610.49 L985.67,611.47 L985.87,612.45 L986.07,613.43 L986.27,614.41 L986.47,615.39 L986.67,616.37 L986.88,617.35 L987.08,618.33 L987.28,619.31 L987.48,620.29 L987.68,621.27 L987.88,622.24 L988.08,623.22 L988.29,624.20 L988.49,625.18 L988.69,626.16 L988.89,627.14 L989.10,628.12 L989.30,629.10 L989.51,630.08 L989.71,631.06 L989.92,632.04 L990.12,633.01 L990.33,633.99 L990.53,634.97 L990.74,635.95 L990.95,636.93 L991.16,637.91 L991.37,638.88 L991.58,639.86 L991.79,640.84 L992.00,641.82 L992.21,642.79 L992.42,643.77 L992.63,644.75 L992.85,645.73 L993.06,646.70 L993.27,647.68 L993.49,648.66 L993.71,649.63 L993.92,650.61 L994.14,651.58 L994.36,652.56 L994.58,653.54 L994.80,654.51 L995.02,655.49 L995.24,656.46 L995.46,657.44 L995.69,658.41 L995.91,659.39 L996.14,660.36 L996.37,661.33 L996.59,662.31 L996.82,663.28 L997.05,664.25 L997.28,665.23 L997.51,666.20 L997.75,667.17 L997.98,668.14 L998.22,669.12 L998.45,670.09 L998.69,671.06 L998.93,672.03 L999.17,673.00 L999.41,673.97 L999.65,674.94 L999.89,675.91 L1000.14,676.88 L1000.39,677.85 L1000.63,678.82 L1000.88,679.79 L1001.13,680.76 L1001.38,681.72 L1001.63,682.69 L1001.89,683.66 L1002.14,684.63 L1002.40,685.59 L1002.66,686.56 L1002.92,687.52 L1003.18,688.49 L1003.44,689.45 L1003.71,690.42 L1003.97,691.38 L1004.24,692.35 L1004.51,693.31 L1004.78,694.27 L1005.05,695.24 L1005.32,696.20 L1005.60,697.16 L1005.87,698.12 L1006.15,699.08 L1006.43,700.04 L1006.71,701.00 L1006.99,701.96 L1007.28,702.92 L1007.57,703.88 L1007.85,704.83 L1008.14,705.79 L1008.44,706.75 L1008.73,707.70 L1009.02,708.66 L1009.32,709.61 L1009.62,710.57 L1009.92,711.52 L1010.22,712.47 L1010.53,713.43 L1010.83,714.38 L1011.14,715.33 L1011.45,716.28 L1011.76,717.23 L1012.08,718.18 L1012.39,719.13 L1012.71,720.08 L1013.03,721.03 L1013.35,721.97 L1013.67,722.92 L1014.00,723.86 L1014.33,724.81 L1014.66,725.75 L1014.99,726.70 L1015.32,727.64 L1015.66,728.58 L1016.00,729.52 L1016.34,730.46 L1016.68,731.40 L1017.02,732.34 L1017.37,733.28" fill="none" stroke="#68c060" stroke-width="2.70" stroke-linejoin="round" stroke-linecap="round"/>
<path d="M793.63,667.13 L794.06,666.22 L794.48,665.32 L794.90,664.41 L795.32,663.50 L795.74,662.59 L796.16,661.69 L796.58,660.78 L796.99,659.87 L797.41,658.96 L797.82,658.05 L798.23,657.13 L798.64,656.22 L799.04,655.31 L799.44,654.39 L799.84,653.47 L800.24,652.56 L800.63,651.64 L801.02,650.71 L801.41,649.79 L801.79,648.87 L802.17,647.94 L802.54,647.02 L802.91,646.09 L803.28,645.16 L803.65,644.23 L804.01,643.29 L804.37,642.36 L804.72,641.43 L805.07,640.49 L805.42,639.55 L805.76,638.61 L806.10,637.67 L806.44,636.73 L806.78,635.79 L807.12,634.85 L807.45,633.91 L807.78,632.96 L808.12,632.02 L808.46,631.08 L808.80,630.14 L809.14,629.20 L809.49,628.26 L809.85,627.33 L810.21,626.40 L810.59,625.47 L810.97,624.55 L811.36,623.63 L811.77,622.71 L812.18,621.81 L812.62,620.91 L813.07,620.01 L813.53,619.13 L814.02,618.26 L814.53,617.40 L815.06,616.56 L815.62,615.73 L816.21,614.93 L816.83,614.15 L817.49,613.40 L818.18,612.69 L818.91,612.01 L819.68,611.39 L820.49,610.82 L821.34,610.31 L822.22,609.88 L823.14,609.53 L824.08,609.27 L825.05,609.10 L826.02,609.03 L826.99,609.08 L827.95,609.24 L828.88,609.52 L829.77,609.90 L830.63,610.38 L831.43,610.94 L832.19,611.57 L832.90,612.26 L833.57,613.00 L834.19,613.77 L834.78,614.57 L835.34,615.40 L835.86,616.25 L836.36,617.11 L836.84,617.99 L837.29,618.88 L837.73,619.78 L838.15,620.69 L838.55,621.60 L838.94,622.52 L839.33,623.44 L839.69,624.37 L840.06,625.31 L840.41,626.24 L840.75,627.18 L841.09,628.12 L841.43,629.06 L841.76,630.01 L842.09,630.95 L842.41,631.89 L842.74,632.84 L843.06,633.79 L843.38,634.73 L843.71,635.68 L844.02,636.63 L844.34,637.58 L844.66,638.53 L844.98,639.47 L845.29,640.42 L845.60,641.37 L845.91,642.32 L846.22,643.28 L846.52,644.23 L846.83,645.18 L847.13,646.14 L847.42,647.09 L847.72,648.05 L848.01,649.00 L848.29,649.96 L848.58,650.92 L848.86,651.88 L849.13,652.84 L849.41,653.80 L849.68,654.77 L849.94,655.73 L850.20,656.70 L850.46,657.66 L850.71,658.63 L850.95,659.60 L851.20,660.57 L851.43,661.54 L851.67,662.51 L851.90,663.49 L852.12,664.46 L852.34,665.44 L852.56,666.41 L852.77,667.39 L852.98,668.37 L853.18,669.35 L853.38,670.33 L853.58,671.31 L853.77,672.29 L853.96,673.27 L854.15,674.25 L854.34,675.23 L854.53,676.22 L854.72,677.20 L854.90,678.18 L855.09,679.16 L855.27,680.15 L855.46,681.13 L855.64,682.11 L855.83,683.09 L856.02,684.08 L856.21,685.06 L856.40,686.04 L856.59,687.02 L856.79,688.00 L856.99,688.98 L857.19,689.96 L857.39,690.94 L857.60,691.92 L857.81,692.90 L858.03,693.87 L858.25,694.85 L858.47,695.82 L858.70,696.80 L858.93,697.77 L859.17,698.74 L859.42,699.71 L859.67,700.68 L859.93,701.64 L860.19,702.61 L860.46,703.57 L860.74,704.53 L861.03,705.49 L861.33,706.44 L861.63,707.39 L861.95,708.34 L862.28,709.29 L862.61,710.23 L862.96,711.16 L863.32,712.10 L863.69,713.03 L864.07,713.95 L864.47,714.87 L864.88,715.78 L865.30,716.68 L865.74,717.58 L866.20,718.47 L866.67,719.35 L867.17,720.22 L867.68,721.07 L868.22,721.91 L868.79,722.72 L869.40,723.50 L870.06,724.22 L870.77,724.83 L871.54,725.28 L872.33,725.52 L873.12,725.49 L873.87,725.19 L874.53,724.66 L875.10,723.95 L875.58,723.12 L876.00,722.24 L876.38,721.32 L876.72,720.38 L877.05,719.44 L877.36,718.49 L877.66,717.54 L877.96,716.58 L878.25,715.62 L878.54,714.67 L878.83,713.71 L879.11,712.75 L879.40,711.79 L879.68,710.83 L879.95,709.87 L880.23,708.91 L880.50,707.95 L880.77,706.99 L881.04,706.02 L881.30,705.06 L881.56,704.09 L881.82,703.13 L882.08,702.16 L882.34,701.19 L882.59,700.23 L882.84,699.26 L883.08,698.29 L883.33,697.32 L883.57,696.35 L883.81,695.38 L884.05,694.41 L884.29,693.43 L884.52,692.46 L884.75,691.49 L884.98,690.52 L885.20,689.54 L885.43,688.57 L885.65,687.59 L885.87,686.62 L886.08,685.64 L886.30,684.66 L886.51,683.69 L886.72,682.71 L886.93,681.73 L887.13,680.75 L887.34,679.77 L887.54,678.79 L887.74,677.81 L887.94,676.83 L888.13,675.85 L888.32,674.87 L888.52,673.89 L888.70,672.91 L888.89,671.92 L889.08,670.94 L889.26,669.96 L889.44,668.98 L889.62,667.99 L889.80,667.01 L889.97,666.02 L890.15,665.04 L890.32,664.05 L890.49,663.07 L890.66,662.08 L890.83,661.10 L890.99,660.11 L891.16,659.12 L891.32,658.14 L891.48,657.15 L891.64,656.16 L891.79,655.17 L891.95,654.19 L892.10,653.20 L892.25,652.21 L892.41,651.22 L892.56,650.23 L892.70,649.24 L892.85,648.26 L893.00,647.27 L893.14,646.28 L893.28,645.29 L893.42,644.30 L893.56,643.31 L893.70,642.32 L893.84,641.33 L893.98,640.33 L894.11,639.34 L894.25,638.35 L894.38,637.36 L894.51,636.37 L894.64,635.38 L894.77,634.39 L894.90,633.40 L895.03,632.40 L895.16,631.41 L895.28,630.42 L895.41,629.43 L895.53,628.44 L895.66,627.44 L895.78,626.45 L895.90,625.46 L896.03,624.47 L896.15,623.47 L896.27,622.48 L896.39,621.49 L896.51,620.50 L896.62,619.50 L896.74,618.51 L896.86,617.52 L896.98,616.52 L897.09,615.53 L897.21,614.54 L897.33,613.54 L897.44,612.55 L897.56,611.56 L897.67,610.56 L897.79,609.57 L897.90,608.58 L898.01,607.58 L898.13,606.59 L898.24,605.60 L898.36,604.60 L898.47,603.61 L898.59,602.62 L898.70,601.62 L898.81,600.63 L898.93,599.64 L899.05,598.64 L899.16,597.65 L899.28,596.66 L899.39,595.66 L899.51,594.67 L899.63,593.68 L899.75,592.68 L899.87,591.69 L899.99,590.70 L900.11,589.71 L900.23,588.71 L900.35,587.72 L900.48,586.73 L900.60,585.74 L900.73,584.74 L900.85,583.75 L900.98,582.76 L901.11,581.77 L901.24,580.78 L901.37,579.79 L901.51,578.80 L901.64,577.80 L901.78,576.81 L901.92,575.82 L902.05,574.83 L902.20,573.84 L902.34,572.85 L902.48,571.86 L902.63,570.87 L902.78,569.89 L902.93,568.90 L903.08,567.91 L903.23,566.92 L903.39,565.93 L903.55,564.95 L903.71,563.96 L903.87,562.97 L904.04,561.99 L904.20,561.00 L904.37,560.01 L904.55,559.03 L904.72,558.04 L904.90,557.06 L905.08,556.08 L905.26,555.09 L905.44,554.11 L905.63,553.13 L905.82,552.15 L906.02,551.17 L906.21,550.18 L906.41,549.20 L906.61,548.23 L906.82,547.25 L907.03,546.27 L907.24,545.29 L907.45,544.31 L907.67,543.34 L907.89,542.36 L908.11,541.39 L908.34,540.41 L908.57,539.44 L908.80,538.47 L909.04,537.50 L909.28,536.53 L909.52,535.56 L909.77,534.59 L910.02,533.62 L910.28,532.65 L910.53,531.69 L910.80,530.72 L911.06,529.76 L911.33,528.79 L911.60,527.83 L911.88,526.87 L912.16,525.91 L912.45,524.95 L912.74,524.00 L913.03,523.04 L913.33,522.09 L913.63,521.13 L913.93,520.18 L914.24,519.23 L914.55,518.28 L914.87,517.33 L915.19,516.38 L915.51,515.44 L915.84,514.49 L916.18,513.55 L916.52,512.61 L916.86,511.67 L917.20,510.73 L917.56,509.80 L917.91,508.86 L918.27,507.93 L918.64,507.00 L919.02,506.07 L919.41,505.15 L919.81,504.24 L920.22,503.32 L920.64,502.42 L921.08,501.52 L921.54,500.63 L922.01,499.76 L922.51,498.89 L923.03,498.04 L923.58,497.20 L924.15,496.38 L924.75,495.59 L925.38,494.81 L926.04,494.07 L926.73,493.35 L927.45,492.67 L928.21,492.02 L929.00,491.42 L929.82,490.85 L930.67,490.34 L931.54,489.88 L932.45,489.47 L933.37,489.11 L934.32,488.81 L935.28,488.57 L936.26,488.40 L937.24,488.30 L938.22,488.28 L939.20,488.35 L940.17,488.50 L941.12,488.75 L942.05,489.09 L942.94,489.51 L943.79,490.00 L944.60,490.56 L945.37,491.19 L946.10,491.86 L946.79,492.57 L947.45,493.32 L948.07,494.10 L948.66,494.90 L949.22,495.72 L949.76,496.57 L950.27,497.42 L950.76,498.29 L951.23,499.17 L951.69,500.06 L952.12,500.96 L952.55,501.87 L952.96,502.78 L953.36,503.70 L953.75,504.62 L954.13,505.54 L954.50,506.47 L954.86,507.40 L955.21,508.34 L955.56,509.28 L955.90,510.22 L956.23,511.16 L956.55,512.11 L956.87,513.05 L957.18,514.00 L957.49,514.96 L957.78,515.91 L958.08,516.87 L958.36,517.83 L958.65,518.78 L958.92,519.74 L959.20,520.71 L959.47,521.67 L959.74,522.63 L960.00,523.60 L960.26,524.56 L960.52,525.53 L960.78,526.49 L961.03,527.46 L961.29,528.43 L961.54,529.40 L961.79,530.36 L962.04,531.33 L962.29,532.30 L962.53,533.27 L962.78,534.24 L963.02,535.21 L963.26,536.18 L963.50,537.15 L963.74,538.12 L963.98,539.09 L964.21,540.07 L964.45,541.04 L964.68,542.01 L964.91,542.98 L965.14,543.96 L965.37,544.93 L965.60,545.90 L965.83,546.88 L966.05,547.85 L966.28,548.83 L966.50,549.80 L966.72,550.78 L966.94,551.75 L967.16,552.73 L967.38,553.70 L967.60,554.68 L967.82,555.66 L968.03,556.63 L968.25,557.61 L968.46,558.59 L968.67,559.56 L968.88,560.54 L969.09,561.52 L969.30,562.49 L969.51,563.47 L969.72,564.45 L969.93,565.43 L970.14,566.41 L970.34,567.39 L970.55,568.36 L970.75,569.34 L970.95,570.32 L971.16,571.30 L971.36,572.28 L971.56,573.26 L971.76,574.24 L971.96,575.22 L972.16,576.20 L972.36,577.18 L972.56,578.16 L972.76,579.14 L972.96,580.12 L973.16,581.10 L973.35,582.08 L973.55,583.06 L973.75,584.04 L973.94,585.02 L974.14,586.00 L974.33,586.98 L974.53,587.96 L974.72,588.95 L974.92,589.93 L975.11,590.91 L975.30,591.89 L975.50,592.87 L975.69,593.85 L975.89,594.83 L976.08,595.81 L976.27,596.79 L976.47,597.78 L976.66,598.76 L976.85,599.74 L977.04,600.72 L977.24,601.70 L977.43,602.68 L977.62,603.66 L977.82,604.64 L978.01,605.62 L978.20,606.61 L978.40,607.59 L978.59,608.57 L978.78,609.55 L978.98,610.53 L979.17,611.51 L979.37,612.49 L979.56,613.47 L979.76,614.45 L979.95,615.43 L980.15,616.41 L980.34,617.40 L980.54,618.38 L980.74,619.36 L980.93,620.34 L981.13,621.32 L981.33,622.30 L981.53,623.28 L981.73,624.26 L981.93,625.24 L982.13,626.22 L982.33,627.20 L982.53,628.18 L982.73,629.16 L982.93,630.13 L983.14,631.11 L983.34,632.09 L983.55,633.07 L983.75,634.05 L983.96,635.03 L984.16,636.01 L984.37,636.99 L984.58,637.96 L984.79,638.94 L985.00,639.92 L985.21,640.90 L985.42,641.87 L985.64,642.85 L985.85,643.83 L986.07,644.80 L986.28,645.78 L986.50,646.76 L986.72,647.73 L986.94,648.71 L987.16,649.68 L987.38,650.66 L987.60,651.63 L987.82,652.61 L988.05,653.58 L988.27,654.56 L988.50,655.53 L988.73,656.50 L988.96,657.48 L989.19,658.45 L989.42,659.42 L989.66,660.40 L989.89,661.37 L990.13,662.34 L990.37,663.31 L990.60,664.28 L990.85,665.25 L991.09,666.22 L991.33,667.19 L991.58,668.16 L991.82,669.13 L992.07,670.10 L992.32,671.07 L992.57,672.04 L992.83,673.00 L993.08,673.97 L993.34,674.94 L993.60,675.90 L993.86,676.87 L994.12,677.83 L994.38,678.80 L994.65,679.76" fill="none" stroke="#6a58b0" stroke-width="2.70" stroke-linejoin="round" stroke-linecap="round"/>
<path d="M976.92,795.60 L977.89,795.35 L978.85,795.08 L979.81,794.80 L980.76,794.49 L981.70,794.17 L982.64,793.81 L983.56,793.44 L984.48,793.04 L985.38,792.61 L986.27,792.15 L987.14,791.68 L988.00,791.17 L988.85,790.64 L989.68,790.08 L990.49,789.50 L991.28,788.90 L992.06,788.27 L992.81,787.61 L993.55,786.94 L994.26,786.24 L994.96,785.52 L995.63,784.79 L996.28,784.03 L996.92,783.26 L997.53,782.47 L998.12,781.67 L998.69,780.85 L999.24,780.01 L999.77,779.17 L1000.28,778.31 L1000.78,777.44 L1001.26,776.56 L1001.71,775.68 L1002.16,774.78 L1002.58,773.88 L1002.99,772.96 L1003.39,772.05 L1003.77,771.12 L1004.13,770.19 L1004.49,769.26 L1004.83,768.32 L1005.16,767.37 L1005.47,766.43 L1005.78,765.47 L1006.08,764.52 L1006.36,763.56 L1006.64,762.60 L1006.91,761.64 L1007.17,760.67 L1007.42,759.70 L1007.67,758.73 L1007.90,757.76 L1008.14,756.79 L1008.36,755.82 L1008.58,754.84 L1008.80,753.87 L1009.01,752.89 L1009.22,751.91 L1009.42,750.93 L1009.62,749.95 L1009.82,748.97 L1010.02,747.99 L1010.21,747.01 L1010.40,746.03 L1010.59,745.05 L1010.78,744.06 L1010.97,743.08 L1011.15,742.10 L1011.34,741.12 L1011.52,740.13 L1011.71,739.15 L1011.89,738.17 L1012.07,737.18 L1012.25,736.20 L1012.43,735.22 L1012.61,734.23 L1012.79,733.25 L1012.97,732.27 L1013.15,731.28 L1013.32,730.30 L1013.50,729.31 L1013.67,728.33 L1013.85,727.34 L1014.02,726.36 L1014.20,725.37 L1014.37,724.39 L1014.54,723.40 L1014.71,722.42 L1014.89,721.43 L1015.06,720.45 L1015.23,719.46 L1015.40,718.48 L1015.57,717.49 L1015.74,716.51 L1015.91,715.52 L1016.08,714.54 L1016.25,713.55 L1016.42,712.56 L1016.58,711.58 L1016.75,710.59 L1016.92,709.61 L1017.09,708.62 L1017.26,707.64 L1017.43,706.65 L1017.60,705.67 L1017.77,704.68 L1017.94,703.69 L1018.11,702.71 L1018.28,701.72 L1018.45,700.74 L1018.62,699.75 L1018.79,698.77 L1018.96,697.78 L1019.13,696.80 L1019.31,695.81 L1019.48,694.83 L1019.65,693.84 L1019.83,692.86 L1020.00,691.87 L1020.18,690.89 L1020.35,689.90 L1020.53,688.92 L1020.70,687.94 L1020.88,686.95 L1021.06,685.97 L1021.24,684.98 L1021.42,684.00 L1021.60,683.02 L1021.79,682.03 L1021.97,681.05 L1022.15,680.07 L1022.34,679.09 L1022.52,678.10 L1022.71,677.12 L1022.90,676.14 L1023.09,675.16 L1023.28,674.17 L1023.47,673.19 L1023.67,672.21 L1023.86,671.23 L1024.05,670.25 L1024.25,669.27 L1024.45,668.29 L1024.64,667.31 L1024.84,666.33 L1025.04,665.35 L1025.24,664.37 L1025.44,663.39 L1025.64,662.41 L1025.85,661.43 L1026.05,660.45 L1026.25,659.47 L1026.46,658.49 L1026.66,657.51 L1026.87,656.54 L1027.08,655.56 L1027.28,654.58 L1027.49,653.60 L1027.70,652.62 L1027.91,651.64 L1028.12,650.67 L1028.32,649.69 L1028.53,648.71 L1028.74,647.73 L1028.96,646.76 L1029.17,645.78 L1029.38,644.80 L1029.59,643.82 L1029.80,642.85 L1030.01,641.87 L1030.23,640.89 L1030.44,639.92 L1030.65,638.94 L1030.86,637.96 L1031.08,636.98 L1031.29,636.01 L1031.50,635.03 L1031.72,634.05 L1031.93,633.08 L1032.14,632.10 L1032.36,631.12 L1032.57,630.14 L1032.78,629.17 L1033.00,628.19 L1033.21,627.21 L1033.42,626.24 L1033.63,625.26 L1033.85,624.28 L1034.06,623.31 L1034.27,622.33 L1034.48,621.35 L1034.69,620.37 L1034.91,619.40 L1035.12,618.42 L1035.33,617.44 L1035.54,616.46 L1035.75,615.49 L1035.96,614.51 L1036.16,613.53 L1036.37,612.55 L1036.58,611.57 L1036.79,610.59 L1037.00,609.62 L1037.20,608.64 L1037.41,607.66 L1037.61,606.68 L1037.82,605.70 L1038.02,604.72 L1038.22,603.74 L1038.43,602.76 L1038.63,601.78 L1038.83,600.81 L1039.03,599.83 L1039.23,598.85 L1039.43,597.87 L1039.62,596.89 L1039.82,595.90 L1040.02,594.92 L1040.21,593.94 L1040.41,592.96 L1040.60,591.98 L1040.79,591.00 L1040.98,590.02 L1041.17,589.04 L1041.36,588.06 L1041.55,587.07 L1041.74,586.09 L1041.93,585.11 L1042.11,584.13 L1042.30,583.14 L1042.48,582.16 L1042.66,581.18 L1042.84,580.19 L1043.02,579.21 L1043.20,578.22 L1043.37,577.24 L1043.55,576.26 L1043.73,575.27 L1043.90,574.29 L1044.07,573.30 L1044.24,572.32 L1044.41,571.33 L1044.58,570.34 L1044.74,569.36 L1044.91,568.37 L1045.07,567.39 L1045.24,566.40 L1045.40,565.41 L1045.56,564.43 L1045.72,563.44 L1045.87,562.45 L1046.03,561.46 L1046.19,560.48 L1046.35,559.49 L1046.50,558.50 L1046.66,557.51 L1046.82,556.53 L1046.98,555.54 L1047.14,554.55 L1047.30,553.56 L1047.46,552.58 L1047.62,551.59 L1047.79,550.60 L1047.96,549.62 L1048.13,548.63 L1048.30,547.65 L1048.47,546.66 L1048.65,545.68 L1048.83,544.70 L1049.01,543.71 L1049.20,542.73 L1049.39,541.75 L1049.59,540.77 L1049.79,539.79 L1049.99,538.81 L1050.20,537.83 L1050.41,536.85 L1050.63,535.88 L1050.86,534.90 L1051.09,533.93 L1051.32,532.96 L1051.56,531.99 L1051.81,531.02 L1052.07,530.05 L1052.33,529.09 L1052.60,528.13 L1052.88,527.17 L1053.17,526.21 L1053.46,525.25 L1053.77,524.30 L1054.08,523.35 L1054.40,522.40 L1054.73,521.46 L1055.07,520.52 L1055.43,519.59 L1055.79,518.65 L1056.16,517.73 L1056.55,516.80 L1056.94,515.89 L1057.35,514.97 L1057.77,514.07 L1058.20,513.17 L1058.65,512.27 L1059.11,511.38 L1059.58,510.50 L1060.06,509.63 L1060.56,508.76 L1061.08,507.90 L1061.60,507.06 L1062.15,506.22 L1062.70,505.39 L1063.27,504.57 L1063.86,503.76 L1064.46,502.96 L1065.08,502.17 L1065.71,501.40 L1066.35,500.64 L1067.02,499.89 L1067.69,499.15 L1068.38,498.43 L1069.09,497.72 L1069.81,497.03 L1070.54,496.35 L1071.29,495.69 L1072.06,495.05 L1072.84,494.43 L1073.64,493.83 L1074.46,493.26 L1075.30,492.73 L1076.17,492.25 L1077.06,491.82 L1077.98,491.47 L1078.92,491.19 L1079.88,491.02 L1080.84,490.97 L1081.80,491.05 L1082.74,491.25 L1083.64,491.59 L1084.50,492.04 L1085.31,492.58 L1086.07,493.21 L1086.79,493.89 L1087.47,494.61 L1088.11,495.37 L1088.73,496.16 L1089.32,496.96 L1089.90,497.78 L1090.46,498.61 L1091.00,499.44 L1091.54,500.29 L1092.06,501.14 L1092.58,501.99 L1093.10,502.85 L1093.60,503.71 L1094.10,504.58 L1094.60,505.45 L1095.09,506.32 L1095.57,507.19 L1096.05,508.07 L1096.52,508.95 L1096.98,509.84 L1097.44,510.73 L1097.90,511.62 L1098.35,512.51 L1098.79,513.41 L1099.23,514.31 L1099.66,515.21 L1100.08,516.11 L1100.51,517.02 L1100.92,517.93 L1101.33,518.84 L1101.74,519.75 L1102.15,520.67 L1102.54,521.59 L1102.94,522.50 L1103.33,523.43 L1103.72,524.35 L1104.10,525.27 L1104.48,526.19 L1104.86,527.12 L1105.24,528.05 L1105.62,528.97 L1105.99,529.90 L1106.36,530.83 L1106.73,531.76 L1107.10,532.69 L1107.47,533.62 L1107.84,534.55 L1108.21,535.48 L1108.57,536.41 L1108.94,537.34 L1109.31,538.27 L1109.67,539.20 L1110.04,540.13 L1110.40,541.06 L1110.77,541.99 L1111.13,542.92 L1111.50,543.85 L1111.86,544.78 L1112.22,545.72 L1112.58,546.65 L1112.95,547.58 L1113.31,548.51 L1113.67,549.45 L1114.03,550.38 L1114.39,551.31 L1114.75,552.24 L1115.11,553.18 L1115.47,554.11 L1115.83,555.04 L1116.19,555.98 L1116.54,556.91 L1116.90,557.85 L1117.26,558.78 L1117.61,559.71 L1117.97,560.65 L1118.33,561.58 L1118.68,562.52 L1119.04,563.45 L1119.39,564.39 L1119.75,565.32 L1120.10,566.26 L1120.46,567.19 L1120.81,568.13 L1121.17,569.06 L1121.52,570.00 L1121.87,570.93 L1122.23,571.87 L1122.58,572.80 L1122.93,573.74 L1123.28,574.68 L1123.63,575.61 L1123.99,576.55 L1124.34,577.48 L1124.69,578.42 L1125.04,579.36 L1125.39,580.29 L1125.74,581.23 L1126.09,582.17 L1126.44,583.10 L1126.79,584.04 L1127.14,584.98 L1127.49,585.91 L1127.84,586.85 L1128.19,587.79 L1128.54,588.73 L1128.88,589.66 L1129.23,590.60 L1129.58,591.54 L1129.93,592.47 L1130.28,593.41 L1130.63,594.35 L1130.97,595.29 L1131.32,596.23 L1131.67,597.16 L1132.02,598.10 L1132.36,599.04 L1132.71,599.98 L1133.06,600.91 L1133.40,601.85 L1133.75,602.79 L1134.10,603.73 L1134.44,604.67 L1134.79,605.60 L1135.14,606.54 L1135.48,607.48 L1135.83,608.42 L1136.17,609.36 L1136.52,610.30 L1136.87,611.23 L1137.21,612.17 L1137.56,613.11 L1137.90,614.05 L1138.25,614.99 L1138.60,615.93 L1138.94,616.86 L1139.29,617.80 L1139.63,618.74 L1139.98,619.68 L1140.32,620.62 L1140.67,621.56 L1141.02,622.49 L1141.36,623.43 L1141.71,624.37 L1142.05,625.31 L1142.40,626.25 L1142.74,627.19 L1143.09,628.12 L1143.44,629.06 L1143.78,630.00 L1144.13,630.94 L1144.47,631.88 L1144.82,632.81 L1145.16,633.75 L1145.51,634.69 L1145.86,635.63 L1146.20,636.57 L1146.55,637.51 L1146.90,638.44 L1147.24,639.38 L1147.59,640.32 L1147.94,641.26 L1148.28,642.20 L1148.63,643.13 L1148.98,644.07 L1149.32,645.01 L1149.67,645.95 L1150.02,646.88 L1150.37,647.82 L1150.71,648.76 L1151.06,649.70 L1151.41,650.64 L1151.76,651.57 L1152.11,652.51 L1152.45,653.45 L1152.80,654.38 L1153.15,655.32 L1153.50,656.26 L1153.85,657.20 L1154.20,658.13 L1154.55,659.07 L1154.90,660.01 L1155.25,660.94 L1155.60,661.88 L1155.95,662.82 L1156.30,663.75 L1156.65,664.69 L1157.00,665.63 L1157.35,666.56 L1157.70,667.50 L1158.06,668.43 L1158.41,669.37 L1158.76,670.31 L1159.11,671.24 L1159.47,672.18 L1159.82,673.11 L1160.17,674.05 L1160.53,674.98 L1160.88,675.92 L1161.23,676.85 L1161.59,677.79 L1161.94,678.72 L1162.30,679.66 L1162.65,680.59 L1163.01,681.53 L1163.37,682.46 L1163.72,683.40 L1164.08,684.33 L1164.44,685.26 L1164.80,686.20 L1165.16,687.13 L1165.52,688.06 L1165.88,689.00 L1166.24,689.93 L1166.60,690.86 L1166.96,691.79 L1167.33,692.73 L1167.69,693.66 L1168.06,694.59 L1168.42,695.52 L1168.79,696.45 L1169.16,697.38 L1169.53,698.31 L1169.90,699.24 L1170.27,700.16 L1170.64,701.09 L1171.02,702.02 L1171.39,702.95 L1171.77,703.87 L1172.14,704.80 L1172.52,705.73 L1172.90,706.65 L1173.28,707.58 L1173.66,708.50 L1174.05,709.42 L1174.43,710.35 L1174.82,711.27 L1175.21,712.19 L1175.60,713.11 L1175.99,714.03 L1176.38,714.95 L1176.77,715.87 L1177.17,716.79 L1177.57,717.71 L1177.97,718.62 L1178.37,719.54 L1178.77,720.45 L1179.18,721.37 L1179.58,722.28 L1179.99,723.20 L1180.40,724.11 L1180.81,725.02 L1181.23,725.93 L1181.64,726.84 L1182.06,727.75 L1182.48,728.65 L1182.90,729.56 L1183.33,730.47 L1183.75,731.37 L1184.18,732.27 L1184.61,733.18 L1185.05,734.08 L1185.48,734.98 L1185.92,735.88 L1186.36,736.78 L1186.80,737.67 L1187.24,738.57 L1187.69,739.46 L1188.14,740.36 L1188.59,741.25 L1189.05,742.14 L1189.50,743.03 L1189.96,743.92 L1190.42,744.81 L1190.89,745.69 L1191.35,746.58 L1191.82,747.46 L1192.29,748.34 L1192.77,749.22 L1193.25,750.10 L1193.72,750.98 L1194.21,751.85 L1194.69,752.73 L1195.18,753.60 L1195.67,754.47 L1196.16,755.34 L1196.66,756.21 L1197.16,757.08 L1197.66,757.94 L1198.17,758.80 L1198.67,759.67 L1199.18,760.53 L1199.70,761.38 L1200.21,762.24 L1200.73,763.10 L1201.25,763.95 L1201.78,764.80 L1202.31,765.65 L1202.84,766.50 L1203.37,767.34 L1203.91,768.18 L1204.45,769.02 L1205.00,769.86 L1205.55,770.70 L1206.10,771.53 L1206.66,772.36 L1207.22,773.19 L1207.79,774.01 L1208.36,774.83 L1208.94,775.65 L1209.52,776.46 L1210.11,777.27 L1210.70,778.08 L1211.30,778.88 L1211.90,779.68 L1212.51,780.47 L1213.13,781.26 L1213.75,782.04 L1214.38,782.82 L1215.01,783.59 L1215.65,784.35 L1216.30,785.11 L1216.96,785.87 L1217.62,786.62 L1218.29,787.36 L1218.97,788.09 L1219.66,788.82 L1220.36,789.54 L1221.06,790.25 L1221.77,790.95 L1222.49,791.64 L1223.22,792.33 L1223.95,793.00 L1224.70,793.67 L1225.45,794.33 L1226.21,794.97 L1226.99,795.61 L1227.77,796.23 L1228.56,796.85 L1229.36,797.45 L1230.16,798.04 L1230.98,798.61 L1231.81,799.17 L1232.64,799.72 L1233.48,800.26 L1234.34,800.78 L1235.20,801.29 L1236.07,801.78 L1236.95,802.25 L1237.83,802.72 L1238.73,803.16 L1239.63,803.59 L1240.54,804.00 L1241.46,804.39 L1242.39,804.77 L1243.32,805.13 L1244.26,805.47 L1245.20,805.80 L1246.15,806.10 L1247.11,806.39 L1248.07,806.66 L1249.04,806.91 L1250.01,807.14 L1250.99,807.36 L1251.97,807.55 L1252.95,807.73 L1253.94,807.89 L1254.93,808.03 L1255.92,808.16 L1256.91,808.26 L1257.91,808.35 L1258.90,808.43 L1259.90,808.48 L1260.90,808.54" fill="none" stroke="#f0904c" stroke-width="2.70" stroke-linejoin="round" stroke-linecap="round"/>
<path d="M968.36,791.71 L969.27,791.31 L970.19,790.91 L971.09,790.49 L971.99,790.05 L972.87,789.59 L973.75,789.10 L974.61,788.60 L975.46,788.08 L976.30,787.53 L977.12,786.96 L977.93,786.38 L978.72,785.77 L979.49,785.14 L980.25,784.49 L980.99,783.82 L981.72,783.13 L982.43,782.43 L983.12,781.70 L983.79,780.96 L984.44,780.21 L985.07,779.44 L985.69,778.65 L986.29,777.85 L986.87,777.04 L987.43,776.21 L987.98,775.37 L988.50,774.53 L989.02,773.67 L989.51,772.80 L989.99,771.92 L990.45,771.04 L990.90,770.14 L991.33,769.24 L991.75,768.33 L992.15,767.42 L992.54,766.50 L992.92,765.57 L993.29,764.64 L993.64,763.71 L993.98,762.77 L994.31,761.82 L994.63,760.88 L994.94,759.93 L995.24,758.97 L995.53,758.02 L995.81,757.06 L996.08,756.09 L996.35,755.13 L996.61,754.16 L996.86,753.20 L997.10,752.23 L997.34,751.26 L997.57,750.28 L997.79,749.31 L998.01,748.33 L998.23,747.36 L998.44,746.38 L998.65,745.40 L998.85,744.42 L999.05,743.44 L999.25,742.46 L999.44,741.48 L999.64,740.50 L999.82,739.52 L1000.01,738.54 L1000.20,737.55 L1000.39,736.57 L1000.57,735.59 L1000.76,734.60 L1000.94,733.62 L1001.13,732.64 L1001.31,731.66 L1001.50,730.67 L1001.68,729.69 L1001.87,728.71 L1002.05,727.73 L1002.24,726.74 L1002.43,725.76 L1002.61,724.78 L1002.80,723.80 L1002.99,722.81 L1003.18,721.83 L1003.36,720.85 L1003.55,719.87 L1003.74,718.89 L1003.93,717.90 L1004.12,716.92 L1004.31,715.94 L1004.50,714.96 L1004.69,713.98 L1004.88,713.00 L1005.07,712.01 L1005.27,711.03 L1005.46,710.05 L1005.65,709.07 L1005.85,708.09 L1006.04,707.11 L1006.23,706.13 L1006.43,705.15 L1006.62,704.17 L1006.82,703.19 L1007.02,702.20 L1007.21,701.22 L1007.41,700.24 L1007.61,699.26 L1007.81,698.28 L1008.01,697.30 L1008.21,696.32 L1008.41,695.34 L1008.61,694.36 L1008.81,693.39 L1009.02,692.41 L1009.22,691.43 L1009.42,690.45 L1009.63,689.47 L1009.83,688.49 L1010.04,687.51 L1010.24,686.53 L1010.45,685.56 L1010.66,684.58 L1010.87,683.60 L1011.08,682.62 L1011.29,681.64 L1011.50,680.67 L1011.71,679.69 L1011.92,678.71 L1012.14,677.73 L1012.35,676.76 L1012.57,675.78 L1012.78,674.80 L1013.00,673.83 L1013.22,672.85 L1013.43,671.88 L1013.65,670.90 L1013.87,669.93 L1014.09,668.95 L1014.31,667.97 L1014.53,667.00 L1014.76,666.02 L1014.98,665.05 L1015.20,664.07 L1015.43,663.10 L1015.65,662.13 L1015.88,661.15 L1016.11,660.18 L1016.33,659.20 L1016.56,658.23 L1016.79,657.26 L1017.02,656.28 L1017.25,655.31 L1017.48,654.34 L1017.71,653.36 L1017.94,652.39 L1018.17,651.42 L1018.40,650.45 L1018.63,649.47 L1018.87,648.50 L1019.10,647.53 L1019.33,646.56 L1019.57,645.58 L1019.80,644.61 L1020.04,643.64 L1020.27,642.67 L1020.51,641.70 L1020.75,640.72 L1020.98,639.75 L1021.22,638.78 L1021.46,637.81 L1021.69,636.84 L1021.93,635.87 L1022.17,634.90 L1022.41,633.92 L1022.65,632.95 L1022.89,631.98 L1023.12,631.01 L1023.36,630.04 L1023.60,629.07 L1023.84,628.10 L1024.08,627.13 L1024.32,626.16 L1024.56,625.19 L1024.80,624.21 L1025.04,623.24 L1025.28,622.27 L1025.52,621.30 L1025.76,620.33 L1026.00,619.36 L1026.25,618.39 L1026.49,617.42 L1026.73,616.45 L1026.97,615.48 L1027.21,614.51 L1027.45,613.54 L1027.69,612.57 L1027.93,611.60 L1028.17,610.63 L1028.41,609.66 L1028.65,608.69 L1028.89,607.71 L1029.13,606.74 L1029.37,605.77 L1029.61,604.80 L1029.85,603.83 L1030.09,602.86 L1030.33,601.89 L1030.57,600.92 L1030.81,599.95 L1031.05,598.98 L1031.29,598.01 L1031.53,597.03 L1031.77,596.06 L1032.01,595.09 L1032.24,594.12 L1032.48,593.15 L1032.72,592.18 L1032.96,591.21 L1033.19,590.24 L1033.43,589.26 L1033.67,588.29 L1033.90,587.32 L1034.14,586.35 L1034.37,585.38 L1034.61,584.40 L1034.84,583.43 L1035.07,582.46 L1035.31,581.49 L1035.54,580.51 L1035.77,579.54 L1036.00,578.57 L1036.24,577.60 L1036.47,576.62 L1036.70,575.65 L1036.93,574.68 L1037.16,573.70 L1037.39,572.73 L1037.61,571.76 L1037.84,570.78 L1038.07,569.81 L1038.30,568.84 L1038.52,567.86 L1038.75,566.89 L1038.97,565.91 L1039.19,564.94 L1039.42,563.96 L1039.64,562.99 L1039.86,562.01 L1040.08,561.04 L1040.30,560.06 L1040.52,559.09 L1040.74,558.11 L1040.96,557.14 L1041.18,556.16 L1041.40,555.18 L1041.62,554.21 L1041.84,553.23 L1042.06,552.26 L1042.28,551.28 L1042.50,550.31 L1042.73,549.33 L1042.95,548.36 L1043.18,547.38 L1043.40,546.41 L1043.63,545.44 L1043.87,544.46 L1044.10,543.49 L1044.34,542.52 L1044.58,541.55 L1044.82,540.58 L1045.07,539.61 L1045.31,538.64 L1045.57,537.67 L1045.82,536.71 L1046.08,535.74 L1046.35,534.78 L1046.61,533.81 L1046.89,532.85 L1047.16,531.89 L1047.44,530.93 L1047.73,529.97 L1048.02,529.02 L1048.32,528.06 L1048.62,527.11 L1048.92,526.16 L1049.23,525.21 L1049.55,524.26 L1049.87,523.31 L1050.20,522.37 L1050.54,521.42 L1050.88,520.48 L1051.23,519.55 L1051.58,518.61 L1051.94,517.68 L1052.30,516.75 L1052.68,515.82 L1053.05,514.89 L1053.44,513.97 L1053.83,513.05 L1054.23,512.13 L1054.64,511.22 L1055.05,510.31 L1055.47,509.40 L1055.89,508.50 L1056.33,507.60 L1056.77,506.70 L1057.22,505.81 L1057.67,504.92 L1058.14,504.03 L1058.62,503.15 L1059.11,502.28 L1059.61,501.42 L1060.13,500.57 L1060.67,499.72 L1061.23,498.90 L1061.81,498.08 L1062.42,497.29 L1063.05,496.53 L1063.73,495.80 L1064.45,495.12 L1065.21,494.50 L1066.02,493.95 L1066.88,493.50 L1067.78,493.16 L1068.71,492.94 L1069.67,492.87 L1070.63,492.92 L1071.58,493.11 L1072.52,493.39 L1073.42,493.78 L1074.30,494.23 L1075.14,494.75 L1075.96,495.32 L1076.75,495.93 L1077.51,496.57 L1078.25,497.24 L1078.97,497.93 L1079.67,498.64 L1080.35,499.37 L1081.02,500.11 L1081.68,500.86 L1082.32,501.63 L1082.95,502.41 L1083.57,503.19 L1084.18,503.98 L1084.78,504.78 L1085.37,505.59 L1085.96,506.40 L1086.53,507.22 L1087.10,508.04 L1087.66,508.87 L1088.21,509.70 L1088.76,510.54 L1089.29,511.38 L1089.82,512.23 L1090.34,513.09 L1090.86,513.94 L1091.36,514.81 L1091.86,515.67 L1092.35,516.54 L1092.84,517.42 L1093.32,518.29 L1093.79,519.17 L1094.26,520.06 L1094.72,520.95 L1095.17,521.84 L1095.62,522.73 L1096.06,523.63 L1096.50,524.53 L1096.93,525.43 L1097.36,526.34 L1097.78,527.24 L1098.19,528.15 L1098.60,529.06 L1099.01,529.98 L1099.41,530.89 L1099.81,531.81 L1100.21,532.73 L1100.60,533.65 L1100.98,534.57 L1101.37,535.49 L1101.75,536.42 L1102.13,537.34 L1102.50,538.27 L1102.87,539.20 L1103.24,540.13 L1103.61,541.06 L1103.98,541.99 L1104.34,542.92 L1104.70,543.85 L1105.06,544.78 L1105.42,545.72 L1105.78,546.65 L1106.14,547.58 L1106.50,548.52 L1106.86,549.45 L1107.22,550.39 L1107.57,551.32 L1107.93,552.25 L1108.29,553.19 L1108.64,554.12 L1109.00,555.06 L1109.35,555.99 L1109.71,556.93 L1110.07,557.86 L1110.42,558.80 L1110.78,559.73 L1111.13,560.66 L1111.49,561.60 L1111.84,562.53 L1112.20,563.47 L1112.56,564.40 L1112.91,565.34 L1113.26,566.27 L1113.62,567.21 L1113.97,568.14 L1114.33,569.08 L1114.68,570.01 L1115.04,570.95 L1115.39,571.88 L1115.74,572.82 L1116.10,573.75 L1116.45,574.69 L1116.80,575.63 L1117.16,576.56 L1117.51,577.50 L1117.86,578.43 L1118.22,579.37 L1118.57,580.30 L1118.92,581.24 L1119.27,582.18 L1119.63,583.11 L1119.98,584.05 L1120.33,584.98 L1120.68,585.92 L1121.03,586.86 L1121.38,587.79 L1121.74,588.73 L1122.09,589.67 L1122.44,590.60 L1122.79,591.54 L1123.14,592.47 L1123.49,593.41 L1123.84,594.35 L1124.19,595.28 L1124.54,596.22 L1124.89,597.16 L1125.24,598.10 L1125.59,599.03 L1125.94,599.97 L1126.29,600.91 L1126.64,601.84 L1126.98,602.78 L1127.33,603.72 L1127.68,604.65 L1128.03,605.59 L1128.38,606.53 L1128.73,607.47 L1129.07,608.40 L1129.42,609.34 L1129.77,610.28 L1130.12,611.22 L1130.46,612.16 L1130.81,613.09 L1131.16,614.03 L1131.50,614.97 L1131.85,615.91 L1132.20,616.85 L1132.54,617.78 L1132.89,618.72 L1133.23,619.66 L1133.58,620.60 L1133.93,621.54 L1134.27,622.48 L1134.62,623.41 L1134.96,624.35 L1135.31,625.29 L1135.65,626.23 L1135.99,627.17 L1136.34,628.11 L1136.68,629.05 L1137.03,629.99 L1137.37,630.93 L1137.71,631.86 L1138.06,632.80 L1138.40,633.74 L1138.74,634.68 L1139.09,635.62 L1139.43,636.56 L1139.77,637.50 L1140.11,638.44 L1140.45,639.38 L1140.80,640.32 L1141.14,641.26 L1141.48,642.20 L1141.82,643.14 L1142.16,644.08 L1142.50,645.02 L1142.84,645.96 L1143.18,646.90 L1143.53,647.84 L1143.87,648.78 L1144.21,649.72 L1144.55,650.66 L1144.88,651.60 L1145.22,652.54 L1145.56,653.48 L1145.90,654.42 L1146.24,655.36 L1146.58,656.31 L1146.92,657.25 L1147.26,658.19 L1147.60,659.13 L1147.93,660.07 L1148.27,661.01 L1148.61,661.95 L1148.95,662.89 L1149.28,663.84 L1149.62,664.78 L1149.96,665.72 L1150.29,666.66 L1150.63,667.60 L1150.97,668.54 L1151.30,669.49 L1151.64,670.43 L1151.98,671.37 L1152.31,672.31 L1152.65,673.25 L1152.98,674.19 L1153.32,675.14 L1153.66,676.08 L1153.99,677.02 L1154.33,677.96 L1154.67,678.90 L1155.01,679.84 L1155.34,680.78 L1155.68,681.73 L1156.02,682.67 L1156.36,683.61 L1156.70,684.55 L1157.04,685.49 L1157.38,686.43 L1157.72,687.37 L1158.07,688.31 L1158.41,689.25 L1158.75,690.19 L1159.10,691.12 L1159.44,692.06 L1159.79,693.00 L1160.14,693.94 L1160.49,694.88 L1160.84,695.81 L1161.19,696.75 L1161.54,697.68 L1161.89,698.62 L1162.25,699.56 L1162.60,700.49 L1162.96,701.42 L1163.31,702.36 L1163.67,703.29 L1164.03,704.22 L1164.40,705.16 L1164.76,706.09 L1165.13,707.02 L1165.49,707.95 L1165.86,708.88 L1166.23,709.81 L1166.60,710.74 L1166.98,711.66 L1167.35,712.59 L1167.73,713.52 L1168.11,714.44 L1168.49,715.37 L1168.87,716.29 L1169.25,717.21 L1169.64,718.14 L1170.03,719.06 L1170.42,719.98 L1170.81,720.90 L1171.21,721.82 L1171.60,722.73 L1172.00,723.65 L1172.41,724.57 L1172.81,725.48 L1173.22,726.40 L1173.63,727.31 L1174.04,728.22 L1174.45,729.13 L1174.87,730.04 L1175.29,730.95 L1175.71,731.85 L1176.13,732.76 L1176.56,733.66 L1176.99,734.57 L1177.42,735.47 L1177.86,736.37 L1178.29,737.27 L1178.73,738.17 L1179.18,739.06 L1179.62,739.96 L1180.07,740.85 L1180.53,741.74 L1180.98,742.63 L1181.44,743.52 L1181.90,744.41 L1182.37,745.29 L1182.84,746.17 L1183.31,747.06 L1183.78,747.94 L1184.26,748.81 L1184.74,749.69 L1185.23,750.57 L1185.72,751.44 L1186.21,752.31 L1186.71,753.18 L1187.20,754.04 L1187.71,754.91 L1188.21,755.77 L1188.72,756.63 L1189.24,757.49 L1189.75,758.34 L1190.27,759.20 L1190.80,760.05 L1191.33,760.90 L1191.86,761.74 L1192.40,762.59 L1192.94,763.43 L1193.48,764.27 L1194.03,765.11 L1194.58,765.94 L1195.13,766.77 L1195.69,767.60 L1196.26,768.43 L1196.82,769.25 L1197.40,770.07 L1197.97,770.89 L1198.55,771.70 L1199.14,772.52 L1199.72,773.32 L1200.32,774.13 L1200.91,774.93 L1201.51,775.73 L1202.12,776.53 L1202.73,777.32 L1203.34,778.11 L1203.96,778.90 L1204.58,779.68 L1205.21,780.45 L1205.85,781.23 L1206.49,782.00 L1207.13,782.76 L1207.78,783.52 L1208.44,784.27 L1209.10,785.02 L1209.77,785.77 L1210.44,786.50 L1211.12,787.24 L1211.81,787.96 L1212.50,788.68 L1213.20,789.40 L1213.91,790.10 L1214.63,790.80 L1215.35,791.50 L1216.07,792.18 L1216.81,792.86 L1217.55,793.53 L1218.30,794.19 L1219.06,794.84 L1219.82,795.49 L1220.60,796.12 L1221.38,796.75 L1222.16,797.36 L1222.96,797.97 L1223.76,798.56 L1224.58,799.14 L1225.39,799.72 L1226.22,800.28 L1227.06,800.83 L1227.90,801.37 L1228.75,801.89 L1229.61,802.40 L1230.47,802.90 L1231.35,803.39 L1232.23,803.86 L1233.12,804.32 L1234.01,804.76 L1234.92,805.19 L1235.83,805.60 L1236.74,806.00 L1237.67,806.38 L1238.60,806.75 L1239.53,807.10 L1240.47,807.43 L1241.42,807.75 L1242.38,808.05 L1243.33,808.33 L1244.30,808.60 L1245.26,808.85 L1246.24,809.09 L1247.21,809.30 L1248.19,809.50 L1249.17,809.68 L1250.16,809.85 L1251.15,809.99 L1252.14,810.12 L1253.13,810.23 L1254.13,810.33 L1255.12,810.41 L1256.12,810.47 L1257.12,810.51 L1258.12,810.54 L1259.12,810.56 L1260.12,810.56 L1261.12,810.56" fill="none" stroke="#68c060" stroke-width="2.70" stroke-linejoin="round" stroke-linecap="round"/>
<path d="M968.72,777.34 L969.69,777.12 L970.66,776.89 L971.63,776.64 L972.59,776.36 L973.54,776.05 L974.48,775.72 L975.40,775.35 L976.32,774.95 L977.22,774.52 L978.10,774.05 L978.97,773.56 L979.81,773.03 L980.64,772.47 L981.44,771.88 L982.23,771.27 L982.99,770.62 L983.72,769.95 L984.44,769.25 L985.13,768.53 L985.79,767.79 L986.43,767.02 L987.05,766.24 L987.64,765.43 L988.21,764.61 L988.76,763.78 L989.28,762.93 L989.78,762.06 L990.27,761.19 L990.73,760.31 L991.17,759.41 L991.60,758.51 L992.01,757.59 L992.40,756.67 L992.78,755.75 L993.14,754.82 L993.49,753.88 L993.82,752.94 L994.14,751.99 L994.45,751.04 L994.75,750.09 L995.04,749.13 L995.32,748.17 L995.59,747.21 L995.85,746.24 L996.10,745.27 L996.35,744.30 L996.59,743.33 L996.82,742.36 L997.05,741.39 L997.27,740.41 L997.49,739.44 L997.70,738.46 L997.91,737.48 L998.12,736.51 L998.33,735.53 L998.53,734.55 L998.73,733.57 L998.93,732.59 L999.13,731.61 L999.33,730.63 L999.53,729.65 L999.72,728.67 L999.92,727.69 L1000.11,726.70 L1000.30,725.72 L1000.49,724.74 L1000.68,723.76 L1000.87,722.78 L1001.06,721.80 L1001.24,720.81 L1001.43,719.83 L1001.61,718.85 L1001.80,717.86 L1001.98,716.88 L1002.16,715.90 L1002.34,714.91 L1002.52,713.93 L1002.70,712.95 L1002.87,711.96 L1003.05,710.98 L1003.23,709.99 L1003.40,709.01 L1003.58,708.02 L1003.75,707.04 L1003.93,706.05 L1004.10,705.07 L1004.27,704.08 L1004.44,703.10 L1004.61,702.11 L1004.78,701.13 L1004.95,700.14 L1005.12,699.16 L1005.29,698.17 L1005.46,697.19 L1005.63,696.20 L1005.80,695.22 L1005.96,694.23 L1006.13,693.24 L1006.30,692.26 L1006.47,691.27 L1006.63,690.29 L1006.80,689.30 L1006.97,688.31 L1007.13,687.33 L1007.30,686.34 L1007.46,685.36 L1007.63,684.37 L1007.80,683.38 L1007.96,682.40 L1008.13,681.41 L1008.30,680.42 L1008.46,679.44 L1008.63,678.45 L1008.80,677.47 L1008.96,676.48 L1009.13,675.50 L1009.30,674.51 L1009.47,673.52 L1009.63,672.54 L1009.80,671.55 L1009.97,670.57 L1010.14,669.58 L1010.31,668.60 L1010.48,667.61 L1010.65,666.63 L1010.83,665.64 L1011.00,664.65 L1011.17,663.67 L1011.35,662.69 L1011.52,661.70 L1011.70,660.72 L1011.87,659.73 L1012.05,658.75 L1012.23,657.76 L1012.40,656.78 L1012.58,655.80 L1012.76,654.81 L1012.95,653.83 L1013.13,652.85 L1013.31,651.86 L1013.50,650.88 L1013.68,649.90 L1013.87,648.91 L1014.05,647.93 L1014.24,646.95 L1014.43,645.97 L1014.63,644.99 L1014.82,644.01 L1015.01,643.02 L1015.21,642.04 L1015.40,641.06 L1015.60,640.08 L1015.80,639.10 L1016.00,638.12 L1016.20,637.14 L1016.40,636.16 L1016.61,635.19 L1016.81,634.21 L1017.02,633.23 L1017.22,632.25 L1017.43,631.27 L1017.64,630.29 L1017.85,629.32 L1018.06,628.34 L1018.27,627.36 L1018.49,626.38 L1018.70,625.41 L1018.91,624.43 L1019.13,623.45 L1019.35,622.48 L1019.56,621.50 L1019.78,620.53 L1020.00,619.55 L1020.22,618.57 L1020.45,617.60 L1020.67,616.62 L1020.89,615.65 L1021.11,614.68 L1021.34,613.70 L1021.56,612.73 L1021.79,611.75 L1022.02,610.78 L1022.25,609.80 L1022.47,608.83 L1022.70,607.86 L1022.93,606.88 L1023.16,605.91 L1023.39,604.94 L1023.63,603.97 L1023.86,602.99 L1024.09,602.02 L1024.33,601.05 L1024.56,600.08 L1024.80,599.10 L1025.03,598.13 L1025.27,597.16 L1025.50,596.19 L1025.74,595.22 L1025.98,594.25 L1026.22,593.27 L1026.45,592.30 L1026.69,591.33 L1026.93,590.36 L1027.17,589.39 L1027.41,588.42 L1027.65,587.45 L1027.89,586.48 L1028.14,585.51 L1028.38,584.54 L1028.62,583.57 L1028.86,582.60 L1029.10,581.63 L1029.35,580.66 L1029.59,579.69 L1029.83,578.72 L1030.08,577.75 L1030.32,576.78 L1030.57,575.81 L1030.81,574.84 L1031.06,573.87 L1031.30,572.90 L1031.55,571.93 L1031.79,570.96 L1032.04,569.99 L1032.28,569.02 L1032.53,568.05 L1032.77,567.08 L1033.02,566.11 L1033.26,565.14 L1033.51,564.17 L1033.75,563.21 L1034.00,562.24 L1034.25,561.27 L1034.49,560.30 L1034.74,559.33 L1034.98,558.36 L1035.23,557.39 L1035.47,556.42 L1035.72,555.45 L1035.96,554.48 L1036.21,553.51 L1036.46,552.54 L1036.70,551.57 L1036.95,550.60 L1037.19,549.63 L1037.43,548.66 L1037.68,547.69 L1037.92,546.72 L1038.17,545.75 L1038.41,544.79 L1038.65,543.82 L1038.90,542.85 L1039.14,541.88 L1039.38,540.90 L1039.63,539.93 L1039.87,538.96 L1040.11,537.99 L1040.35,537.02 L1040.59,536.05 L1040.83,535.08 L1041.07,534.11 L1041.31,533.14 L1041.55,532.17 L1041.80,531.20 L1042.04,530.23 L1042.28,529.26 L1042.52,528.29 L1042.77,527.32 L1043.02,526.35 L1043.27,525.38 L1043.53,524.42 L1043.79,523.45 L1044.05,522.49 L1044.32,521.52 L1044.59,520.56 L1044.87,519.60 L1045.16,518.64 L1045.45,517.69 L1045.75,516.74 L1046.06,515.78 L1046.38,514.84 L1046.70,513.89 L1047.04,512.95 L1047.39,512.01 L1047.74,511.08 L1048.11,510.15 L1048.49,509.22 L1048.88,508.30 L1049.29,507.39 L1049.71,506.48 L1050.15,505.58 L1050.60,504.69 L1051.06,503.81 L1051.54,502.93 L1052.04,502.07 L1052.56,501.21 L1053.09,500.37 L1053.64,499.53 L1054.21,498.71 L1054.80,497.91 L1055.41,497.11 L1056.04,496.34 L1056.68,495.58 L1057.35,494.83 L1058.04,494.11 L1058.75,493.41 L1059.47,492.72 L1060.23,492.07 L1061.00,491.44 L1061.80,490.86 L1062.63,490.31 L1063.49,489.82 L1064.38,489.39 L1065.30,489.04 L1066.25,488.78 L1067.21,488.61 L1068.18,488.55 L1069.15,488.61 L1070.12,488.76 L1071.06,489.02 L1071.98,489.37 L1072.87,489.79 L1073.73,490.28 L1074.55,490.84 L1075.34,491.44 L1076.09,492.09 L1076.81,492.78 L1077.50,493.50 L1078.15,494.25 L1078.78,495.03 L1079.38,495.83 L1079.95,496.64 L1080.50,497.48 L1081.03,498.32 L1081.54,499.18 L1082.04,500.05 L1082.52,500.92 L1082.99,501.80 L1083.46,502.69 L1083.91,503.58 L1084.36,504.48 L1084.80,505.37 L1085.24,506.27 L1085.67,507.17 L1086.11,508.07 L1086.54,508.97 L1086.97,509.88 L1087.40,510.78 L1087.83,511.68 L1088.26,512.58 L1088.69,513.49 L1089.11,514.39 L1089.54,515.30 L1089.96,516.20 L1090.39,517.11 L1090.81,518.02 L1091.23,518.92 L1091.65,519.83 L1092.07,520.74 L1092.48,521.65 L1092.90,522.56 L1093.31,523.47 L1093.73,524.38 L1094.14,525.29 L1094.55,526.20 L1094.96,527.11 L1095.37,528.03 L1095.78,528.94 L1096.18,529.85 L1096.59,530.77 L1096.99,531.68 L1097.40,532.60 L1097.80,533.51 L1098.20,534.43 L1098.60,535.35 L1099.00,536.26 L1099.39,537.18 L1099.79,538.10 L1100.18,539.02 L1100.58,539.94 L1100.97,540.86 L1101.36,541.78 L1101.75,542.70 L1102.14,543.62 L1102.53,544.54 L1102.91,545.46 L1103.30,546.39 L1103.68,547.31 L1104.07,548.23 L1104.45,549.16 L1104.83,550.08 L1105.21,551.01 L1105.59,551.93 L1105.97,552.86 L1106.35,553.78 L1106.72,554.71 L1107.10,555.64 L1107.47,556.56 L1107.84,557.49 L1108.22,558.42 L1108.59,559.35 L1108.96,560.28 L1109.33,561.21 L1109.70,562.14 L1110.06,563.07 L1110.43,564.00 L1110.80,564.93 L1111.16,565.86 L1111.53,566.79 L1111.89,567.72 L1112.25,568.65 L1112.61,569.59 L1112.97,570.52 L1113.33,571.45 L1113.69,572.39 L1114.05,573.32 L1114.41,574.25 L1114.76,575.19 L1115.12,576.12 L1115.47,577.06 L1115.83,577.99 L1116.18,578.93 L1116.54,579.86 L1116.89,580.80 L1117.24,581.74 L1117.59,582.67 L1117.94,583.61 L1118.29,584.55 L1118.64,585.48 L1118.99,586.42 L1119.33,587.36 L1119.68,588.30 L1120.03,589.23 L1120.37,590.17 L1120.72,591.11 L1121.06,592.05 L1121.41,592.99 L1121.75,593.93 L1122.09,594.87 L1122.44,595.81 L1122.78,596.75 L1123.12,597.69 L1123.46,598.63 L1123.80,599.57 L1124.14,600.51 L1124.48,601.45 L1124.82,602.39 L1125.15,603.33 L1125.49,604.27 L1125.83,605.21 L1126.17,606.15 L1126.50,607.10 L1126.84,608.04 L1127.18,608.98 L1127.51,609.92 L1127.85,610.86 L1128.18,611.81 L1128.51,612.75 L1128.85,613.69 L1129.18,614.63 L1129.51,615.58 L1129.85,616.52 L1130.18,617.46 L1130.51,618.41 L1130.84,619.35 L1131.18,620.29 L1131.51,621.24 L1131.84,622.18 L1132.17,623.12 L1132.50,624.07 L1132.83,625.01 L1133.16,625.96 L1133.49,626.90 L1133.82,627.84 L1134.15,628.79 L1134.48,629.73 L1134.81,630.68 L1135.14,631.62 L1135.47,632.56 L1135.79,633.51 L1136.12,634.45 L1136.45,635.40 L1136.78,636.34 L1137.11,637.29 L1137.44,638.23 L1137.76,639.18 L1138.09,640.12 L1138.42,641.07 L1138.75,642.01 L1139.08,642.96 L1139.40,643.90 L1139.73,644.84 L1140.06,645.79 L1140.39,646.73 L1140.72,647.68 L1141.04,648.62 L1141.37,649.57 L1141.70,650.51 L1142.03,651.46 L1142.36,652.40 L1142.68,653.35 L1143.01,654.29 L1143.34,655.24 L1143.67,656.18 L1144.00,657.13 L1144.32,658.07 L1144.65,659.01 L1144.98,659.96 L1145.31,660.90 L1145.64,661.85 L1145.97,662.79 L1146.30,663.74 L1146.63,664.68 L1146.96,665.62 L1147.29,666.57 L1147.62,667.51 L1147.95,668.46 L1148.28,669.40 L1148.61,670.34 L1148.94,671.29 L1149.27,672.23 L1149.60,673.17 L1149.94,674.12 L1150.27,675.06 L1150.60,676.00 L1150.93,676.95 L1151.27,677.89 L1151.60,678.83 L1151.93,679.78 L1152.27,680.72 L1152.60,681.66 L1152.94,682.60 L1153.27,683.55 L1153.61,684.49 L1153.94,685.43 L1154.28,686.37 L1154.61,687.31 L1154.95,688.25 L1155.29,689.20 L1155.63,690.14 L1155.97,691.08 L1156.30,692.02 L1156.64,692.96 L1156.98,693.90 L1157.32,694.84 L1157.67,695.78 L1158.01,696.72 L1158.35,697.66 L1158.69,698.60 L1159.04,699.54 L1159.38,700.47 L1159.73,701.41 L1160.08,702.35 L1160.43,703.29 L1160.78,704.22 L1161.13,705.16 L1161.48,706.10 L1161.83,707.03 L1162.19,707.97 L1162.54,708.90 L1162.90,709.84 L1163.26,710.77 L1163.62,711.70 L1163.98,712.63 L1164.35,713.57 L1164.71,714.50 L1165.08,715.43 L1165.45,716.36 L1165.82,717.28 L1166.19,718.21 L1166.57,719.14 L1166.94,720.07 L1167.32,720.99 L1167.71,721.92 L1168.09,722.84 L1168.47,723.76 L1168.86,724.68 L1169.25,725.60 L1169.64,726.52 L1170.04,727.44 L1170.44,728.36 L1170.84,729.28 L1171.24,730.19 L1171.65,731.11 L1172.05,732.02 L1172.47,732.93 L1172.88,733.84 L1173.30,734.75 L1173.72,735.66 L1174.14,736.56 L1174.56,737.47 L1174.99,738.37 L1175.42,739.27 L1175.86,740.17 L1176.30,741.07 L1176.74,741.97 L1177.18,742.87 L1177.63,743.76 L1178.08,744.65 L1178.54,745.54 L1179.00,746.43 L1179.46,747.32 L1179.92,748.20 L1180.39,749.09 L1180.87,749.97 L1181.35,750.84 L1181.83,751.72 L1182.31,752.60 L1182.80,753.47 L1183.29,754.34 L1183.79,755.21 L1184.29,756.07 L1184.80,756.93 L1185.30,757.80 L1185.82,758.65 L1186.34,759.51 L1186.86,760.36 L1187.38,761.21 L1187.91,762.06 L1188.45,762.90 L1188.99,763.75 L1189.53,764.59 L1190.08,765.42 L1190.63,766.26 L1191.19,767.09 L1191.75,767.91 L1192.32,768.74 L1192.89,769.56 L1193.47,770.37 L1194.05,771.19 L1194.63,772.00 L1195.22,772.81 L1195.82,773.61 L1196.42,774.41 L1197.03,775.20 L1197.64,776.00 L1198.25,776.79 L1198.87,777.57 L1199.49,778.35 L1200.12,779.13 L1200.76,779.90 L1201.40,780.67 L1202.04,781.43 L1202.69,782.19 L1203.35,782.95 L1204.01,783.70 L1204.67,784.45 L1205.34,785.19 L1206.02,785.93 L1206.70,786.66 L1207.39,787.38 L1208.08,788.10 L1208.78,788.82 L1209.49,789.53 L1210.20,790.23 L1210.91,790.93 L1211.64,791.62 L1212.37,792.30 L1213.10,792.97 L1213.85,793.64 L1214.60,794.30 L1215.35,794.96 L1216.12,795.60 L1216.89,796.24 L1217.67,796.87 L1218.45,797.49 L1219.24,798.10 L1220.04,798.70 L1220.85,799.29 L1221.66,799.87 L1222.48,800.44 L1223.31,801.00 L1224.15,801.55 L1224.99,802.09 L1225.84,802.61 L1226.70,803.13 L1227.56,803.63 L1228.43,804.12 L1229.31,804.59 L1230.20,805.06 L1231.09,805.51 L1231.99,805.94 L1232.90,806.36 L1233.81,806.77 L1234.73,807.16 L1235.66,807.53 L1236.59,807.90 L1237.53,808.24 L1238.47,808.57 L1239.42,808.88 L1240.37,809.18 L1241.33,809.45 L1242.30,809.72 L1243.27,809.96 L1244.24,810.19 L1245.22,810.40 L1246.20,810.59 L1247.18,810.76 L1248.17,810.92 L1249.16,811.06 L1250.15,811.18 L1251.15,811.28 L1252.14,811.36 L1253.14,811.43 L1254.14,811.48 L1255.14,811.51 L1256.13,811.53 L1257.13,811.52 L1258.13,811.50 L1259.13,811.47 L1260.13,811.43 L1261.13,811.37" fill="none" stroke="#6a58b0" stroke-width="2.70" stroke-linejoin="round" stroke-linecap="round"/>
<line x1="1153.1" y1="494.7" x2="1203.3" y2="494.7" stroke="#f0904c" stroke-width="2.80"/>
<text x="1206.2" y="502.1" font-family="'Liberation Sans', sans-serif" font-size="16.30" font-weight="bold" fill="#2a2a2a" text-anchor="start" textLength="46.2" lengthAdjust="spacingAndGlyphs">X=1.2</text>
<line x1="1154.6" y1="526.7" x2="1204.8" y2="526.7" stroke="#68c060" stroke-width="2.80"/>
<text x="1207.2" y="533.1" font-family="'Liberation Sans', sans-serif" font-size="16.30" font-weight="bold" fill="#2a2a2a" text-anchor="start" textLength="46.6" lengthAdjust="spacingAndGlyphs">X=0.6</text>
<line x1="1154.1" y1="557.1" x2="1203.8" y2="557.1" stroke="#6a58b0" stroke-width="2.80"/>
<text x="1208.7" y="562.5" font-family="'Liberation Sans', sans-serif" font-size="16.30" font-weight="bold" fill="#2a2a2a" text-anchor="start" textLength="31.5" lengthAdjust="spacingAndGlyphs">X=0</text>
<text x="645.0" y="491.5" font-family="'Liberation Sans', sans-serif" font-size="40.00" font-weight="normal" fill="#111" text-anchor="start">(d)</text>
</g>
</svg>
<svg id="sharp" width="1280" height="887" viewBox="0 0 1280 887"><use href="#fig"/></svg>
</body></html>
